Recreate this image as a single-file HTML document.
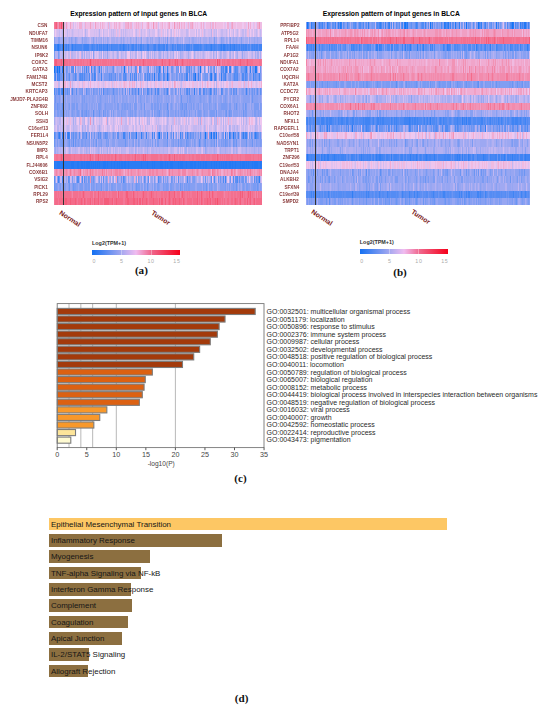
<!DOCTYPE html><html><head><meta charset="utf-8"><style>
*{margin:0;padding:0;box-sizing:border-box}
html,body{width:550px;height:713px;background:#fff;overflow:hidden;position:relative;font-family:"Liberation Sans",sans-serif}
div{position:absolute;white-space:nowrap}
.title{font-weight:bold;font-size:6.72px;color:#000;line-height:8px}
.gl{font-size:5.4px;font-weight:bold;line-height:7px;color:#8a3a3a;text-align:right;transform:scaleX(0.86);transform-origin:100% 50%}
.rot{font-size:6.9px;font-weight:bold;color:#7a2020;transform-origin:0 0;transform:rotate(33deg);line-height:7px}
.lgt{font-size:5.4px;font-weight:bold;color:#333;line-height:6px}
.cbar{width:88px;height:5px;background:linear-gradient(90deg,#1470f2 0%,#a4a8f0 33.3%,#f0bcf0 50%,#f06a90 66.7%,#f5001a 100%)}
.tk{font-size:5.3px;color:#aaa;width:20px;text-align:center;line-height:6px;letter-spacing:0.6px;text-indent:0.6px}
.plab{font-family:"Liberation Serif",serif;font-weight:bold;font-size:11.1px;color:#111;line-height:11px}
.cbox{border:1px solid #555}
.grid{width:1px;background:#b8b8b8}
.gbar{height:7.2px;border:1px solid #777}
.gol{font-size:7.0px;line-height:8px;color:#2a2a2a}
.tick{width:1px;height:2.5px;background:#555}
.xl{font-size:7.2px;line-height:8px;color:#444;width:20px;text-align:center}
.hbar{height:12.7px}
.hl{font-size:7.95px;line-height:11px;color:#161616}
</style></head><body><div class="title" id="ta" style="left:70.2px;top:9.6px">Expression pattern of input genes in BLCA</div><div class="title" id="tb" style="left:322.8px;top:9.6px">Expression pattern of input genes in BLCA</div><svg style="position:absolute;left:54px;top:21.6px;filter:blur(0.3px)" width="208.4" height="183.3" viewBox="0 0 208.4 183.3" shape-rendering="crispEdges"><rect x="0" y="0.00" width="208.40" height="7.38" fill="#efbde4"/><path fill="#f37898" d="M0 0.0h1v7.38h-1zM6 0.0h1v7.38h-1zM8 0.0h1v7.38h-1z"/><path fill="#f46b89" d="M1 0.0h1v7.38h-1zM5 0.0h1v7.38h-1z"/><path fill="#f45d7b" d="M2 0.0h1v7.38h-1z"/><path fill="#f285a7" d="M3 0.0h1v7.38h-1z"/><path fill="#f193b5" d="M4 0.0h1v7.38h-1zM99.2 0.0h1v7.38h-1zM120.2 0.0h1v7.38h-1zM205.4 0.0h1v7.38h-1z"/><path fill="#f5506c" d="M7 0.0h1v7.38h-1z"/><path fill="#f0add3" d="M10 0.0h1v7.38h-1zM25 0.0h3v7.38h-3zM31.1 0.0h1v7.38h-1zM46.1 0.0h1v7.38h-1zM48.1 0.0h1v7.38h-1zM54.1 0.0h1v7.38h-1zM60.1 0.0h1v7.38h-1zM62.1 0.0h1v7.38h-1zM65.1 0.0h1v7.38h-1zM71.1 0.0h3v7.38h-3zM76.1 0.0h2v7.38h-2zM82.2 0.0h1v7.38h-1zM84.2 0.0h1v7.38h-1zM88.2 0.0h1v7.38h-1zM93.2 0.0h1v7.38h-1zM102.2 0.0h1v7.38h-1zM108.2 0.0h1v7.38h-1zM114.2 0.0h1v7.38h-1zM123.2 0.0h1v7.38h-1zM127.2 0.0h1v7.38h-1zM130.2 0.0h1v7.38h-1zM134.3 0.0h1v7.38h-1zM136.3 0.0h2v7.38h-2zM147.3 0.0h1v7.38h-1zM149.3 0.0h1v7.38h-1zM156.3 0.0h1v7.38h-1zM158.3 0.0h2v7.38h-2zM161.3 0.0h1v7.38h-1zM173.3 0.0h2v7.38h-2zM177.3 0.0h1v7.38h-1zM196.4 0.0h1v7.38h-1zM203.4 0.0h2v7.38h-2z"/><path fill="#dfc2f0" d="M11 0.0h1v7.38h-1zM21 0.0h1v7.38h-1zM28.1 0.0h1v7.38h-1zM30.1 0.0h1v7.38h-1zM39.1 0.0h1v7.38h-1zM53.1 0.0h1v7.38h-1zM69.1 0.0h2v7.38h-2zM78.2 0.0h1v7.38h-1zM87.2 0.0h1v7.38h-1zM132.3 0.0h1v7.38h-1zM135.3 0.0h1v7.38h-1zM150.3 0.0h1v7.38h-1zM157.3 0.0h1v7.38h-1zM171.3 0.0h1v7.38h-1zM175.3 0.0h2v7.38h-2zM192.4 0.0h1v7.38h-1zM199.4 0.0h1v7.38h-1zM202.4 0.0h1v7.38h-1z"/><path fill="#f0a0c4" d="M12 0.0h1v7.38h-1zM16 0.0h1v7.38h-1zM36.1 0.0h1v7.38h-1zM41.1 0.0h1v7.38h-1zM74.1 0.0h1v7.38h-1zM94.2 0.0h1v7.38h-1zM115.2 0.0h1v7.38h-1zM125.2 0.0h1v7.38h-1zM138.3 0.0h1v7.38h-1zM178.3 0.0h1v7.38h-1zM194.4 0.0h1v7.38h-1z"/><path fill="#eec8f0" d="M14 0.0h2v7.38h-2zM20 0.0h1v7.38h-1zM22 0.0h1v7.38h-1zM24 0.0h1v7.38h-1zM29.1 0.0h1v7.38h-1zM40.1 0.0h1v7.38h-1zM45.1 0.0h1v7.38h-1zM47.1 0.0h1v7.38h-1zM51.1 0.0h2v7.38h-2zM58.1 0.0h2v7.38h-2zM63.1 0.0h1v7.38h-1zM67.1 0.0h2v7.38h-2zM79.2 0.0h1v7.38h-1zM89.2 0.0h3v7.38h-3zM96.2 0.0h1v7.38h-1zM98.2 0.0h1v7.38h-1zM105.2 0.0h1v7.38h-1zM109.2 0.0h1v7.38h-1zM112.2 0.0h1v7.38h-1zM116.2 0.0h2v7.38h-2zM119.2 0.0h1v7.38h-1zM126.2 0.0h1v7.38h-1zM131.3 0.0h1v7.38h-1zM140.3 0.0h1v7.38h-1zM142.3 0.0h1v7.38h-1zM144.3 0.0h2v7.38h-2zM148.3 0.0h1v7.38h-1zM151.3 0.0h1v7.38h-1zM160.3 0.0h1v7.38h-1zM169.3 0.0h1v7.38h-1zM172.3 0.0h1v7.38h-1zM182.3 0.0h1v7.38h-1zM188.4 0.0h2v7.38h-2zM193.4 0.0h1v7.38h-1zM195.4 0.0h1v7.38h-1zM197.4 0.0h2v7.38h-2zM201.4 0.0h1v7.38h-1z"/><path fill="#d1bdf1" d="M19 0.0h1v7.38h-1zM55.1 0.0h1v7.38h-1zM104.2 0.0h1v7.38h-1z"/><rect x="0" y="7.33" width="208.40" height="7.38" fill="#dac0f0"/><path fill="#d1bdf1" d="M0 7.3h1v7.38h-1zM3 7.3h2v7.38h-2zM7 7.3h1v7.38h-1zM15 7.3h1v7.38h-1zM17 7.3h1v7.38h-1zM19 7.3h1v7.38h-1zM24 7.3h1v7.38h-1zM28.1 7.3h1v7.38h-1zM32.1 7.3h2v7.38h-2zM40.1 7.3h1v7.38h-1zM42.1 7.3h1v7.38h-1zM44.1 7.3h1v7.38h-1zM53.1 7.3h1v7.38h-1zM55.1 7.3h1v7.38h-1zM58.1 7.3h1v7.38h-1zM60.1 7.3h2v7.38h-2zM63.1 7.3h1v7.38h-1zM72.1 7.3h2v7.38h-2zM75.1 7.3h1v7.38h-1zM78.2 7.3h1v7.38h-1zM81.2 7.3h1v7.38h-1zM90.2 7.3h1v7.38h-1zM93.2 7.3h2v7.38h-2zM98.2 7.3h3v7.38h-3zM105.2 7.3h1v7.38h-1zM109.2 7.3h1v7.38h-1zM116.2 7.3h1v7.38h-1zM124.2 7.3h1v7.38h-1zM127.2 7.3h2v7.38h-2zM134.3 7.3h1v7.38h-1zM144.3 7.3h2v7.38h-2zM151.3 7.3h1v7.38h-1zM154.3 7.3h3v7.38h-3zM159.3 7.3h1v7.38h-1zM161.3 7.3h1v7.38h-1zM166.3 7.3h1v7.38h-1zM169.3 7.3h3v7.38h-3zM182.3 7.3h1v7.38h-1zM187.4 7.3h1v7.38h-1zM192.4 7.3h1v7.38h-1zM195.4 7.3h1v7.38h-1zM198.4 7.3h1v7.38h-1zM200.4 7.3h2v7.38h-2zM203.4 7.3h1v7.38h-1z"/><path fill="#eec8f0" d="M1 7.3h1v7.38h-1zM10 7.3h1v7.38h-1zM29.1 7.3h1v7.38h-1zM34.1 7.3h2v7.38h-2zM48.1 7.3h1v7.38h-1zM54.1 7.3h1v7.38h-1zM79.2 7.3h2v7.38h-2zM92.2 7.3h1v7.38h-1zM101.2 7.3h2v7.38h-2zM110.2 7.3h1v7.38h-1zM112.2 7.3h1v7.38h-1zM115.2 7.3h1v7.38h-1zM118.2 7.3h1v7.38h-1zM121.2 7.3h1v7.38h-1zM123.2 7.3h1v7.38h-1zM125.2 7.3h1v7.38h-1zM135.3 7.3h1v7.38h-1zM141.3 7.3h1v7.38h-1zM143.3 7.3h1v7.38h-1zM146.3 7.3h1v7.38h-1zM163.3 7.3h1v7.38h-1zM174.3 7.3h1v7.38h-1zM176.3 7.3h1v7.38h-1zM180.3 7.3h1v7.38h-1zM185.4 7.3h1v7.38h-1zM196.4 7.3h1v7.38h-1zM199.4 7.3h1v7.38h-1zM204.4 7.3h1v7.38h-1z"/><path fill="#c2b7f1" d="M5 7.3h1v7.38h-1zM13 7.3h1v7.38h-1zM18 7.3h1v7.38h-1zM49.1 7.3h1v7.38h-1zM57.1 7.3h1v7.38h-1zM59.1 7.3h1v7.38h-1zM67.1 7.3h1v7.38h-1zM69.1 7.3h1v7.38h-1zM71.1 7.3h1v7.38h-1zM82.2 7.3h1v7.38h-1zM87.2 7.3h1v7.38h-1zM95.2 7.3h1v7.38h-1zM104.2 7.3h1v7.38h-1zM113.2 7.3h1v7.38h-1zM117.2 7.3h1v7.38h-1zM132.3 7.3h2v7.38h-2zM142.3 7.3h1v7.38h-1zM150.3 7.3h1v7.38h-1zM160.3 7.3h1v7.38h-1zM162.3 7.3h1v7.38h-1zM167.3 7.3h2v7.38h-2zM172.3 7.3h1v7.38h-1zM175.3 7.3h1v7.38h-1zM179.3 7.3h1v7.38h-1zM183.4 7.3h1v7.38h-1zM188.4 7.3h2v7.38h-2zM191.4 7.3h1v7.38h-1zM202.4 7.3h1v7.38h-1zM206.4 7.3h1v7.38h-1z"/><path fill="#b4b1f1" d="M8 7.3h1v7.38h-1zM31.1 7.3h1v7.38h-1zM45.1 7.3h1v7.38h-1zM157.3 7.3h1v7.38h-1z"/><path fill="#efbbe1" d="M62.1 7.3h1v7.38h-1zM65.1 7.3h1v7.38h-1zM85.2 7.3h1v7.38h-1zM107.2 7.3h1v7.38h-1zM120.2 7.3h1v7.38h-1zM148.3 7.3h1v7.38h-1zM158.3 7.3h1v7.38h-1zM193.4 7.3h2v7.38h-2z"/><rect x="0" y="14.66" width="208.40" height="7.38" fill="#a5acf2"/><path fill="#88a0f2" d="M0 14.7h1v7.38h-1zM4 14.7h2v7.38h-2zM9 14.7h1v7.38h-1zM17 14.7h1v7.38h-1zM21 14.7h1v7.38h-1zM28.1 14.7h1v7.38h-1zM39.1 14.7h1v7.38h-1zM82.2 14.7h1v7.38h-1zM87.2 14.7h1v7.38h-1zM105.2 14.7h1v7.38h-1zM167.3 14.7h1v7.38h-1zM176.3 14.7h1v7.38h-1zM187.4 14.7h1v7.38h-1z"/><path fill="#97a6f2" d="M8 14.7h1v7.38h-1zM15 14.7h1v7.38h-1zM18 14.7h1v7.38h-1zM22 14.7h1v7.38h-1zM30.1 14.7h3v7.38h-3zM42.1 14.7h1v7.38h-1zM47.1 14.7h1v7.38h-1zM49.1 14.7h1v7.38h-1zM53.1 14.7h1v7.38h-1zM67.1 14.7h1v7.38h-1zM69.1 14.7h1v7.38h-1zM76.1 14.7h1v7.38h-1zM93.2 14.7h1v7.38h-1zM96.2 14.7h1v7.38h-1zM98.2 14.7h1v7.38h-1zM104.2 14.7h1v7.38h-1zM109.2 14.7h1v7.38h-1zM111.2 14.7h1v7.38h-1zM116.2 14.7h2v7.38h-2zM119.2 14.7h1v7.38h-1zM123.2 14.7h1v7.38h-1zM135.3 14.7h1v7.38h-1zM138.3 14.7h2v7.38h-2zM146.3 14.7h1v7.38h-1zM155.3 14.7h1v7.38h-1zM162.3 14.7h1v7.38h-1zM168.3 14.7h2v7.38h-2zM172.3 14.7h1v7.38h-1zM175.3 14.7h1v7.38h-1zM179.3 14.7h1v7.38h-1zM182.3 14.7h1v7.38h-1zM195.4 14.7h1v7.38h-1zM200.4 14.7h1v7.38h-1zM203.4 14.7h1v7.38h-1z"/><path fill="#b4b1f1" d="M13 14.7h1v7.38h-1zM24 14.7h3v7.38h-3zM35.1 14.7h1v7.38h-1zM41.1 14.7h1v7.38h-1zM43.1 14.7h1v7.38h-1zM50.1 14.7h1v7.38h-1zM52.1 14.7h1v7.38h-1zM55.1 14.7h1v7.38h-1zM61.1 14.7h1v7.38h-1zM64.1 14.7h2v7.38h-2zM68.1 14.7h1v7.38h-1zM71.1 14.7h2v7.38h-2zM74.1 14.7h2v7.38h-2zM78.2 14.7h1v7.38h-1zM80.2 14.7h1v7.38h-1zM83.2 14.7h1v7.38h-1zM85.2 14.7h1v7.38h-1zM89.2 14.7h3v7.38h-3zM95.2 14.7h1v7.38h-1zM99.2 14.7h2v7.38h-2zM106.2 14.7h1v7.38h-1zM108.2 14.7h1v7.38h-1zM110.2 14.7h1v7.38h-1zM112.2 14.7h1v7.38h-1zM114.2 14.7h2v7.38h-2zM120.2 14.7h2v7.38h-2zM125.2 14.7h1v7.38h-1zM127.2 14.7h1v7.38h-1zM130.2 14.7h1v7.38h-1zM136.3 14.7h1v7.38h-1zM143.3 14.7h1v7.38h-1zM145.3 14.7h1v7.38h-1zM147.3 14.7h2v7.38h-2zM153.3 14.7h2v7.38h-2zM158.3 14.7h1v7.38h-1zM165.3 14.7h1v7.38h-1zM171.3 14.7h1v7.38h-1zM177.3 14.7h1v7.38h-1zM184.4 14.7h1v7.38h-1zM190.4 14.7h1v7.38h-1zM196.4 14.7h1v7.38h-1z"/><path fill="#c2b7f1" d="M36.1 14.7h1v7.38h-1zM48.1 14.7h1v7.38h-1zM56.1 14.7h1v7.38h-1zM88.2 14.7h1v7.38h-1zM163.3 14.7h2v7.38h-2zM174.3 14.7h1v7.38h-1zM194.4 14.7h1v7.38h-1z"/><path fill="#7a9bf3" d="M113.2 14.7h1v7.38h-1zM160.3 14.7h1v7.38h-1z"/><path fill="#d1bdf1" d="M129.2 14.7h1v7.38h-1z"/><rect x="0" y="22.00" width="208.40" height="7.38" fill="#4b89f4"/><path fill="#4084f4" d="M0 22.0h2v7.38h-2zM5 22.0h1v7.38h-1zM12 22.0h1v7.38h-1zM14 22.0h1v7.38h-1zM21 22.0h1v7.38h-1zM30.1 22.0h5v7.38h-5zM38.1 22.0h1v7.38h-1zM43.1 22.0h1v7.38h-1zM45.1 22.0h1v7.38h-1zM47.1 22.0h1v7.38h-1zM49.1 22.0h1v7.38h-1zM57.1 22.0h1v7.38h-1zM66.1 22.0h1v7.38h-1zM70.1 22.0h1v7.38h-1zM74.1 22.0h1v7.38h-1zM78.2 22.0h2v7.38h-2zM82.2 22.0h1v7.38h-1zM86.2 22.0h2v7.38h-2zM93.2 22.0h2v7.38h-2zM100.2 22.0h2v7.38h-2zM104.2 22.0h2v7.38h-2zM109.2 22.0h2v7.38h-2zM112.2 22.0h2v7.38h-2zM118.2 22.0h1v7.38h-1zM123.2 22.0h1v7.38h-1zM132.3 22.0h4v7.38h-4zM140.3 22.0h5v7.38h-5zM146.3 22.0h1v7.38h-1zM152.3 22.0h1v7.38h-1zM156.3 22.0h1v7.38h-1zM160.3 22.0h1v7.38h-1zM166.3 22.0h1v7.38h-1zM171.3 22.0h1v7.38h-1zM173.3 22.0h1v7.38h-1zM178.3 22.0h2v7.38h-2zM182.3 22.0h1v7.38h-1zM185.4 22.0h1v7.38h-1zM187.4 22.0h1v7.38h-1zM189.4 22.0h1v7.38h-1zM191.4 22.0h2v7.38h-2zM198.4 22.0h1v7.38h-1zM200.4 22.0h1v7.38h-1zM202.4 22.0h2v7.38h-2zM205.4 22.0h3v7.38h-3z"/><path fill="#317ef4" d="M3 22.0h1v7.38h-1zM8 22.0h1v7.38h-1zM18 22.0h1v7.38h-1zM53.1 22.0h1v7.38h-1zM69.1 22.0h1v7.38h-1zM157.3 22.0h1v7.38h-1zM167.3 22.0h1v7.38h-1zM169.3 22.0h2v7.38h-2zM176.3 22.0h1v7.38h-1zM180.3 22.0h1v7.38h-1z"/><path fill="#2379f5" d="M4 22.0h1v7.38h-1z"/><path fill="#5d8ff3" d="M7 22.0h1v7.38h-1zM10 22.0h1v7.38h-1zM13 22.0h1v7.38h-1zM15 22.0h1v7.38h-1zM28.1 22.0h1v7.38h-1zM35.1 22.0h2v7.38h-2zM41.1 22.0h1v7.38h-1zM44.1 22.0h1v7.38h-1zM48.1 22.0h1v7.38h-1zM54.1 22.0h1v7.38h-1zM56.1 22.0h1v7.38h-1zM64.1 22.0h1v7.38h-1zM73.1 22.0h1v7.38h-1zM75.1 22.0h2v7.38h-2zM80.2 22.0h1v7.38h-1zM85.2 22.0h1v7.38h-1zM88.2 22.0h1v7.38h-1zM90.2 22.0h3v7.38h-3zM95.2 22.0h4v7.38h-4zM102.2 22.0h2v7.38h-2zM116.2 22.0h2v7.38h-2zM120.2 22.0h1v7.38h-1zM127.2 22.0h1v7.38h-1zM131.3 22.0h1v7.38h-1zM136.3 22.0h1v7.38h-1zM148.3 22.0h2v7.38h-2zM163.3 22.0h1v7.38h-1zM186.4 22.0h1v7.38h-1zM193.4 22.0h1v7.38h-1zM204.4 22.0h1v7.38h-1z"/><path fill="#6b95f3" d="M16 22.0h1v7.38h-1zM83.2 22.0h1v7.38h-1zM111.2 22.0h1v7.38h-1zM114.2 22.0h2v7.38h-2zM122.2 22.0h1v7.38h-1zM129.2 22.0h1v7.38h-1zM138.3 22.0h1v7.38h-1zM196.4 22.0h1v7.38h-1z"/><rect x="0" y="29.33" width="208.40" height="7.38" fill="#c2b7f1"/><path fill="#7a9bf3" d="M0 29.3h1v7.38h-1zM4 29.3h1v7.38h-1z"/><path fill="#b4b1f1" d="M1 29.3h3v7.38h-3zM17 29.3h2v7.38h-2zM27.1 29.3h1v7.38h-1zM32.1 29.3h1v7.38h-1zM35.1 29.3h1v7.38h-1zM45.1 29.3h1v7.38h-1zM51.1 29.3h1v7.38h-1zM59.1 29.3h1v7.38h-1zM64.1 29.3h1v7.38h-1zM67.1 29.3h1v7.38h-1zM71.1 29.3h1v7.38h-1zM76.1 29.3h1v7.38h-1zM81.2 29.3h2v7.38h-2zM93.2 29.3h1v7.38h-1zM96.2 29.3h1v7.38h-1zM98.2 29.3h1v7.38h-1zM104.2 29.3h1v7.38h-1zM116.2 29.3h1v7.38h-1zM127.2 29.3h2v7.38h-2zM149.3 29.3h1v7.38h-1zM167.3 29.3h1v7.38h-1zM169.3 29.3h3v7.38h-3zM175.3 29.3h1v7.38h-1zM179.3 29.3h1v7.38h-1zM182.3 29.3h1v7.38h-1zM190.4 29.3h1v7.38h-1zM198.4 29.3h1v7.38h-1z"/><path fill="#97a6f2" d="M5 29.3h1v7.38h-1zM53.1 29.3h1v7.38h-1zM188.4 29.3h1v7.38h-1z"/><path fill="#a5acf2" d="M8 29.3h1v7.38h-1zM28.1 29.3h1v7.38h-1zM30.1 29.3h1v7.38h-1zM47.1 29.3h1v7.38h-1zM49.1 29.3h1v7.38h-1zM63.1 29.3h1v7.38h-1zM87.2 29.3h1v7.38h-1zM94.2 29.3h1v7.38h-1zM100.2 29.3h1v7.38h-1zM105.2 29.3h2v7.38h-2zM109.2 29.3h1v7.38h-1zM113.2 29.3h1v7.38h-1zM119.2 29.3h1v7.38h-1zM126.2 29.3h1v7.38h-1zM134.3 29.3h1v7.38h-1zM140.3 29.3h1v7.38h-1zM159.3 29.3h1v7.38h-1zM162.3 29.3h1v7.38h-1zM166.3 29.3h1v7.38h-1zM176.3 29.3h1v7.38h-1zM183.4 29.3h1v7.38h-1zM201.4 29.3h1v7.38h-1zM203.4 29.3h2v7.38h-2zM206.4 29.3h1v7.38h-1z"/><path fill="#d1bdf1" d="M10 29.3h1v7.38h-1zM12 29.3h1v7.38h-1zM29.1 29.3h1v7.38h-1zM42.1 29.3h1v7.38h-1zM44.1 29.3h1v7.38h-1zM56.1 29.3h2v7.38h-2zM60.1 29.3h2v7.38h-2zM66.1 29.3h1v7.38h-1zM70.1 29.3h1v7.38h-1zM77.1 29.3h1v7.38h-1zM79.2 29.3h2v7.38h-2zM84.2 29.3h3v7.38h-3zM90.2 29.3h1v7.38h-1zM95.2 29.3h1v7.38h-1zM99.2 29.3h1v7.38h-1zM103.2 29.3h1v7.38h-1zM108.2 29.3h1v7.38h-1zM110.2 29.3h1v7.38h-1zM115.2 29.3h1v7.38h-1zM125.2 29.3h1v7.38h-1zM130.2 29.3h2v7.38h-2zM139.3 29.3h1v7.38h-1zM142.3 29.3h1v7.38h-1zM145.3 29.3h1v7.38h-1zM147.3 29.3h1v7.38h-1zM151.3 29.3h1v7.38h-1zM153.3 29.3h1v7.38h-1zM155.3 29.3h1v7.38h-1zM161.3 29.3h1v7.38h-1zM164.3 29.3h1v7.38h-1zM168.3 29.3h1v7.38h-1zM173.3 29.3h1v7.38h-1zM177.3 29.3h1v7.38h-1zM184.4 29.3h3v7.38h-3zM195.4 29.3h2v7.38h-2zM199.4 29.3h2v7.38h-2zM205.4 29.3h1v7.38h-1z"/><path fill="#dfc2f0" d="M13 29.3h1v7.38h-1zM22 29.3h1v7.38h-1zM25 29.3h1v7.38h-1zM31.1 29.3h1v7.38h-1zM36.1 29.3h1v7.38h-1zM41.1 29.3h1v7.38h-1zM43.1 29.3h1v7.38h-1zM65.1 29.3h1v7.38h-1zM88.2 29.3h1v7.38h-1zM97.2 29.3h1v7.38h-1zM120.2 29.3h2v7.38h-2zM137.3 29.3h1v7.38h-1zM152.3 29.3h1v7.38h-1zM154.3 29.3h1v7.38h-1zM158.3 29.3h1v7.38h-1zM174.3 29.3h1v7.38h-1zM194.4 29.3h1v7.38h-1zM207.4 29.3h1v7.38h-1z"/><path fill="#efbbe1" d="M16 29.3h1v7.38h-1zM26.1 29.3h1v7.38h-1z"/><path fill="#eec8f0" d="M38.1 29.3h1v7.38h-1zM48.1 29.3h1v7.38h-1zM73.1 29.3h3v7.38h-3zM83.2 29.3h1v7.38h-1zM89.2 29.3h1v7.38h-1zM91.2 29.3h1v7.38h-1zM123.2 29.3h1v7.38h-1zM138.3 29.3h1v7.38h-1zM163.3 29.3h1v7.38h-1zM180.3 29.3h1v7.38h-1z"/><path fill="#88a0f2" d="M39.1 29.3h1v7.38h-1z"/><rect x="0" y="36.66" width="208.40" height="7.38" fill="#f3708f"/><path fill="#f45d7b" d="M1 36.7h2v7.38h-2zM7 36.7h1v7.38h-1zM10 36.7h1v7.38h-1zM77.1 36.7h1v7.38h-1zM89.2 36.7h1v7.38h-1zM108.2 36.7h1v7.38h-1zM115.2 36.7h1v7.38h-1zM121.2 36.7h1v7.38h-1zM123.2 36.7h1v7.38h-1zM128.2 36.7h1v7.38h-1zM165.3 36.7h1v7.38h-1zM186.4 36.7h1v7.38h-1zM193.4 36.7h1v7.38h-1z"/><path fill="#f37898" d="M8 36.7h1v7.38h-1zM14 36.7h1v7.38h-1zM17 36.7h3v7.38h-3zM22 36.7h1v7.38h-1zM25 36.7h1v7.38h-1zM28.1 36.7h1v7.38h-1zM30.1 36.7h3v7.38h-3zM34.1 36.7h1v7.38h-1zM38.1 36.7h1v7.38h-1zM40.1 36.7h1v7.38h-1zM42.1 36.7h1v7.38h-1zM45.1 36.7h1v7.38h-1zM47.1 36.7h1v7.38h-1zM53.1 36.7h1v7.38h-1zM55.1 36.7h1v7.38h-1zM58.1 36.7h1v7.38h-1zM60.1 36.7h1v7.38h-1zM63.1 36.7h1v7.38h-1zM71.1 36.7h1v7.38h-1zM74.1 36.7h2v7.38h-2zM78.2 36.7h2v7.38h-2zM81.2 36.7h2v7.38h-2zM84.2 36.7h1v7.38h-1zM87.2 36.7h1v7.38h-1zM92.2 36.7h1v7.38h-1zM98.2 36.7h1v7.38h-1zM103.2 36.7h4v7.38h-4zM109.2 36.7h1v7.38h-1zM112.2 36.7h2v7.38h-2zM117.2 36.7h1v7.38h-1zM119.2 36.7h1v7.38h-1zM124.2 36.7h3v7.38h-3zM130.2 36.7h3v7.38h-3zM134.3 36.7h1v7.38h-1zM137.3 36.7h1v7.38h-1zM145.3 36.7h2v7.38h-2zM149.3 36.7h1v7.38h-1zM151.3 36.7h2v7.38h-2zM156.3 36.7h5v7.38h-5zM166.3 36.7h1v7.38h-1zM169.3 36.7h1v7.38h-1zM171.3 36.7h2v7.38h-2zM176.3 36.7h2v7.38h-2zM180.3 36.7h1v7.38h-1zM182.3 36.7h2v7.38h-2zM191.4 36.7h1v7.38h-1zM199.4 36.7h6v7.38h-6zM207.4 36.7h1v7.38h-1z"/><path fill="#f5506c" d="M36.1 36.7h1v7.38h-1zM163.3 36.7h1v7.38h-1z"/><path fill="#f285a7" d="M70.1 36.7h1v7.38h-1zM162.3 36.7h1v7.38h-1zM167.3 36.7h1v7.38h-1z"/><rect x="0" y="43.99" width="208.40" height="7.38" fill="#8ea3f2"/><path fill="#1473f5" d="M0 44.0h1v7.38h-1zM3 44.0h1v7.38h-1zM5 44.0h1v7.38h-1z"/><path fill="#4e8af4" d="M1 44.0h1v7.38h-1zM4 44.0h1v7.38h-1zM9 44.0h1v7.38h-1zM19 44.0h1v7.38h-1zM40.1 44.0h1v7.38h-1zM85.2 44.0h1v7.38h-1zM135.3 44.0h1v7.38h-1zM167.3 44.0h1v7.38h-1zM169.3 44.0h1v7.38h-1zM181.3 44.0h1v7.38h-1zM191.4 44.0h1v7.38h-1z"/><path fill="#5d8ff3" d="M2 44.0h1v7.38h-1zM17 44.0h2v7.38h-2zM21 44.0h1v7.38h-1zM30.1 44.0h1v7.38h-1zM34.1 44.0h1v7.38h-1zM47.1 44.0h1v7.38h-1zM59.1 44.0h1v7.38h-1zM81.2 44.0h1v7.38h-1zM86.2 44.0h1v7.38h-1zM94.2 44.0h1v7.38h-1zM106.2 44.0h1v7.38h-1zM132.3 44.0h2v7.38h-2zM160.3 44.0h1v7.38h-1zM182.3 44.0h2v7.38h-2z"/><path fill="#7a9bf3" d="M6 44.0h1v7.38h-1zM13 44.0h1v7.38h-1zM44.1 44.0h1v7.38h-1zM53.1 44.0h1v7.38h-1zM58.1 44.0h1v7.38h-1zM67.1 44.0h1v7.38h-1zM74.1 44.0h1v7.38h-1zM77.1 44.0h1v7.38h-1zM93.2 44.0h1v7.38h-1zM100.2 44.0h1v7.38h-1zM103.2 44.0h1v7.38h-1zM123.2 44.0h1v7.38h-1zM134.3 44.0h1v7.38h-1zM156.3 44.0h2v7.38h-2zM159.3 44.0h1v7.38h-1zM173.3 44.0h1v7.38h-1zM188.4 44.0h2v7.38h-2zM198.4 44.0h1v7.38h-1zM200.4 44.0h1v7.38h-1z"/><path fill="#2379f5" d="M8 44.0h1v7.38h-1zM202.4 44.0h1v7.38h-1z"/><path fill="#a5acf2" d="M10 44.0h2v7.38h-2zM14 44.0h1v7.38h-1zM23 44.0h1v7.38h-1zM25 44.0h1v7.38h-1zM29.1 44.0h1v7.38h-1zM35.1 44.0h1v7.38h-1zM46.1 44.0h1v7.38h-1zM54.1 44.0h1v7.38h-1zM60.1 44.0h1v7.38h-1zM62.1 44.0h1v7.38h-1zM64.1 44.0h2v7.38h-2zM68.1 44.0h1v7.38h-1zM80.2 44.0h1v7.38h-1zM89.2 44.0h3v7.38h-3zM98.2 44.0h1v7.38h-1zM101.2 44.0h1v7.38h-1zM110.2 44.0h1v7.38h-1zM129.2 44.0h1v7.38h-1zM131.3 44.0h1v7.38h-1zM143.3 44.0h1v7.38h-1zM147.3 44.0h1v7.38h-1zM151.3 44.0h1v7.38h-1zM166.3 44.0h1v7.38h-1zM177.3 44.0h1v7.38h-1zM179.3 44.0h1v7.38h-1z"/><path fill="#6b95f3" d="M12 44.0h1v7.38h-1zM28.1 44.0h1v7.38h-1zM41.1 44.0h1v7.38h-1zM82.2 44.0h1v7.38h-1zM102.2 44.0h1v7.38h-1zM104.2 44.0h1v7.38h-1zM117.2 44.0h2v7.38h-2zM122.2 44.0h1v7.38h-1zM124.2 44.0h1v7.38h-1zM126.2 44.0h1v7.38h-1zM137.3 44.0h1v7.38h-1zM140.3 44.0h1v7.38h-1zM144.3 44.0h1v7.38h-1zM150.3 44.0h1v7.38h-1zM154.3 44.0h1v7.38h-1zM168.3 44.0h1v7.38h-1zM180.3 44.0h1v7.38h-1zM187.4 44.0h1v7.38h-1zM190.4 44.0h1v7.38h-1zM199.4 44.0h1v7.38h-1zM206.4 44.0h1v7.38h-1z"/><path fill="#c2b7f1" d="M16 44.0h1v7.38h-1zM22 44.0h1v7.38h-1zM48.1 44.0h1v7.38h-1zM50.1 44.0h1v7.38h-1zM61.1 44.0h1v7.38h-1zM78.2 44.0h1v7.38h-1zM107.2 44.0h1v7.38h-1zM128.2 44.0h1v7.38h-1zM130.2 44.0h1v7.38h-1zM142.3 44.0h1v7.38h-1zM155.3 44.0h1v7.38h-1zM164.3 44.0h2v7.38h-2zM194.4 44.0h1v7.38h-1z"/><path fill="#efbbe1" d="M20 44.0h1v7.38h-1zM36.1 44.0h1v7.38h-1zM73.1 44.0h1v7.38h-1z"/><path fill="#97a6f2" d="M24 44.0h1v7.38h-1zM26.1 44.0h1v7.38h-1zM31.1 44.0h1v7.38h-1zM38.1 44.0h2v7.38h-2zM43.1 44.0h1v7.38h-1zM49.1 44.0h1v7.38h-1zM52.1 44.0h1v7.38h-1zM55.1 44.0h3v7.38h-3zM63.1 44.0h1v7.38h-1zM71.1 44.0h1v7.38h-1zM92.2 44.0h1v7.38h-1zM96.2 44.0h1v7.38h-1zM111.2 44.0h1v7.38h-1zM114.2 44.0h1v7.38h-1zM127.2 44.0h1v7.38h-1zM136.3 44.0h1v7.38h-1zM139.3 44.0h1v7.38h-1zM145.3 44.0h1v7.38h-1zM184.4 44.0h1v7.38h-1zM186.4 44.0h1v7.38h-1zM195.4 44.0h1v7.38h-1zM203.4 44.0h1v7.38h-1z"/><path fill="#d1bdf1" d="M27.1 44.0h1v7.38h-1zM88.2 44.0h1v7.38h-1zM95.2 44.0h1v7.38h-1zM97.2 44.0h1v7.38h-1zM108.2 44.0h1v7.38h-1zM148.3 44.0h2v7.38h-2zM161.3 44.0h1v7.38h-1z"/><path fill="#4084f4" d="M32.1 44.0h1v7.38h-1zM37.1 44.0h1v7.38h-1zM45.1 44.0h1v7.38h-1zM113.2 44.0h1v7.38h-1zM171.3 44.0h1v7.38h-1zM175.3 44.0h1v7.38h-1z"/><path fill="#b4b1f1" d="M42.1 44.0h1v7.38h-1zM66.1 44.0h1v7.38h-1zM72.1 44.0h1v7.38h-1zM75.1 44.0h2v7.38h-2zM79.2 44.0h1v7.38h-1zM99.2 44.0h1v7.38h-1zM112.2 44.0h1v7.38h-1zM115.2 44.0h2v7.38h-2zM120.2 44.0h2v7.38h-2zM138.3 44.0h1v7.38h-1zM141.3 44.0h1v7.38h-1zM158.3 44.0h1v7.38h-1zM185.4 44.0h1v7.38h-1zM197.4 44.0h1v7.38h-1zM207.4 44.0h1v7.38h-1z"/><path fill="#1473f5" d="M70.1 44.0h1v7.38h-1z"/><path fill="#f0a0c4" d="M83.2 44.0h1v7.38h-1z"/><path fill="#eec8f0" d="M84.2 44.0h1v7.38h-1zM125.2 44.0h1v7.38h-1zM152.3 44.0h1v7.38h-1zM205.4 44.0h1v7.38h-1z"/><path fill="#317ef4" d="M105.2 44.0h1v7.38h-1zM109.2 44.0h1v7.38h-1zM172.3 44.0h1v7.38h-1zM176.3 44.0h1v7.38h-1zM192.4 44.0h1v7.38h-1zM196.4 44.0h1v7.38h-1z"/><path fill="#1473f5" d="M146.3 44.0h1v7.38h-1z"/><path fill="#dfc2f0" d="M153.3 44.0h1v7.38h-1zM163.3 44.0h1v7.38h-1zM174.3 44.0h1v7.38h-1zM178.3 44.0h1v7.38h-1zM204.4 44.0h1v7.38h-1z"/><path fill="#1473f5" d="M201.4 44.0h1v7.38h-1z"/><rect x="0" y="51.32" width="208.40" height="7.38" fill="#7197f3"/><path fill="#5d8ff3" d="M0 51.3h1v7.38h-1zM15 51.3h1v7.38h-1zM25 51.3h1v7.38h-1zM27.1 51.3h1v7.38h-1zM38.1 51.3h1v7.38h-1zM55.1 51.3h1v7.38h-1zM57.1 51.3h1v7.38h-1zM61.1 51.3h1v7.38h-1zM69.1 51.3h2v7.38h-2zM78.2 51.3h1v7.38h-1zM91.2 51.3h1v7.38h-1zM98.2 51.3h1v7.38h-1zM110.2 51.3h1v7.38h-1zM114.2 51.3h1v7.38h-1zM135.3 51.3h1v7.38h-1zM169.3 51.3h2v7.38h-2zM181.3 51.3h2v7.38h-2zM192.4 51.3h1v7.38h-1zM201.4 51.3h1v7.38h-1z"/><path fill="#4084f4" d="M1 51.3h1v7.38h-1zM3 51.3h1v7.38h-1zM5 51.3h1v7.38h-1zM40.1 51.3h1v7.38h-1zM47.1 51.3h1v7.38h-1zM104.2 51.3h1v7.38h-1zM132.3 51.3h2v7.38h-2zM144.3 51.3h1v7.38h-1zM156.3 51.3h1v7.38h-1zM161.3 51.3h1v7.38h-1zM171.3 51.3h1v7.38h-1zM199.4 51.3h1v7.38h-1zM205.4 51.3h1v7.38h-1z"/><path fill="#a5acf2" d="M2 51.3h1v7.38h-1zM23 51.3h1v7.38h-1zM48.1 51.3h1v7.38h-1zM64.1 51.3h1v7.38h-1zM68.1 51.3h1v7.38h-1zM73.1 51.3h1v7.38h-1zM75.1 51.3h1v7.38h-1zM85.2 51.3h1v7.38h-1zM108.2 51.3h1v7.38h-1zM124.2 51.3h1v7.38h-1zM159.3 51.3h1v7.38h-1zM166.3 51.3h1v7.38h-1zM173.3 51.3h1v7.38h-1zM186.4 51.3h1v7.38h-1zM207.4 51.3h1v7.38h-1z"/><path fill="#4e8af4" d="M4 51.3h1v7.38h-1zM21 51.3h1v7.38h-1zM26.1 51.3h1v7.38h-1zM28.1 51.3h1v7.38h-1zM30.1 51.3h1v7.38h-1zM35.1 51.3h1v7.38h-1zM41.1 51.3h1v7.38h-1zM71.1 51.3h1v7.38h-1zM76.1 51.3h1v7.38h-1zM80.2 51.3h1v7.38h-1zM82.2 51.3h1v7.38h-1zM93.2 51.3h1v7.38h-1zM95.2 51.3h1v7.38h-1zM105.2 51.3h1v7.38h-1zM109.2 51.3h1v7.38h-1zM139.3 51.3h2v7.38h-2zM160.3 51.3h1v7.38h-1zM180.3 51.3h1v7.38h-1zM183.4 51.3h1v7.38h-1zM188.4 51.3h2v7.38h-2zM191.4 51.3h1v7.38h-1z"/><path fill="#317ef4" d="M9 51.3h1v7.38h-1zM167.3 51.3h1v7.38h-1z"/><path fill="#7a9bf3" d="M10 51.3h1v7.38h-1zM14 51.3h1v7.38h-1zM20 51.3h1v7.38h-1zM31.1 51.3h1v7.38h-1zM33.1 51.3h1v7.38h-1zM37.1 51.3h1v7.38h-1zM39.1 51.3h1v7.38h-1zM44.1 51.3h1v7.38h-1zM50.1 51.3h5v7.38h-5zM58.1 51.3h1v7.38h-1zM60.1 51.3h1v7.38h-1zM63.1 51.3h1v7.38h-1zM84.2 51.3h1v7.38h-1zM86.2 51.3h1v7.38h-1zM96.2 51.3h1v7.38h-1zM102.2 51.3h1v7.38h-1zM118.2 51.3h1v7.38h-1zM123.2 51.3h1v7.38h-1zM131.3 51.3h1v7.38h-1zM150.3 51.3h1v7.38h-1zM152.3 51.3h1v7.38h-1zM175.3 51.3h1v7.38h-1zM190.4 51.3h1v7.38h-1zM195.4 51.3h1v7.38h-1zM203.4 51.3h1v7.38h-1zM206.4 51.3h1v7.38h-1z"/><path fill="#b4b1f1" d="M11 51.3h1v7.38h-1zM116.2 51.3h1v7.38h-1zM134.3 51.3h1v7.38h-1zM154.3 51.3h1v7.38h-1zM194.4 51.3h1v7.38h-1z"/><path fill="#88a0f2" d="M13 51.3h1v7.38h-1zM18 51.3h1v7.38h-1zM34.1 51.3h1v7.38h-1zM45.1 51.3h1v7.38h-1zM67.1 51.3h1v7.38h-1zM92.2 51.3h1v7.38h-1zM97.2 51.3h1v7.38h-1zM107.2 51.3h1v7.38h-1zM111.2 51.3h2v7.38h-2zM115.2 51.3h1v7.38h-1zM117.2 51.3h1v7.38h-1zM119.2 51.3h2v7.38h-2zM126.2 51.3h1v7.38h-1zM143.3 51.3h1v7.38h-1zM145.3 51.3h1v7.38h-1zM149.3 51.3h1v7.38h-1zM158.3 51.3h1v7.38h-1zM165.3 51.3h1v7.38h-1zM168.3 51.3h1v7.38h-1zM172.3 51.3h1v7.38h-1zM174.3 51.3h1v7.38h-1zM178.3 51.3h1v7.38h-1zM184.4 51.3h2v7.38h-2zM187.4 51.3h1v7.38h-1zM197.4 51.3h1v7.38h-1z"/><path fill="#97a6f2" d="M16 51.3h2v7.38h-2zM24 51.3h1v7.38h-1zM43.1 51.3h1v7.38h-1zM46.1 51.3h1v7.38h-1zM49.1 51.3h1v7.38h-1zM62.1 51.3h1v7.38h-1zM74.1 51.3h1v7.38h-1zM77.1 51.3h1v7.38h-1zM79.2 51.3h1v7.38h-1zM87.2 51.3h2v7.38h-2zM99.2 51.3h1v7.38h-1zM101.2 51.3h1v7.38h-1zM103.2 51.3h1v7.38h-1zM121.2 51.3h1v7.38h-1zM129.2 51.3h1v7.38h-1zM136.3 51.3h1v7.38h-1zM138.3 51.3h1v7.38h-1zM142.3 51.3h1v7.38h-1zM148.3 51.3h1v7.38h-1zM155.3 51.3h1v7.38h-1zM177.3 51.3h1v7.38h-1zM198.4 51.3h1v7.38h-1z"/><path fill="#c2b7f1" d="M36.1 51.3h1v7.38h-1zM42.1 51.3h1v7.38h-1zM83.2 51.3h1v7.38h-1zM164.3 51.3h1v7.38h-1z"/><path fill="#d1bdf1" d="M89.2 51.3h1v7.38h-1zM163.3 51.3h1v7.38h-1z"/><path fill="#2379f5" d="M100.2 51.3h1v7.38h-1zM157.3 51.3h1v7.38h-1z"/><path fill="#1473f5" d="M113.2 51.3h1v7.38h-1zM141.3 51.3h1v7.38h-1z"/><path fill="#dfc2f0" d="M147.3 51.3h1v7.38h-1z"/><rect x="0" y="58.66" width="208.40" height="7.38" fill="#ebc7f0"/><path fill="#dfc2f0" d="M0 58.7h3v7.38h-3zM8 58.7h2v7.38h-2zM14 58.7h1v7.38h-1zM17 58.7h1v7.38h-1zM19 58.7h2v7.38h-2zM23 58.7h2v7.38h-2zM40.1 58.7h1v7.38h-1zM43.1 58.7h1v7.38h-1zM45.1 58.7h1v7.38h-1zM47.1 58.7h2v7.38h-2zM50.1 58.7h1v7.38h-1zM54.1 58.7h2v7.38h-2zM59.1 58.7h1v7.38h-1zM65.1 58.7h1v7.38h-1zM67.1 58.7h1v7.38h-1zM77.1 58.7h1v7.38h-1zM91.2 58.7h2v7.38h-2zM97.2 58.7h1v7.38h-1zM104.2 58.7h2v7.38h-2zM112.2 58.7h1v7.38h-1zM124.2 58.7h1v7.38h-1zM128.2 58.7h1v7.38h-1zM130.2 58.7h1v7.38h-1zM140.3 58.7h3v7.38h-3zM145.3 58.7h1v7.38h-1zM150.3 58.7h1v7.38h-1zM157.3 58.7h1v7.38h-1zM166.3 58.7h1v7.38h-1zM179.3 58.7h5v7.38h-5zM187.4 58.7h1v7.38h-1zM193.4 58.7h1v7.38h-1zM198.4 58.7h2v7.38h-2zM201.4 58.7h1v7.38h-1zM203.4 58.7h1v7.38h-1z"/><path fill="#efbbe1" d="M3 58.7h1v7.38h-1zM13 58.7h1v7.38h-1zM25 58.7h1v7.38h-1zM29.1 58.7h2v7.38h-2zM44.1 58.7h1v7.38h-1zM51.1 58.7h1v7.38h-1zM57.1 58.7h1v7.38h-1zM60.1 58.7h1v7.38h-1zM62.1 58.7h1v7.38h-1zM66.1 58.7h1v7.38h-1zM69.1 58.7h1v7.38h-1zM71.1 58.7h2v7.38h-2zM76.1 58.7h1v7.38h-1zM79.2 58.7h1v7.38h-1zM88.2 58.7h2v7.38h-2zM96.2 58.7h1v7.38h-1zM101.2 58.7h2v7.38h-2zM106.2 58.7h2v7.38h-2zM111.2 58.7h1v7.38h-1zM115.2 58.7h2v7.38h-2zM123.2 58.7h1v7.38h-1zM125.2 58.7h1v7.38h-1zM129.2 58.7h1v7.38h-1zM131.3 58.7h1v7.38h-1zM135.3 58.7h1v7.38h-1zM138.3 58.7h2v7.38h-2zM143.3 58.7h1v7.38h-1zM154.3 58.7h1v7.38h-1zM156.3 58.7h1v7.38h-1zM159.3 58.7h1v7.38h-1zM163.3 58.7h2v7.38h-2zM172.3 58.7h2v7.38h-2zM177.3 58.7h1v7.38h-1zM184.4 58.7h3v7.38h-3zM205.4 58.7h1v7.38h-1z"/><path fill="#c2b7f1" d="M4 58.7h2v7.38h-2zM18 58.7h1v7.38h-1zM82.2 58.7h1v7.38h-1zM93.2 58.7h1v7.38h-1zM127.2 58.7h1v7.38h-1zM160.3 58.7h1v7.38h-1z"/><path fill="#f0add3" d="M10 58.7h2v7.38h-2zM36.1 58.7h1v7.38h-1zM70.1 58.7h1v7.38h-1zM75.1 58.7h1v7.38h-1zM78.2 58.7h1v7.38h-1zM80.2 58.7h1v7.38h-1zM86.2 58.7h1v7.38h-1zM121.2 58.7h1v7.38h-1zM148.3 58.7h1v7.38h-1zM153.3 58.7h1v7.38h-1zM178.3 58.7h1v7.38h-1zM190.4 58.7h1v7.38h-1zM194.4 58.7h1v7.38h-1zM197.4 58.7h1v7.38h-1zM207.4 58.7h1v7.38h-1z"/><path fill="#d1bdf1" d="M15 58.7h1v7.38h-1zM28.1 58.7h1v7.38h-1zM34.1 58.7h1v7.38h-1zM49.1 58.7h1v7.38h-1zM58.1 58.7h1v7.38h-1zM87.2 58.7h1v7.38h-1zM100.2 58.7h1v7.38h-1zM109.2 58.7h1v7.38h-1zM114.2 58.7h1v7.38h-1zM118.2 58.7h1v7.38h-1zM126.2 58.7h1v7.38h-1zM146.3 58.7h1v7.38h-1zM151.3 58.7h1v7.38h-1zM167.3 58.7h1v7.38h-1zM169.3 58.7h1v7.38h-1zM175.3 58.7h2v7.38h-2zM189.4 58.7h1v7.38h-1zM191.4 58.7h2v7.38h-2zM202.4 58.7h1v7.38h-1z"/><path fill="#f0a0c4" d="M16 58.7h1v7.38h-1zM120.2 58.7h1v7.38h-1z"/><path fill="#b4b1f1" d="M162.3 58.7h1v7.38h-1z"/><rect x="0" y="65.99" width="208.40" height="7.38" fill="#7d9cf3"/><path fill="#4e8af4" d="M0 66.0h1v7.38h-1zM4 66.0h2v7.38h-2zM7 66.0h1v7.38h-1zM9 66.0h1v7.38h-1zM18 66.0h1v7.38h-1zM49.1 66.0h1v7.38h-1zM93.2 66.0h1v7.38h-1zM101.2 66.0h1v7.38h-1zM104.2 66.0h1v7.38h-1zM133.3 66.0h1v7.38h-1zM135.3 66.0h1v7.38h-1zM145.3 66.0h1v7.38h-1zM149.3 66.0h1v7.38h-1zM167.3 66.0h1v7.38h-1z"/><path fill="#6b95f3" d="M2 66.0h1v7.38h-1zM11 66.0h1v7.38h-1zM15 66.0h1v7.38h-1zM28.1 66.0h1v7.38h-1zM39.1 66.0h1v7.38h-1zM45.1 66.0h1v7.38h-1zM47.1 66.0h1v7.38h-1zM53.1 66.0h1v7.38h-1zM68.1 66.0h1v7.38h-1zM87.2 66.0h1v7.38h-1zM89.2 66.0h1v7.38h-1zM110.2 66.0h1v7.38h-1zM112.2 66.0h1v7.38h-1zM121.2 66.0h1v7.38h-1zM126.2 66.0h1v7.38h-1zM152.3 66.0h1v7.38h-1zM155.3 66.0h1v7.38h-1zM162.3 66.0h1v7.38h-1zM177.3 66.0h1v7.38h-1zM180.3 66.0h1v7.38h-1zM195.4 66.0h1v7.38h-1zM198.4 66.0h1v7.38h-1zM200.4 66.0h1v7.38h-1z"/><path fill="#88a0f2" d="M6 66.0h1v7.38h-1zM10 66.0h1v7.38h-1zM17 66.0h1v7.38h-1zM19 66.0h2v7.38h-2zM41.1 66.0h1v7.38h-1zM56.1 66.0h2v7.38h-2zM61.1 66.0h1v7.38h-1zM73.1 66.0h1v7.38h-1zM77.1 66.0h1v7.38h-1zM85.2 66.0h1v7.38h-1zM90.2 66.0h2v7.38h-2zM98.2 66.0h1v7.38h-1zM100.2 66.0h1v7.38h-1zM105.2 66.0h1v7.38h-1zM107.2 66.0h1v7.38h-1zM109.2 66.0h1v7.38h-1zM111.2 66.0h1v7.38h-1zM114.2 66.0h1v7.38h-1zM122.2 66.0h1v7.38h-1zM137.3 66.0h2v7.38h-2zM151.3 66.0h1v7.38h-1zM153.3 66.0h1v7.38h-1zM159.3 66.0h1v7.38h-1zM161.3 66.0h1v7.38h-1zM173.3 66.0h1v7.38h-1zM175.3 66.0h1v7.38h-1zM185.4 66.0h1v7.38h-1zM187.4 66.0h1v7.38h-1zM199.4 66.0h1v7.38h-1zM204.4 66.0h1v7.38h-1zM207.4 66.0h1v7.38h-1z"/><path fill="#317ef4" d="M8 66.0h1v7.38h-1zM140.3 66.0h1v7.38h-1z"/><path fill="#5d8ff3" d="M13 66.0h1v7.38h-1zM22 66.0h1v7.38h-1zM32.1 66.0h1v7.38h-1zM59.1 66.0h1v7.38h-1zM71.1 66.0h1v7.38h-1zM75.1 66.0h1v7.38h-1zM78.2 66.0h1v7.38h-1zM81.2 66.0h1v7.38h-1zM94.2 66.0h1v7.38h-1zM97.2 66.0h1v7.38h-1zM103.2 66.0h1v7.38h-1zM132.3 66.0h1v7.38h-1zM146.3 66.0h1v7.38h-1zM150.3 66.0h1v7.38h-1zM157.3 66.0h1v7.38h-1zM160.3 66.0h1v7.38h-1zM168.3 66.0h1v7.38h-1zM179.3 66.0h1v7.38h-1zM182.3 66.0h1v7.38h-1zM203.4 66.0h1v7.38h-1zM206.4 66.0h1v7.38h-1z"/><path fill="#dfc2f0" d="M16 66.0h1v7.38h-1z"/><path fill="#97a6f2" d="M21 66.0h1v7.38h-1zM23 66.0h2v7.38h-2zM30.1 66.0h1v7.38h-1zM66.1 66.0h2v7.38h-2zM69.1 66.0h1v7.38h-1zM83.2 66.0h1v7.38h-1zM86.2 66.0h1v7.38h-1zM92.2 66.0h1v7.38h-1zM96.2 66.0h1v7.38h-1zM99.2 66.0h1v7.38h-1zM102.2 66.0h1v7.38h-1zM108.2 66.0h1v7.38h-1zM116.2 66.0h1v7.38h-1zM119.2 66.0h1v7.38h-1zM128.2 66.0h1v7.38h-1zM131.3 66.0h1v7.38h-1zM139.3 66.0h1v7.38h-1zM143.3 66.0h1v7.38h-1zM164.3 66.0h1v7.38h-1zM169.3 66.0h1v7.38h-1zM186.4 66.0h1v7.38h-1zM190.4 66.0h1v7.38h-1zM194.4 66.0h1v7.38h-1zM196.4 66.0h1v7.38h-1zM201.4 66.0h1v7.38h-1zM205.4 66.0h1v7.38h-1z"/><path fill="#c2b7f1" d="M29.1 66.0h1v7.38h-1zM72.1 66.0h1v7.38h-1zM123.2 66.0h1v7.38h-1z"/><path fill="#a5acf2" d="M31.1 66.0h1v7.38h-1zM36.1 66.0h1v7.38h-1zM38.1 66.0h1v7.38h-1zM44.1 66.0h1v7.38h-1zM46.1 66.0h1v7.38h-1zM64.1 66.0h1v7.38h-1zM70.1 66.0h1v7.38h-1zM76.1 66.0h1v7.38h-1zM106.2 66.0h1v7.38h-1zM120.2 66.0h1v7.38h-1zM127.2 66.0h1v7.38h-1zM129.2 66.0h1v7.38h-1zM136.3 66.0h1v7.38h-1zM141.3 66.0h1v7.38h-1zM147.3 66.0h2v7.38h-2zM170.3 66.0h1v7.38h-1zM178.3 66.0h1v7.38h-1zM183.4 66.0h2v7.38h-2z"/><path fill="#b4b1f1" d="M48.1 66.0h1v7.38h-1zM74.1 66.0h1v7.38h-1zM125.2 66.0h1v7.38h-1zM144.3 66.0h1v7.38h-1zM158.3 66.0h1v7.38h-1zM163.3 66.0h1v7.38h-1zM165.3 66.0h2v7.38h-2zM174.3 66.0h1v7.38h-1z"/><path fill="#4084f4" d="M84.2 66.0h1v7.38h-1zM113.2 66.0h1v7.38h-1zM156.3 66.0h1v7.38h-1zM192.4 66.0h1v7.38h-1z"/><path fill="#d1bdf1" d="M88.2 66.0h1v7.38h-1zM115.2 66.0h1v7.38h-1z"/><rect x="0" y="73.32" width="208.40" height="7.38" fill="#91a4f2"/><path fill="#88a0f2" d="M0 73.3h1v7.38h-1zM2 73.3h3v7.38h-3zM8 73.3h2v7.38h-2zM11 73.3h1v7.38h-1zM18 73.3h1v7.38h-1zM20 73.3h1v7.38h-1zM22 73.3h1v7.38h-1zM29.1 73.3h1v7.38h-1zM32.1 73.3h1v7.38h-1zM35.1 73.3h1v7.38h-1zM38.1 73.3h2v7.38h-2zM43.1 73.3h1v7.38h-1zM45.1 73.3h1v7.38h-1zM47.1 73.3h1v7.38h-1zM51.1 73.3h1v7.38h-1zM53.1 73.3h1v7.38h-1zM55.1 73.3h1v7.38h-1zM58.1 73.3h1v7.38h-1zM63.1 73.3h1v7.38h-1zM68.1 73.3h2v7.38h-2zM72.1 73.3h1v7.38h-1zM79.2 73.3h1v7.38h-1zM82.2 73.3h1v7.38h-1zM84.2 73.3h1v7.38h-1zM87.2 73.3h1v7.38h-1zM90.2 73.3h1v7.38h-1zM92.2 73.3h2v7.38h-2zM97.2 73.3h1v7.38h-1zM100.2 73.3h2v7.38h-2zM104.2 73.3h2v7.38h-2zM107.2 73.3h1v7.38h-1zM112.2 73.3h1v7.38h-1zM114.2 73.3h1v7.38h-1zM117.2 73.3h1v7.38h-1zM126.2 73.3h1v7.38h-1zM137.3 73.3h4v7.38h-4zM145.3 73.3h1v7.38h-1zM147.3 73.3h1v7.38h-1zM149.3 73.3h2v7.38h-2zM159.3 73.3h1v7.38h-1zM161.3 73.3h1v7.38h-1zM166.3 73.3h2v7.38h-2zM169.3 73.3h2v7.38h-2zM172.3 73.3h1v7.38h-1zM176.3 73.3h1v7.38h-1zM179.3 73.3h2v7.38h-2zM183.4 73.3h1v7.38h-1zM189.4 73.3h7v7.38h-7zM197.4 73.3h1v7.38h-1zM199.4 73.3h5v7.38h-5zM206.4 73.3h1v7.38h-1z"/><path fill="#6b95f3" d="M1 73.3h1v7.38h-1zM127.2 73.3h1v7.38h-1zM198.4 73.3h1v7.38h-1z"/><path fill="#7a9bf3" d="M5 73.3h1v7.38h-1zM28.1 73.3h1v7.38h-1zM30.1 73.3h1v7.38h-1zM46.1 73.3h1v7.38h-1zM60.1 73.3h1v7.38h-1zM81.2 73.3h1v7.38h-1zM86.2 73.3h1v7.38h-1zM103.2 73.3h1v7.38h-1zM133.3 73.3h1v7.38h-1zM135.3 73.3h2v7.38h-2zM146.3 73.3h1v7.38h-1zM155.3 73.3h2v7.38h-2zM171.3 73.3h1v7.38h-1z"/><path fill="#a5acf2" d="M7 73.3h1v7.38h-1zM12 73.3h1v7.38h-1zM16 73.3h1v7.38h-1zM26.1 73.3h1v7.38h-1zM42.1 73.3h1v7.38h-1zM54.1 73.3h1v7.38h-1zM56.1 73.3h1v7.38h-1zM64.1 73.3h1v7.38h-1zM67.1 73.3h1v7.38h-1zM74.1 73.3h1v7.38h-1zM80.2 73.3h1v7.38h-1zM91.2 73.3h1v7.38h-1zM96.2 73.3h1v7.38h-1zM98.2 73.3h1v7.38h-1zM109.2 73.3h1v7.38h-1zM116.2 73.3h1v7.38h-1zM121.2 73.3h1v7.38h-1zM125.2 73.3h1v7.38h-1zM153.3 73.3h1v7.38h-1zM158.3 73.3h1v7.38h-1zM163.3 73.3h1v7.38h-1zM168.3 73.3h1v7.38h-1zM174.3 73.3h1v7.38h-1zM177.3 73.3h1v7.38h-1zM186.4 73.3h1v7.38h-1zM196.4 73.3h1v7.38h-1zM207.4 73.3h1v7.38h-1z"/><path fill="#b4b1f1" d="M83.2 73.3h1v7.38h-1zM120.2 73.3h1v7.38h-1z"/><rect x="0" y="80.65" width="208.40" height="7.38" fill="#88a0f2"/><path fill="#7a9bf3" d="M0 80.7h2v7.38h-2zM4 80.7h2v7.38h-2zM15 80.7h1v7.38h-1zM18 80.7h3v7.38h-3zM22 80.7h2v7.38h-2zM28.1 80.7h1v7.38h-1zM32.1 80.7h1v7.38h-1zM44.1 80.7h3v7.38h-3zM51.1 80.7h1v7.38h-1zM63.1 80.7h2v7.38h-2zM68.1 80.7h1v7.38h-1zM70.1 80.7h2v7.38h-2zM73.1 80.7h1v7.38h-1zM76.1 80.7h1v7.38h-1zM80.2 80.7h3v7.38h-3zM87.2 80.7h1v7.38h-1zM97.2 80.7h2v7.38h-2zM100.2 80.7h2v7.38h-2zM103.2 80.7h2v7.38h-2zM106.2 80.7h1v7.38h-1zM117.2 80.7h1v7.38h-1zM126.2 80.7h2v7.38h-2zM130.2 80.7h2v7.38h-2zM137.3 80.7h1v7.38h-1zM139.3 80.7h1v7.38h-1zM144.3 80.7h1v7.38h-1zM149.3 80.7h1v7.38h-1zM155.3 80.7h1v7.38h-1zM161.3 80.7h1v7.38h-1zM167.3 80.7h6v7.38h-6zM175.3 80.7h2v7.38h-2zM180.3 80.7h1v7.38h-1zM189.4 80.7h1v7.38h-1zM192.4 80.7h1v7.38h-1zM200.4 80.7h5v7.38h-5zM206.4 80.7h1v7.38h-1z"/><path fill="#6b95f3" d="M3 80.7h1v7.38h-1zM90.2 80.7h1v7.38h-1zM128.2 80.7h1v7.38h-1zM132.3 80.7h1v7.38h-1zM182.3 80.7h1v7.38h-1zM191.4 80.7h1v7.38h-1z"/><path fill="#5d8ff3" d="M8 80.7h1v7.38h-1zM113.2 80.7h1v7.38h-1z"/><path fill="#97a6f2" d="M10 80.7h1v7.38h-1zM12 80.7h2v7.38h-2zM21 80.7h1v7.38h-1zM24 80.7h3v7.38h-3zM34.1 80.7h1v7.38h-1zM36.1 80.7h1v7.38h-1zM39.1 80.7h1v7.38h-1zM41.1 80.7h1v7.38h-1zM48.1 80.7h2v7.38h-2zM59.1 80.7h1v7.38h-1zM62.1 80.7h1v7.38h-1zM65.1 80.7h2v7.38h-2zM77.1 80.7h1v7.38h-1zM84.2 80.7h2v7.38h-2zM88.2 80.7h2v7.38h-2zM92.2 80.7h5v7.38h-5zM99.2 80.7h1v7.38h-1zM105.2 80.7h1v7.38h-1zM108.2 80.7h1v7.38h-1zM119.2 80.7h1v7.38h-1zM125.2 80.7h1v7.38h-1zM133.3 80.7h1v7.38h-1zM138.3 80.7h1v7.38h-1zM141.3 80.7h1v7.38h-1zM145.3 80.7h1v7.38h-1zM147.3 80.7h1v7.38h-1zM154.3 80.7h1v7.38h-1zM158.3 80.7h1v7.38h-1zM174.3 80.7h1v7.38h-1zM177.3 80.7h3v7.38h-3zM184.4 80.7h1v7.38h-1zM186.4 80.7h2v7.38h-2zM190.4 80.7h1v7.38h-1zM193.4 80.7h3v7.38h-3zM198.4 80.7h2v7.38h-2z"/><path fill="#a5acf2" d="M16 80.7h1v7.38h-1zM43.1 80.7h1v7.38h-1zM79.2 80.7h1v7.38h-1zM83.2 80.7h1v7.38h-1zM91.2 80.7h1v7.38h-1zM115.2 80.7h1v7.38h-1zM120.2 80.7h1v7.38h-1zM123.2 80.7h1v7.38h-1zM148.3 80.7h1v7.38h-1zM196.4 80.7h1v7.38h-1zM205.4 80.7h1v7.38h-1z"/><path fill="#b4b1f1" d="M163.3 80.7h1v7.38h-1z"/><rect x="0" y="87.98" width="208.40" height="7.38" fill="#88a0f2"/><path fill="#7a9bf3" d="M0 88.0h1v7.38h-1zM3 88.0h2v7.38h-2zM6 88.0h2v7.38h-2zM18 88.0h1v7.38h-1zM23 88.0h2v7.38h-2zM27.1 88.0h1v7.38h-1zM30.1 88.0h2v7.38h-2zM34.1 88.0h1v7.38h-1zM51.1 88.0h1v7.38h-1zM53.1 88.0h1v7.38h-1zM57.1 88.0h1v7.38h-1zM59.1 88.0h1v7.38h-1zM67.1 88.0h1v7.38h-1zM76.1 88.0h1v7.38h-1zM78.2 88.0h1v7.38h-1zM81.2 88.0h1v7.38h-1zM90.2 88.0h1v7.38h-1zM98.2 88.0h1v7.38h-1zM100.2 88.0h1v7.38h-1zM103.2 88.0h2v7.38h-2zM113.2 88.0h1v7.38h-1zM121.2 88.0h1v7.38h-1zM124.2 88.0h1v7.38h-1zM127.2 88.0h1v7.38h-1zM132.3 88.0h1v7.38h-1zM135.3 88.0h1v7.38h-1zM141.3 88.0h1v7.38h-1zM144.3 88.0h3v7.38h-3zM150.3 88.0h1v7.38h-1zM156.3 88.0h5v7.38h-5zM171.3 88.0h1v7.38h-1zM176.3 88.0h2v7.38h-2zM191.4 88.0h2v7.38h-2zM200.4 88.0h2v7.38h-2zM204.4 88.0h1v7.38h-1zM206.4 88.0h1v7.38h-1z"/><path fill="#97a6f2" d="M2 88.0h1v7.38h-1zM11 88.0h1v7.38h-1zM13 88.0h1v7.38h-1zM15 88.0h1v7.38h-1zM21 88.0h1v7.38h-1zM36.1 88.0h1v7.38h-1zM38.1 88.0h1v7.38h-1zM41.1 88.0h1v7.38h-1zM52.1 88.0h1v7.38h-1zM55.1 88.0h1v7.38h-1zM60.1 88.0h2v7.38h-2zM66.1 88.0h1v7.38h-1zM72.1 88.0h1v7.38h-1zM79.2 88.0h1v7.38h-1zM84.2 88.0h1v7.38h-1zM86.2 88.0h1v7.38h-1zM88.2 88.0h2v7.38h-2zM92.2 88.0h1v7.38h-1zM97.2 88.0h1v7.38h-1zM111.2 88.0h1v7.38h-1zM120.2 88.0h1v7.38h-1zM123.2 88.0h1v7.38h-1zM125.2 88.0h1v7.38h-1zM134.3 88.0h1v7.38h-1zM136.3 88.0h1v7.38h-1zM138.3 88.0h3v7.38h-3zM161.3 88.0h1v7.38h-1zM168.3 88.0h1v7.38h-1zM170.3 88.0h1v7.38h-1zM173.3 88.0h1v7.38h-1zM184.4 88.0h1v7.38h-1zM186.4 88.0h1v7.38h-1zM188.4 88.0h1v7.38h-1zM193.4 88.0h5v7.38h-5zM199.4 88.0h1v7.38h-1zM207.4 88.0h1v7.38h-1z"/><path fill="#6b95f3" d="M8 88.0h1v7.38h-1zM28.1 88.0h1v7.38h-1zM32.1 88.0h1v7.38h-1zM45.1 88.0h1v7.38h-1zM49.1 88.0h1v7.38h-1zM105.2 88.0h1v7.38h-1zM114.2 88.0h1v7.38h-1zM130.2 88.0h1v7.38h-1zM162.3 88.0h1v7.38h-1zM172.3 88.0h1v7.38h-1zM175.3 88.0h1v7.38h-1zM189.4 88.0h1v7.38h-1z"/><path fill="#a5acf2" d="M16 88.0h1v7.38h-1zM26.1 88.0h1v7.38h-1zM48.1 88.0h1v7.38h-1zM58.1 88.0h1v7.38h-1zM62.1 88.0h1v7.38h-1zM73.1 88.0h1v7.38h-1zM83.2 88.0h1v7.38h-1zM96.2 88.0h1v7.38h-1zM108.2 88.0h1v7.38h-1zM115.2 88.0h1v7.38h-1zM142.3 88.0h1v7.38h-1zM148.3 88.0h1v7.38h-1zM154.3 88.0h1v7.38h-1zM163.3 88.0h1v7.38h-1zM178.3 88.0h1v7.38h-1z"/><path fill="#5d8ff3" d="M39.1 88.0h1v7.38h-1z"/><path fill="#b4b1f1" d="M56.1 88.0h1v7.38h-1zM99.2 88.0h1v7.38h-1z"/><rect x="0" y="95.32" width="208.40" height="7.38" fill="#dac0f0"/><path fill="#a5acf2" d="M0 95.3h1v7.38h-1zM19 95.3h1v7.38h-1zM39.1 95.3h1v7.38h-1zM53.1 95.3h1v7.38h-1zM146.3 95.3h1v7.38h-1z"/><path fill="#c2b7f1" d="M1 95.3h1v7.38h-1zM3 95.3h2v7.38h-2zM8 95.3h2v7.38h-2zM25 95.3h1v7.38h-1zM28.1 95.3h2v7.38h-2zM45.1 95.3h1v7.38h-1zM47.1 95.3h1v7.38h-1zM59.1 95.3h1v7.38h-1zM71.1 95.3h2v7.38h-2zM75.1 95.3h1v7.38h-1zM81.2 95.3h1v7.38h-1zM94.2 95.3h1v7.38h-1zM102.2 95.3h1v7.38h-1zM104.2 95.3h1v7.38h-1zM114.2 95.3h1v7.38h-1zM118.2 95.3h2v7.38h-2zM122.2 95.3h1v7.38h-1zM124.2 95.3h2v7.38h-2zM132.3 95.3h1v7.38h-1zM134.3 95.3h1v7.38h-1zM150.3 95.3h1v7.38h-1zM161.3 95.3h1v7.38h-1zM167.3 95.3h1v7.38h-1zM171.3 95.3h1v7.38h-1zM187.4 95.3h1v7.38h-1zM201.4 95.3h1v7.38h-1zM205.4 95.3h1v7.38h-1z"/><path fill="#d1bdf1" d="M2 95.3h1v7.38h-1zM10 95.3h1v7.38h-1zM15 95.3h1v7.38h-1zM18 95.3h1v7.38h-1zM20 95.3h1v7.38h-1zM33.1 95.3h1v7.38h-1zM35.1 95.3h1v7.38h-1zM38.1 95.3h1v7.38h-1zM42.1 95.3h1v7.38h-1zM46.1 95.3h1v7.38h-1zM57.1 95.3h1v7.38h-1zM60.1 95.3h1v7.38h-1zM63.1 95.3h1v7.38h-1zM66.1 95.3h1v7.38h-1zM68.1 95.3h3v7.38h-3zM76.1 95.3h1v7.38h-1zM78.2 95.3h1v7.38h-1zM82.2 95.3h1v7.38h-1zM90.2 95.3h1v7.38h-1zM101.2 95.3h1v7.38h-1zM103.2 95.3h1v7.38h-1zM105.2 95.3h1v7.38h-1zM109.2 95.3h1v7.38h-1zM112.2 95.3h1v7.38h-1zM117.2 95.3h1v7.38h-1zM121.2 95.3h1v7.38h-1zM126.2 95.3h1v7.38h-1zM128.2 95.3h1v7.38h-1zM135.3 95.3h1v7.38h-1zM138.3 95.3h2v7.38h-2zM145.3 95.3h1v7.38h-1zM151.3 95.3h1v7.38h-1zM156.3 95.3h1v7.38h-1zM164.3 95.3h1v7.38h-1zM166.3 95.3h1v7.38h-1zM173.3 95.3h1v7.38h-1zM175.3 95.3h2v7.38h-2zM179.3 95.3h1v7.38h-1zM181.3 95.3h1v7.38h-1zM191.4 95.3h1v7.38h-1zM193.4 95.3h1v7.38h-1z"/><path fill="#b4b1f1" d="M5 95.3h2v7.38h-2zM21 95.3h1v7.38h-1zM30.1 95.3h1v7.38h-1zM34.1 95.3h1v7.38h-1zM85.2 95.3h1v7.38h-1zM93.2 95.3h1v7.38h-1zM95.2 95.3h1v7.38h-1zM113.2 95.3h1v7.38h-1zM144.3 95.3h1v7.38h-1zM157.3 95.3h1v7.38h-1zM160.3 95.3h1v7.38h-1zM162.3 95.3h1v7.38h-1zM169.3 95.3h1v7.38h-1zM189.4 95.3h1v7.38h-1zM192.4 95.3h1v7.38h-1zM202.4 95.3h1v7.38h-1z"/><path fill="#eec8f0" d="M11 95.3h1v7.38h-1zM23 95.3h2v7.38h-2zM31.1 95.3h2v7.38h-2zM41.1 95.3h1v7.38h-1zM49.1 95.3h3v7.38h-3zM55.1 95.3h1v7.38h-1zM62.1 95.3h1v7.38h-1zM64.1 95.3h1v7.38h-1zM73.1 95.3h1v7.38h-1zM77.1 95.3h1v7.38h-1zM79.2 95.3h2v7.38h-2zM83.2 95.3h1v7.38h-1zM86.2 95.3h1v7.38h-1zM89.2 95.3h1v7.38h-1zM91.2 95.3h1v7.38h-1zM96.2 95.3h1v7.38h-1zM98.2 95.3h2v7.38h-2zM108.2 95.3h1v7.38h-1zM111.2 95.3h1v7.38h-1zM127.2 95.3h1v7.38h-1zM133.3 95.3h1v7.38h-1zM136.3 95.3h1v7.38h-1zM154.3 95.3h1v7.38h-1zM159.3 95.3h1v7.38h-1zM168.3 95.3h1v7.38h-1zM170.3 95.3h1v7.38h-1zM183.4 95.3h2v7.38h-2zM186.4 95.3h1v7.38h-1zM188.4 95.3h1v7.38h-1zM196.4 95.3h1v7.38h-1zM199.4 95.3h2v7.38h-2zM204.4 95.3h1v7.38h-1zM206.4 95.3h2v7.38h-2z"/><path fill="#efbbe1" d="M13 95.3h1v7.38h-1zM16 95.3h1v7.38h-1zM27.1 95.3h1v7.38h-1zM74.1 95.3h1v7.38h-1zM88.2 95.3h1v7.38h-1zM130.2 95.3h1v7.38h-1zM140.3 95.3h1v7.38h-1zM143.3 95.3h1v7.38h-1zM158.3 95.3h1v7.38h-1zM165.3 95.3h1v7.38h-1zM177.3 95.3h1v7.38h-1zM197.4 95.3h2v7.38h-2z"/><path fill="#f0add3" d="M26.1 95.3h1v7.38h-1zM52.1 95.3h1v7.38h-1zM120.2 95.3h1v7.38h-1zM147.3 95.3h1v7.38h-1zM163.3 95.3h1v7.38h-1zM174.3 95.3h1v7.38h-1zM195.4 95.3h1v7.38h-1z"/><path fill="#f193b5" d="M36.1 95.3h1v7.38h-1z"/><path fill="#f0a0c4" d="M67.1 95.3h1v7.38h-1z"/><rect x="0" y="102.65" width="208.40" height="7.38" fill="#cebcf1"/><path fill="#c2b7f1" d="M0 102.6h1v7.38h-1zM6 102.6h1v7.38h-1zM13 102.6h2v7.38h-2zM20 102.6h3v7.38h-3zM29.1 102.6h2v7.38h-2zM38.1 102.6h1v7.38h-1zM40.1 102.6h1v7.38h-1zM43.1 102.6h2v7.38h-2zM46.1 102.6h1v7.38h-1zM53.1 102.6h1v7.38h-1zM59.1 102.6h1v7.38h-1zM64.1 102.6h1v7.38h-1zM68.1 102.6h1v7.38h-1zM70.1 102.6h4v7.38h-4zM79.2 102.6h1v7.38h-1zM82.2 102.6h1v7.38h-1zM86.2 102.6h1v7.38h-1zM91.2 102.6h1v7.38h-1zM98.2 102.6h1v7.38h-1zM104.2 102.6h1v7.38h-1zM109.2 102.6h2v7.38h-2zM124.2 102.6h1v7.38h-1zM126.2 102.6h2v7.38h-2zM131.3 102.6h1v7.38h-1zM133.3 102.6h1v7.38h-1zM139.3 102.6h4v7.38h-4zM144.3 102.6h1v7.38h-1zM146.3 102.6h1v7.38h-1zM151.3 102.6h1v7.38h-1zM155.3 102.6h1v7.38h-1zM160.3 102.6h1v7.38h-1zM162.3 102.6h1v7.38h-1zM171.3 102.6h2v7.38h-2zM178.3 102.6h2v7.38h-2zM182.3 102.6h1v7.38h-1zM189.4 102.6h1v7.38h-1zM191.4 102.6h1v7.38h-1zM202.4 102.6h2v7.38h-2z"/><path fill="#dfc2f0" d="M2 102.6h1v7.38h-1zM11 102.6h1v7.38h-1zM24 102.6h1v7.38h-1zM27.1 102.6h1v7.38h-1zM32.1 102.6h1v7.38h-1zM35.1 102.6h2v7.38h-2zM41.1 102.6h2v7.38h-2zM48.1 102.6h1v7.38h-1zM51.1 102.6h2v7.38h-2zM57.1 102.6h1v7.38h-1zM62.1 102.6h1v7.38h-1zM65.1 102.6h1v7.38h-1zM67.1 102.6h1v7.38h-1zM75.1 102.6h3v7.38h-3zM83.2 102.6h3v7.38h-3zM87.2 102.6h1v7.38h-1zM90.2 102.6h1v7.38h-1zM92.2 102.6h1v7.38h-1zM94.2 102.6h4v7.38h-4zM99.2 102.6h2v7.38h-2zM108.2 102.6h1v7.38h-1zM116.2 102.6h1v7.38h-1zM122.2 102.6h2v7.38h-2zM125.2 102.6h1v7.38h-1zM130.2 102.6h1v7.38h-1zM134.3 102.6h3v7.38h-3zM148.3 102.6h1v7.38h-1zM158.3 102.6h1v7.38h-1zM164.3 102.6h2v7.38h-2zM168.3 102.6h1v7.38h-1zM170.3 102.6h1v7.38h-1zM174.3 102.6h1v7.38h-1zM177.3 102.6h1v7.38h-1zM190.4 102.6h1v7.38h-1zM195.4 102.6h1v7.38h-1zM197.4 102.6h1v7.38h-1zM199.4 102.6h1v7.38h-1zM204.4 102.6h1v7.38h-1z"/><path fill="#b4b1f1" d="M3 102.6h2v7.38h-2zM8 102.6h1v7.38h-1zM19 102.6h1v7.38h-1zM31.1 102.6h1v7.38h-1zM33.1 102.6h2v7.38h-2zM103.2 102.6h1v7.38h-1zM105.2 102.6h2v7.38h-2zM112.2 102.6h2v7.38h-2zM150.3 102.6h1v7.38h-1zM161.3 102.6h1v7.38h-1zM169.3 102.6h1v7.38h-1zM176.3 102.6h1v7.38h-1zM180.3 102.6h1v7.38h-1zM183.4 102.6h1v7.38h-1zM201.4 102.6h1v7.38h-1z"/><path fill="#a5acf2" d="M9 102.6h1v7.38h-1zM28.1 102.6h1v7.38h-1zM45.1 102.6h1v7.38h-1zM117.2 102.6h1v7.38h-1zM175.3 102.6h1v7.38h-1z"/><path fill="#eec8f0" d="M16 102.6h1v7.38h-1zM26.1 102.6h1v7.38h-1zM50.1 102.6h1v7.38h-1zM56.1 102.6h1v7.38h-1zM61.1 102.6h1v7.38h-1zM63.1 102.6h1v7.38h-1zM80.2 102.6h1v7.38h-1zM120.2 102.6h1v7.38h-1zM154.3 102.6h1v7.38h-1zM163.3 102.6h1v7.38h-1zM173.3 102.6h1v7.38h-1zM186.4 102.6h1v7.38h-1zM194.4 102.6h1v7.38h-1zM207.4 102.6h1v7.38h-1z"/><path fill="#efbbe1" d="M89.2 102.6h1v7.38h-1zM102.2 102.6h1v7.38h-1zM152.3 102.6h1v7.38h-1z"/><rect x="0" y="109.98" width="208.40" height="7.38" fill="#7a9bf3"/><path fill="#4e8af4" d="M0 110.0h1v7.38h-1zM4 110.0h1v7.38h-1zM32.1 110.0h1v7.38h-1zM75.1 110.0h1v7.38h-1zM100.2 110.0h1v7.38h-1zM119.2 110.0h1v7.38h-1zM176.3 110.0h1v7.38h-1zM184.4 110.0h1v7.38h-1zM202.4 110.0h1v7.38h-1z"/><path fill="#6b95f3" d="M1 110.0h1v7.38h-1zM6 110.0h1v7.38h-1zM11 110.0h1v7.38h-1zM17 110.0h1v7.38h-1zM21 110.0h2v7.38h-2zM28.1 110.0h2v7.38h-2zM35.1 110.0h1v7.38h-1zM37.1 110.0h1v7.38h-1zM40.1 110.0h1v7.38h-1zM52.1 110.0h2v7.38h-2zM59.1 110.0h1v7.38h-1zM71.1 110.0h1v7.38h-1zM77.1 110.0h3v7.38h-3zM81.2 110.0h1v7.38h-1zM107.2 110.0h1v7.38h-1zM117.2 110.0h1v7.38h-1zM134.3 110.0h1v7.38h-1zM139.3 110.0h1v7.38h-1zM155.3 110.0h1v7.38h-1zM169.3 110.0h1v7.38h-1zM180.3 110.0h1v7.38h-1zM190.4 110.0h1v7.38h-1zM195.4 110.0h1v7.38h-1zM204.4 110.0h1v7.38h-1zM206.4 110.0h1v7.38h-1z"/><path fill="#88a0f2" d="M2 110.0h1v7.38h-1zM20 110.0h1v7.38h-1zM42.1 110.0h2v7.38h-2zM47.1 110.0h1v7.38h-1zM55.1 110.0h1v7.38h-1zM58.1 110.0h1v7.38h-1zM60.1 110.0h2v7.38h-2zM67.1 110.0h2v7.38h-2zM72.1 110.0h1v7.38h-1zM84.2 110.0h2v7.38h-2zM94.2 110.0h1v7.38h-1zM106.2 110.0h1v7.38h-1zM116.2 110.0h1v7.38h-1zM127.2 110.0h1v7.38h-1zM132.3 110.0h1v7.38h-1zM135.3 110.0h1v7.38h-1zM153.3 110.0h1v7.38h-1zM177.3 110.0h2v7.38h-2zM205.4 110.0h1v7.38h-1z"/><path fill="#317ef4" d="M5 110.0h1v7.38h-1zM8 110.0h1v7.38h-1zM14 110.0h1v7.38h-1zM87.2 110.0h1v7.38h-1zM113.2 110.0h1v7.38h-1zM160.3 110.0h1v7.38h-1zM171.3 110.0h1v7.38h-1zM189.4 110.0h1v7.38h-1zM201.4 110.0h1v7.38h-1z"/><path fill="#a5acf2" d="M7 110.0h1v7.38h-1zM26.1 110.0h1v7.38h-1zM41.1 110.0h1v7.38h-1zM48.1 110.0h1v7.38h-1zM57.1 110.0h1v7.38h-1zM74.1 110.0h1v7.38h-1zM83.2 110.0h1v7.38h-1zM90.2 110.0h1v7.38h-1zM93.2 110.0h1v7.38h-1zM95.2 110.0h1v7.38h-1zM99.2 110.0h1v7.38h-1zM112.2 110.0h1v7.38h-1zM121.2 110.0h1v7.38h-1zM145.3 110.0h1v7.38h-1zM148.3 110.0h1v7.38h-1zM172.3 110.0h1v7.38h-1zM196.4 110.0h1v7.38h-1zM199.4 110.0h1v7.38h-1z"/><path fill="#97a6f2" d="M10 110.0h1v7.38h-1zM23 110.0h2v7.38h-2zM33.1 110.0h2v7.38h-2zM38.1 110.0h2v7.38h-2zM54.1 110.0h1v7.38h-1zM56.1 110.0h1v7.38h-1zM65.1 110.0h2v7.38h-2zM86.2 110.0h1v7.38h-1zM91.2 110.0h1v7.38h-1zM124.2 110.0h1v7.38h-1zM140.3 110.0h1v7.38h-1zM142.3 110.0h2v7.38h-2zM147.3 110.0h1v7.38h-1zM149.3 110.0h1v7.38h-1zM158.3 110.0h1v7.38h-1zM167.3 110.0h1v7.38h-1zM182.3 110.0h1v7.38h-1zM185.4 110.0h1v7.38h-1z"/><path fill="#c2b7f1" d="M12 110.0h1v7.38h-1zM27.1 110.0h1v7.38h-1zM125.2 110.0h1v7.38h-1zM163.3 110.0h1v7.38h-1zM174.3 110.0h1v7.38h-1z"/><path fill="#4084f4" d="M13 110.0h1v7.38h-1zM15 110.0h1v7.38h-1zM69.1 110.0h2v7.38h-2zM92.2 110.0h1v7.38h-1zM98.2 110.0h1v7.38h-1zM104.2 110.0h1v7.38h-1zM126.2 110.0h1v7.38h-1zM133.3 110.0h1v7.38h-1zM159.3 110.0h1v7.38h-1zM191.4 110.0h2v7.38h-2z"/><path fill="#d1bdf1" d="M16 110.0h1v7.38h-1zM36.1 110.0h1v7.38h-1zM101.2 110.0h1v7.38h-1zM108.2 110.0h1v7.38h-1zM120.2 110.0h1v7.38h-1zM123.2 110.0h1v7.38h-1zM130.2 110.0h1v7.38h-1zM186.4 110.0h1v7.38h-1zM194.4 110.0h1v7.38h-1z"/><path fill="#5d8ff3" d="M19 110.0h1v7.38h-1zM25 110.0h1v7.38h-1zM44.1 110.0h1v7.38h-1zM46.1 110.0h1v7.38h-1zM51.1 110.0h1v7.38h-1zM63.1 110.0h2v7.38h-2zM128.2 110.0h1v7.38h-1zM131.3 110.0h1v7.38h-1zM136.3 110.0h1v7.38h-1zM146.3 110.0h1v7.38h-1zM156.3 110.0h1v7.38h-1zM181.3 110.0h1v7.38h-1zM188.4 110.0h1v7.38h-1zM197.4 110.0h1v7.38h-1zM200.4 110.0h1v7.38h-1zM203.4 110.0h1v7.38h-1z"/><path fill="#b4b1f1" d="M62.1 110.0h1v7.38h-1zM76.1 110.0h1v7.38h-1zM96.2 110.0h2v7.38h-2zM102.2 110.0h1v7.38h-1zM114.2 110.0h2v7.38h-2zM118.2 110.0h1v7.38h-1zM129.2 110.0h1v7.38h-1zM165.3 110.0h2v7.38h-2zM207.4 110.0h1v7.38h-1z"/><path fill="#2379f5" d="M82.2 110.0h1v7.38h-1zM162.3 110.0h1v7.38h-1zM175.3 110.0h1v7.38h-1zM179.3 110.0h1v7.38h-1z"/><path fill="#1473f5" d="M105.2 110.0h1v7.38h-1zM151.3 110.0h1v7.38h-1zM157.3 110.0h1v7.38h-1z"/><path fill="#f0add3" d="M154.3 110.0h1v7.38h-1z"/><path fill="#dfc2f0" d="M170.3 110.0h1v7.38h-1z"/><rect x="0" y="117.31" width="208.40" height="7.38" fill="#88a0f2"/><path fill="#6b95f3" d="M0 117.3h1v7.38h-1zM8 117.3h1v7.38h-1zM15 117.3h1v7.38h-1zM21 117.3h1v7.38h-1zM42.1 117.3h1v7.38h-1zM71.1 117.3h1v7.38h-1zM113.2 117.3h1v7.38h-1zM124.2 117.3h1v7.38h-1zM132.3 117.3h1v7.38h-1zM151.3 117.3h1v7.38h-1zM160.3 117.3h1v7.38h-1zM162.3 117.3h1v7.38h-1zM171.3 117.3h1v7.38h-1zM179.3 117.3h1v7.38h-1zM182.3 117.3h1v7.38h-1zM192.4 117.3h1v7.38h-1zM198.4 117.3h1v7.38h-1z"/><path fill="#97a6f2" d="M2 117.3h1v7.38h-1zM4 117.3h1v7.38h-1zM11 117.3h2v7.38h-2zM16 117.3h1v7.38h-1zM20 117.3h1v7.38h-1zM26.1 117.3h1v7.38h-1zM38.1 117.3h1v7.38h-1zM40.1 117.3h1v7.38h-1zM48.1 117.3h4v7.38h-4zM56.1 117.3h2v7.38h-2zM62.1 117.3h2v7.38h-2zM76.1 117.3h2v7.38h-2zM87.2 117.3h4v7.38h-4zM92.2 117.3h1v7.38h-1zM95.2 117.3h1v7.38h-1zM105.2 117.3h4v7.38h-4zM115.2 117.3h1v7.38h-1zM120.2 117.3h1v7.38h-1zM123.2 117.3h1v7.38h-1zM125.2 117.3h1v7.38h-1zM131.3 117.3h1v7.38h-1zM139.3 117.3h1v7.38h-1zM143.3 117.3h1v7.38h-1zM147.3 117.3h2v7.38h-2zM152.3 117.3h1v7.38h-1zM154.3 117.3h2v7.38h-2zM166.3 117.3h1v7.38h-1zM174.3 117.3h1v7.38h-1zM183.4 117.3h3v7.38h-3zM193.4 117.3h2v7.38h-2zM199.4 117.3h1v7.38h-1zM201.4 117.3h1v7.38h-1z"/><path fill="#7a9bf3" d="M3 117.3h1v7.38h-1zM6 117.3h2v7.38h-2zM9 117.3h1v7.38h-1zM14 117.3h1v7.38h-1zM17 117.3h1v7.38h-1zM24 117.3h1v7.38h-1zM27.1 117.3h2v7.38h-2zM31.1 117.3h1v7.38h-1zM35.1 117.3h1v7.38h-1zM39.1 117.3h1v7.38h-1zM47.1 117.3h1v7.38h-1zM52.1 117.3h1v7.38h-1zM54.1 117.3h1v7.38h-1zM79.2 117.3h1v7.38h-1zM84.2 117.3h1v7.38h-1zM98.2 117.3h1v7.38h-1zM101.2 117.3h1v7.38h-1zM103.2 117.3h2v7.38h-2zM119.2 117.3h1v7.38h-1zM126.2 117.3h2v7.38h-2zM133.3 117.3h2v7.38h-2zM140.3 117.3h1v7.38h-1zM146.3 117.3h1v7.38h-1zM150.3 117.3h1v7.38h-1zM157.3 117.3h1v7.38h-1zM167.3 117.3h1v7.38h-1zM169.3 117.3h1v7.38h-1zM172.3 117.3h2v7.38h-2zM175.3 117.3h1v7.38h-1zM180.3 117.3h1v7.38h-1zM202.4 117.3h1v7.38h-1zM206.4 117.3h1v7.38h-1z"/><path fill="#5d8ff3" d="M19 117.3h1v7.38h-1zM145.3 117.3h1v7.38h-1z"/><path fill="#b4b1f1" d="M36.1 117.3h1v7.38h-1zM80.2 117.3h1v7.38h-1zM186.4 117.3h1v7.38h-1z"/><path fill="#a5acf2" d="M43.1 117.3h1v7.38h-1zM55.1 117.3h1v7.38h-1zM61.1 117.3h1v7.38h-1zM74.1 117.3h1v7.38h-1zM83.2 117.3h1v7.38h-1zM86.2 117.3h1v7.38h-1zM97.2 117.3h1v7.38h-1zM99.2 117.3h2v7.38h-2zM102.2 117.3h1v7.38h-1zM114.2 117.3h1v7.38h-1zM116.2 117.3h1v7.38h-1zM137.3 117.3h1v7.38h-1zM142.3 117.3h1v7.38h-1zM161.3 117.3h1v7.38h-1zM177.3 117.3h2v7.38h-2z"/><path fill="#c2b7f1" d="M163.3 117.3h1v7.38h-1z"/><rect x="0" y="124.64" width="208.40" height="7.38" fill="#bdb5f1"/><path fill="#a5acf2" d="M0 124.6h1v7.38h-1zM3 124.6h1v7.38h-1zM15 124.6h1v7.38h-1zM32.1 124.6h1v7.38h-1zM35.1 124.6h1v7.38h-1zM44.1 124.6h1v7.38h-1zM47.1 124.6h1v7.38h-1zM53.1 124.6h1v7.38h-1zM81.2 124.6h1v7.38h-1zM93.2 124.6h1v7.38h-1zM131.3 124.6h2v7.38h-2zM152.3 124.6h1v7.38h-1zM160.3 124.6h1v7.38h-1zM166.3 124.6h1v7.38h-1zM171.3 124.6h1v7.38h-1zM179.3 124.6h1v7.38h-1zM182.3 124.6h1v7.38h-1zM192.4 124.6h1v7.38h-1zM200.4 124.6h1v7.38h-1zM204.4 124.6h1v7.38h-1z"/><path fill="#97a6f2" d="M1 124.6h1v7.38h-1zM151.3 124.6h1v7.38h-1z"/><path fill="#b4b1f1" d="M2 124.6h1v7.38h-1zM4 124.6h1v7.38h-1zM6 124.6h1v7.38h-1zM8 124.6h1v7.38h-1zM16 124.6h1v7.38h-1zM21 124.6h1v7.38h-1zM26.1 124.6h2v7.38h-2zM30.1 124.6h1v7.38h-1zM33.1 124.6h1v7.38h-1zM42.1 124.6h2v7.38h-2zM45.1 124.6h1v7.38h-1zM49.1 124.6h1v7.38h-1zM55.1 124.6h2v7.38h-2zM59.1 124.6h1v7.38h-1zM61.1 124.6h1v7.38h-1zM67.1 124.6h1v7.38h-1zM75.1 124.6h1v7.38h-1zM77.1 124.6h2v7.38h-2zM82.2 124.6h1v7.38h-1zM84.2 124.6h1v7.38h-1zM87.2 124.6h1v7.38h-1zM91.2 124.6h1v7.38h-1zM97.2 124.6h3v7.38h-3zM102.2 124.6h1v7.38h-1zM105.2 124.6h1v7.38h-1zM109.2 124.6h1v7.38h-1zM113.2 124.6h1v7.38h-1zM117.2 124.6h1v7.38h-1zM124.2 124.6h1v7.38h-1zM126.2 124.6h1v7.38h-1zM130.2 124.6h1v7.38h-1zM134.3 124.6h2v7.38h-2zM137.3 124.6h1v7.38h-1zM140.3 124.6h2v7.38h-2zM146.3 124.6h1v7.38h-1zM149.3 124.6h1v7.38h-1zM153.3 124.6h1v7.38h-1zM155.3 124.6h3v7.38h-3zM159.3 124.6h1v7.38h-1zM161.3 124.6h2v7.38h-2zM167.3 124.6h4v7.38h-4zM172.3 124.6h2v7.38h-2zM175.3 124.6h2v7.38h-2zM180.3 124.6h1v7.38h-1zM183.4 124.6h1v7.38h-1zM188.4 124.6h1v7.38h-1zM191.4 124.6h1v7.38h-1zM195.4 124.6h1v7.38h-1zM197.4 124.6h3v7.38h-3zM201.4 124.6h2v7.38h-2zM205.4 124.6h2v7.38h-2z"/><path fill="#dfc2f0" d="M12 124.6h1v7.38h-1zM36.1 124.6h1v7.38h-1zM125.2 124.6h1v7.38h-1zM129.2 124.6h1v7.38h-1zM148.3 124.6h1v7.38h-1z"/><path fill="#d1bdf1" d="M13 124.6h1v7.38h-1zM17 124.6h1v7.38h-1zM24 124.6h2v7.38h-2zM29.1 124.6h1v7.38h-1zM38.1 124.6h1v7.38h-1zM40.1 124.6h1v7.38h-1zM46.1 124.6h1v7.38h-1zM48.1 124.6h1v7.38h-1zM54.1 124.6h1v7.38h-1zM57.1 124.6h2v7.38h-2zM60.1 124.6h1v7.38h-1zM64.1 124.6h1v7.38h-1zM66.1 124.6h1v7.38h-1zM72.1 124.6h3v7.38h-3zM80.2 124.6h1v7.38h-1zM83.2 124.6h1v7.38h-1zM89.2 124.6h1v7.38h-1zM96.2 124.6h1v7.38h-1zM114.2 124.6h2v7.38h-2zM120.2 124.6h3v7.38h-3zM127.2 124.6h1v7.38h-1zM133.3 124.6h1v7.38h-1zM142.3 124.6h2v7.38h-2zM147.3 124.6h1v7.38h-1zM163.3 124.6h2v7.38h-2zM177.3 124.6h2v7.38h-2zM184.4 124.6h3v7.38h-3z"/><rect x="0" y="131.98" width="208.40" height="7.38" fill="#f3708f"/><path fill="#f37898" d="M0 132.0h2v7.38h-2zM4 132.0h2v7.38h-2zM9 132.0h1v7.38h-1zM17 132.0h3v7.38h-3zM21 132.0h5v7.38h-5zM28.1 132.0h2v7.38h-2zM31.1 132.0h2v7.38h-2zM34.1 132.0h1v7.38h-1zM37.1 132.0h1v7.38h-1zM39.1 132.0h1v7.38h-1zM45.1 132.0h1v7.38h-1zM47.1 132.0h1v7.38h-1zM49.1 132.0h1v7.38h-1zM52.1 132.0h1v7.38h-1zM56.1 132.0h1v7.38h-1zM59.1 132.0h2v7.38h-2zM63.1 132.0h2v7.38h-2zM68.1 132.0h3v7.38h-3zM72.1 132.0h1v7.38h-1zM76.1 132.0h2v7.38h-2zM79.2 132.0h1v7.38h-1zM82.2 132.0h1v7.38h-1zM86.2 132.0h1v7.38h-1zM92.2 132.0h1v7.38h-1zM94.2 132.0h3v7.38h-3zM104.2 132.0h2v7.38h-2zM108.2 132.0h2v7.38h-2zM113.2 132.0h1v7.38h-1zM117.2 132.0h1v7.38h-1zM119.2 132.0h1v7.38h-1zM121.2 132.0h1v7.38h-1zM124.2 132.0h1v7.38h-1zM127.2 132.0h1v7.38h-1zM131.3 132.0h4v7.38h-4zM136.3 132.0h2v7.38h-2zM140.3 132.0h2v7.38h-2zM146.3 132.0h1v7.38h-1zM151.3 132.0h1v7.38h-1zM156.3 132.0h2v7.38h-2zM162.3 132.0h1v7.38h-1zM165.3 132.0h1v7.38h-1zM167.3 132.0h1v7.38h-1zM169.3 132.0h1v7.38h-1zM171.3 132.0h1v7.38h-1zM176.3 132.0h1v7.38h-1zM179.3 132.0h4v7.38h-4zM184.4 132.0h2v7.38h-2zM187.4 132.0h4v7.38h-4zM197.4 132.0h2v7.38h-2zM200.4 132.0h4v7.38h-4zM205.4 132.0h1v7.38h-1z"/><path fill="#f45d7b" d="M7 132.0h1v7.38h-1zM36.1 132.0h1v7.38h-1zM44.1 132.0h1v7.38h-1zM61.1 132.0h1v7.38h-1zM81.2 132.0h1v7.38h-1zM89.2 132.0h1v7.38h-1zM91.2 132.0h1v7.38h-1zM115.2 132.0h1v7.38h-1zM120.2 132.0h1v7.38h-1zM163.3 132.0h1v7.38h-1z"/><path fill="#f285a7" d="M40.1 132.0h1v7.38h-1z"/><rect x="0" y="139.31" width="208.40" height="7.38" fill="#2b7cf4"/><path fill="#2379f5" d="M0 139.3h1v7.38h-1zM3 139.3h3v7.38h-3zM8 139.3h1v7.38h-1zM17 139.3h3v7.38h-3zM23 139.3h2v7.38h-2zM27.1 139.3h2v7.38h-2zM30.1 139.3h1v7.38h-1zM32.1 139.3h4v7.38h-4zM37.1 139.3h1v7.38h-1zM39.1 139.3h1v7.38h-1zM41.1 139.3h1v7.38h-1zM43.1 139.3h1v7.38h-1zM45.1 139.3h1v7.38h-1zM49.1 139.3h3v7.38h-3zM53.1 139.3h1v7.38h-1zM57.1 139.3h1v7.38h-1zM60.1 139.3h1v7.38h-1zM63.1 139.3h1v7.38h-1zM65.1 139.3h1v7.38h-1zM67.1 139.3h2v7.38h-2zM70.1 139.3h2v7.38h-2zM74.1 139.3h1v7.38h-1zM87.2 139.3h1v7.38h-1zM93.2 139.3h1v7.38h-1zM98.2 139.3h1v7.38h-1zM100.2 139.3h1v7.38h-1zM106.2 139.3h3v7.38h-3zM111.2 139.3h1v7.38h-1zM113.2 139.3h1v7.38h-1zM116.2 139.3h3v7.38h-3zM124.2 139.3h1v7.38h-1zM126.2 139.3h3v7.38h-3zM132.3 139.3h1v7.38h-1zM136.3 139.3h3v7.38h-3zM140.3 139.3h2v7.38h-2zM144.3 139.3h1v7.38h-1zM146.3 139.3h1v7.38h-1zM149.3 139.3h1v7.38h-1zM151.3 139.3h2v7.38h-2zM157.3 139.3h1v7.38h-1zM160.3 139.3h1v7.38h-1zM162.3 139.3h1v7.38h-1zM165.3 139.3h1v7.38h-1zM167.3 139.3h1v7.38h-1zM169.3 139.3h1v7.38h-1zM171.3 139.3h2v7.38h-2zM175.3 139.3h2v7.38h-2zM178.3 139.3h1v7.38h-1zM181.3 139.3h1v7.38h-1zM186.4 139.3h1v7.38h-1zM188.4 139.3h3v7.38h-3zM192.4 139.3h1v7.38h-1zM194.4 139.3h1v7.38h-1zM198.4 139.3h1v7.38h-1zM200.4 139.3h4v7.38h-4zM206.4 139.3h1v7.38h-1z"/><rect x="0" y="146.64" width="208.40" height="7.38" fill="#f193b5"/><path fill="#f0a0c4" d="M0 146.6h1v7.38h-1zM4 146.6h1v7.38h-1zM14 146.6h1v7.38h-1zM18 146.6h1v7.38h-1zM27.1 146.6h1v7.38h-1zM30.1 146.6h1v7.38h-1zM34.1 146.6h1v7.38h-1zM40.1 146.6h1v7.38h-1zM43.1 146.6h1v7.38h-1zM51.1 146.6h1v7.38h-1zM53.1 146.6h1v7.38h-1zM58.1 146.6h1v7.38h-1zM69.1 146.6h1v7.38h-1zM72.1 146.6h1v7.38h-1zM75.1 146.6h1v7.38h-1zM82.2 146.6h1v7.38h-1zM87.2 146.6h1v7.38h-1zM92.2 146.6h1v7.38h-1zM112.2 146.6h1v7.38h-1zM127.2 146.6h1v7.38h-1zM132.3 146.6h2v7.38h-2zM141.3 146.6h1v7.38h-1zM145.3 146.6h2v7.38h-2zM162.3 146.6h1v7.38h-1zM165.3 146.6h1v7.38h-1zM169.3 146.6h1v7.38h-1zM171.3 146.6h2v7.38h-2zM174.3 146.6h3v7.38h-3zM179.3 146.6h1v7.38h-1zM183.4 146.6h1v7.38h-1zM189.4 146.6h1v7.38h-1zM192.4 146.6h1v7.38h-1zM199.4 146.6h1v7.38h-1zM201.4 146.6h2v7.38h-2z"/><path fill="#f285a7" d="M2 146.6h1v7.38h-1zM6 146.6h2v7.38h-2zM12 146.6h1v7.38h-1zM20 146.6h1v7.38h-1zM24 146.6h2v7.38h-2zM33.1 146.6h1v7.38h-1zM38.1 146.6h1v7.38h-1zM50.1 146.6h1v7.38h-1zM52.1 146.6h1v7.38h-1zM57.1 146.6h1v7.38h-1zM61.1 146.6h3v7.38h-3zM65.1 146.6h2v7.38h-2zM74.1 146.6h1v7.38h-1zM77.1 146.6h1v7.38h-1zM84.2 146.6h1v7.38h-1zM95.2 146.6h2v7.38h-2zM98.2 146.6h2v7.38h-2zM102.2 146.6h2v7.38h-2zM108.2 146.6h1v7.38h-1zM118.2 146.6h1v7.38h-1zM124.2 146.6h2v7.38h-2zM128.2 146.6h4v7.38h-4zM138.3 146.6h1v7.38h-1zM143.3 146.6h1v7.38h-1zM148.3 146.6h1v7.38h-1zM154.3 146.6h2v7.38h-2zM159.3 146.6h2v7.38h-2zM163.3 146.6h1v7.38h-1zM178.3 146.6h1v7.38h-1zM180.3 146.6h1v7.38h-1zM186.4 146.6h1v7.38h-1zM193.4 146.6h1v7.38h-1zM205.4 146.6h1v7.38h-1zM207.4 146.6h1v7.38h-1z"/><path fill="#f37898" d="M16 146.6h1v7.38h-1zM36.1 146.6h1v7.38h-1zM48.1 146.6h1v7.38h-1zM115.2 146.6h1v7.38h-1zM158.3 146.6h1v7.38h-1zM177.3 146.6h1v7.38h-1zM196.4 146.6h1v7.38h-1z"/><path fill="#f46b89" d="M26.1 146.6h1v7.38h-1z"/><path fill="#f0add3" d="M28.1 146.6h1v7.38h-1zM70.1 146.6h1v7.38h-1zM113.2 146.6h1v7.38h-1zM157.3 146.6h1v7.38h-1zM167.3 146.6h2v7.38h-2zM182.3 146.6h1v7.38h-1z"/><rect x="0" y="153.97" width="208.40" height="7.38" fill="#97a6f2"/><path fill="#5d8ff3" d="M0 154.0h1v7.38h-1zM14 154.0h1v7.38h-1zM30.1 154.0h1v7.38h-1zM49.1 154.0h1v7.38h-1zM90.2 154.0h1v7.38h-1zM94.2 154.0h1v7.38h-1zM124.2 154.0h1v7.38h-1zM157.3 154.0h1v7.38h-1zM181.3 154.0h2v7.38h-2zM185.4 154.0h1v7.38h-1zM200.4 154.0h1v7.38h-1zM202.4 154.0h1v7.38h-1z"/><path fill="#dfc2f0" d="M2 154.0h1v7.38h-1zM57.1 154.0h1v7.38h-1zM130.2 154.0h1v7.38h-1zM173.3 154.0h1v7.38h-1zM177.3 154.0h1v7.38h-1zM207.4 154.0h1v7.38h-1z"/><path fill="#88a0f2" d="M3 154.0h1v7.38h-1zM22 154.0h1v7.38h-1zM31.1 154.0h1v7.38h-1zM38.1 154.0h1v7.38h-1zM40.1 154.0h1v7.38h-1zM59.1 154.0h1v7.38h-1zM71.1 154.0h1v7.38h-1zM82.2 154.0h1v7.38h-1zM87.2 154.0h1v7.38h-1zM111.2 154.0h1v7.38h-1zM138.3 154.0h1v7.38h-1zM149.3 154.0h1v7.38h-1z"/><path fill="#4084f4" d="M4 154.0h1v7.38h-1zM8 154.0h1v7.38h-1zM171.3 154.0h1v7.38h-1z"/><path fill="#6b95f3" d="M5 154.0h1v7.38h-1zM9 154.0h1v7.38h-1zM15 154.0h1v7.38h-1zM34.1 154.0h1v7.38h-1zM39.1 154.0h1v7.38h-1zM63.1 154.0h1v7.38h-1zM67.1 154.0h1v7.38h-1zM70.1 154.0h1v7.38h-1zM109.2 154.0h1v7.38h-1zM117.2 154.0h1v7.38h-1zM151.3 154.0h1v7.38h-1zM164.3 154.0h1v7.38h-1zM166.3 154.0h1v7.38h-1zM176.3 154.0h1v7.38h-1zM188.4 154.0h2v7.38h-2zM191.4 154.0h1v7.38h-1zM204.4 154.0h1v7.38h-1z"/><path fill="#c2b7f1" d="M6 154.0h2v7.38h-2zM17 154.0h1v7.38h-1zM29.1 154.0h1v7.38h-1zM61.1 154.0h1v7.38h-1zM75.1 154.0h1v7.38h-1zM81.2 154.0h1v7.38h-1zM92.2 154.0h1v7.38h-1zM99.2 154.0h1v7.38h-1zM108.2 154.0h1v7.38h-1zM115.2 154.0h2v7.38h-2zM121.2 154.0h1v7.38h-1zM137.3 154.0h1v7.38h-1zM143.3 154.0h1v7.38h-1zM150.3 154.0h1v7.38h-1zM152.3 154.0h1v7.38h-1zM154.3 154.0h1v7.38h-1zM178.3 154.0h1v7.38h-1z"/><path fill="#b4b1f1" d="M10 154.0h2v7.38h-2zM13 154.0h1v7.38h-1zM19 154.0h1v7.38h-1zM41.1 154.0h1v7.38h-1zM50.1 154.0h1v7.38h-1zM72.1 154.0h1v7.38h-1zM76.1 154.0h1v7.38h-1zM103.2 154.0h1v7.38h-1zM110.2 154.0h1v7.38h-1zM125.2 154.0h1v7.38h-1zM144.3 154.0h1v7.38h-1zM146.3 154.0h1v7.38h-1zM155.3 154.0h1v7.38h-1zM162.3 154.0h1v7.38h-1zM180.3 154.0h1v7.38h-1zM190.4 154.0h1v7.38h-1zM196.4 154.0h1v7.38h-1zM206.4 154.0h1v7.38h-1z"/><path fill="#d1bdf1" d="M16 154.0h1v7.38h-1zM21 154.0h1v7.38h-1zM42.1 154.0h2v7.38h-2zM46.1 154.0h1v7.38h-1zM48.1 154.0h1v7.38h-1zM73.1 154.0h1v7.38h-1zM88.2 154.0h1v7.38h-1zM102.2 154.0h1v7.38h-1zM123.2 154.0h1v7.38h-1zM148.3 154.0h1v7.38h-1zM163.3 154.0h1v7.38h-1zM193.4 154.0h1v7.38h-1zM199.4 154.0h1v7.38h-1z"/><path fill="#7a9bf3" d="M18 154.0h1v7.38h-1zM32.1 154.0h1v7.38h-1zM35.1 154.0h1v7.38h-1zM37.1 154.0h1v7.38h-1zM45.1 154.0h1v7.38h-1zM47.1 154.0h1v7.38h-1zM52.1 154.0h1v7.38h-1zM84.2 154.0h1v7.38h-1zM91.2 154.0h1v7.38h-1zM100.2 154.0h1v7.38h-1zM105.2 154.0h2v7.38h-2zM113.2 154.0h1v7.38h-1zM118.2 154.0h1v7.38h-1zM120.2 154.0h1v7.38h-1zM135.3 154.0h1v7.38h-1zM139.3 154.0h2v7.38h-2zM187.4 154.0h1v7.38h-1zM192.4 154.0h1v7.38h-1zM203.4 154.0h1v7.38h-1z"/><path fill="#a5acf2" d="M20 154.0h1v7.38h-1zM33.1 154.0h1v7.38h-1zM55.1 154.0h1v7.38h-1zM58.1 154.0h1v7.38h-1zM65.1 154.0h2v7.38h-2zM68.1 154.0h1v7.38h-1zM77.1 154.0h1v7.38h-1zM86.2 154.0h1v7.38h-1zM89.2 154.0h1v7.38h-1zM96.2 154.0h1v7.38h-1zM101.2 154.0h1v7.38h-1zM112.2 154.0h1v7.38h-1zM114.2 154.0h1v7.38h-1zM119.2 154.0h1v7.38h-1zM122.2 154.0h1v7.38h-1zM127.2 154.0h1v7.38h-1zM129.2 154.0h1v7.38h-1zM131.3 154.0h1v7.38h-1zM142.3 154.0h1v7.38h-1zM145.3 154.0h1v7.38h-1zM159.3 154.0h1v7.38h-1zM161.3 154.0h1v7.38h-1zM165.3 154.0h1v7.38h-1zM170.3 154.0h1v7.38h-1zM175.3 154.0h1v7.38h-1zM194.4 154.0h1v7.38h-1z"/><path fill="#4e8af4" d="M23 154.0h2v7.38h-2zM28.1 154.0h1v7.38h-1zM69.1 154.0h1v7.38h-1zM104.2 154.0h1v7.38h-1zM133.3 154.0h1v7.38h-1zM160.3 154.0h1v7.38h-1zM169.3 154.0h1v7.38h-1zM179.3 154.0h1v7.38h-1zM183.4 154.0h1v7.38h-1z"/><path fill="#efbbe1" d="M26.1 154.0h1v7.38h-1zM83.2 154.0h1v7.38h-1z"/><path fill="#f193b5" d="M36.1 154.0h1v7.38h-1z"/><path fill="#f0add3" d="M54.1 154.0h1v7.38h-1zM80.2 154.0h1v7.38h-1z"/><path fill="#eec8f0" d="M60.1 154.0h1v7.38h-1zM95.2 154.0h1v7.38h-1zM147.3 154.0h1v7.38h-1zM158.3 154.0h1v7.38h-1zM174.3 154.0h1v7.38h-1zM195.4 154.0h1v7.38h-1z"/><path fill="#f0a0c4" d="M62.1 154.0h1v7.38h-1z"/><path fill="#317ef4" d="M205.4 154.0h1v7.38h-1z"/><rect x="0" y="161.30" width="208.40" height="7.38" fill="#859ff2"/><path fill="#6b95f3" d="M0 161.3h1v7.38h-1zM9 161.3h1v7.38h-1zM15 161.3h1v7.38h-1zM19 161.3h1v7.38h-1zM47.1 161.3h1v7.38h-1zM82.2 161.3h1v7.38h-1zM93.2 161.3h1v7.38h-1zM126.2 161.3h1v7.38h-1zM152.3 161.3h1v7.38h-1zM182.3 161.3h1v7.38h-1zM203.4 161.3h1v7.38h-1z"/><path fill="#7a9bf3" d="M1 161.3h2v7.38h-2zM6 161.3h1v7.38h-1zM8 161.3h1v7.38h-1zM20 161.3h2v7.38h-2zM26.1 161.3h3v7.38h-3zM31.1 161.3h2v7.38h-2zM34.1 161.3h2v7.38h-2zM37.1 161.3h1v7.38h-1zM39.1 161.3h1v7.38h-1zM42.1 161.3h1v7.38h-1zM52.1 161.3h2v7.38h-2zM57.1 161.3h2v7.38h-2zM69.1 161.3h3v7.38h-3zM78.2 161.3h1v7.38h-1zM83.2 161.3h3v7.38h-3zM90.2 161.3h1v7.38h-1zM100.2 161.3h1v7.38h-1zM103.2 161.3h2v7.38h-2zM109.2 161.3h1v7.38h-1zM112.2 161.3h2v7.38h-2zM116.2 161.3h2v7.38h-2zM128.2 161.3h1v7.38h-1zM130.2 161.3h1v7.38h-1zM132.3 161.3h1v7.38h-1zM134.3 161.3h2v7.38h-2zM149.3 161.3h1v7.38h-1zM155.3 161.3h1v7.38h-1zM157.3 161.3h1v7.38h-1zM171.3 161.3h1v7.38h-1zM175.3 161.3h1v7.38h-1zM179.3 161.3h1v7.38h-1zM189.4 161.3h1v7.38h-1zM192.4 161.3h2v7.38h-2zM199.4 161.3h3v7.38h-3zM204.4 161.3h1v7.38h-1z"/><path fill="#97a6f2" d="M4 161.3h1v7.38h-1zM7 161.3h1v7.38h-1zM12 161.3h2v7.38h-2zM16 161.3h2v7.38h-2zM24 161.3h1v7.38h-1zM29.1 161.3h1v7.38h-1zM41.1 161.3h1v7.38h-1zM48.1 161.3h1v7.38h-1zM50.1 161.3h1v7.38h-1zM56.1 161.3h1v7.38h-1zM67.1 161.3h1v7.38h-1zM73.1 161.3h1v7.38h-1zM76.1 161.3h2v7.38h-2zM79.2 161.3h2v7.38h-2zM86.2 161.3h1v7.38h-1zM92.2 161.3h1v7.38h-1zM95.2 161.3h3v7.38h-3zM102.2 161.3h1v7.38h-1zM106.2 161.3h3v7.38h-3zM120.2 161.3h2v7.38h-2zM125.2 161.3h1v7.38h-1zM129.2 161.3h1v7.38h-1zM141.3 161.3h2v7.38h-2zM148.3 161.3h1v7.38h-1zM159.3 161.3h1v7.38h-1zM164.3 161.3h2v7.38h-2zM172.3 161.3h1v7.38h-1zM174.3 161.3h1v7.38h-1zM176.3 161.3h1v7.38h-1zM186.4 161.3h1v7.38h-1zM191.4 161.3h1v7.38h-1zM196.4 161.3h1v7.38h-1zM205.4 161.3h1v7.38h-1zM207.4 161.3h1v7.38h-1z"/><path fill="#b4b1f1" d="M36.1 161.3h1v7.38h-1zM163.3 161.3h1v7.38h-1z"/><path fill="#a5acf2" d="M54.1 161.3h1v7.38h-1zM62.1 161.3h1v7.38h-1zM89.2 161.3h1v7.38h-1zM99.2 161.3h1v7.38h-1zM115.2 161.3h1v7.38h-1zM154.3 161.3h1v7.38h-1zM184.4 161.3h1v7.38h-1zM187.4 161.3h1v7.38h-1z"/><rect x="0" y="168.64" width="208.40" height="7.38" fill="#f3708f"/><path fill="#f37898" d="M0 168.6h1v7.38h-1zM3 168.6h1v7.38h-1zM5 168.6h1v7.38h-1zM8 168.6h1v7.38h-1zM17 168.6h1v7.38h-1zM24 168.6h1v7.38h-1zM27.1 168.6h1v7.38h-1zM31.1 168.6h5v7.38h-5zM42.1 168.6h2v7.38h-2zM45.1 168.6h1v7.38h-1zM47.1 168.6h1v7.38h-1zM51.1 168.6h1v7.38h-1zM53.1 168.6h2v7.38h-2zM56.1 168.6h2v7.38h-2zM65.1 168.6h1v7.38h-1zM69.1 168.6h2v7.38h-2zM78.2 168.6h1v7.38h-1zM81.2 168.6h2v7.38h-2zM84.2 168.6h4v7.38h-4zM93.2 168.6h2v7.38h-2zM100.2 168.6h2v7.38h-2zM103.2 168.6h4v7.38h-4zM109.2 168.6h1v7.38h-1zM113.2 168.6h1v7.38h-1zM121.2 168.6h2v7.38h-2zM131.3 168.6h2v7.38h-2zM134.3 168.6h1v7.38h-1zM136.3 168.6h2v7.38h-2zM142.3 168.6h1v7.38h-1zM144.3 168.6h1v7.38h-1zM146.3 168.6h1v7.38h-1zM149.3 168.6h3v7.38h-3zM154.3 168.6h1v7.38h-1zM156.3 168.6h2v7.38h-2zM160.3 168.6h3v7.38h-3zM169.3 168.6h1v7.38h-1zM171.3 168.6h3v7.38h-3zM175.3 168.6h2v7.38h-2zM179.3 168.6h1v7.38h-1zM182.3 168.6h1v7.38h-1zM189.4 168.6h1v7.38h-1zM191.4 168.6h2v7.38h-2zM197.4 168.6h1v7.38h-1zM199.4 168.6h2v7.38h-2zM205.4 168.6h2v7.38h-2z"/><path fill="#f285a7" d="M18 168.6h1v7.38h-1zM39.1 168.6h1v7.38h-1zM63.1 168.6h1v7.38h-1zM126.2 168.6h1v7.38h-1zM170.3 168.6h1v7.38h-1zM201.4 168.6h1v7.38h-1zM203.4 168.6h1v7.38h-1z"/><path fill="#f45d7b" d="M29.1 168.6h1v7.38h-1zM44.1 168.6h1v7.38h-1zM64.1 168.6h1v7.38h-1zM72.1 168.6h2v7.38h-2zM79.2 168.6h1v7.38h-1zM89.2 168.6h1v7.38h-1zM97.2 168.6h1v7.38h-1zM115.2 168.6h1v7.38h-1zM120.2 168.6h1v7.38h-1zM128.2 168.6h1v7.38h-1zM143.3 168.6h1v7.38h-1zM147.3 168.6h1v7.38h-1zM155.3 168.6h1v7.38h-1zM158.3 168.6h1v7.38h-1zM186.4 168.6h1v7.38h-1zM188.4 168.6h1v7.38h-1zM194.4 168.6h1v7.38h-1zM196.4 168.6h1v7.38h-1z"/><rect x="0" y="175.97" width="208.40" height="7.38" fill="#f46b89"/><path fill="#f37898" d="M0 176.0h1v7.38h-1zM4 176.0h1v7.38h-1zM9 176.0h1v7.38h-1zM23 176.0h1v7.38h-1zM29.1 176.0h1v7.38h-1zM32.1 176.0h1v7.38h-1zM37.1 176.0h1v7.38h-1zM39.1 176.0h1v7.38h-1zM45.1 176.0h1v7.38h-1zM49.1 176.0h1v7.38h-1zM59.1 176.0h1v7.38h-1zM69.1 176.0h2v7.38h-2zM84.2 176.0h1v7.38h-1zM87.2 176.0h1v7.38h-1zM94.2 176.0h1v7.38h-1zM104.2 176.0h1v7.38h-1zM106.2 176.0h1v7.38h-1zM109.2 176.0h2v7.38h-2zM112.2 176.0h2v7.38h-2zM117.2 176.0h1v7.38h-1zM128.2 176.0h1v7.38h-1zM131.3 176.0h2v7.38h-2zM138.3 176.0h1v7.38h-1zM144.3 176.0h1v7.38h-1zM146.3 176.0h1v7.38h-1zM149.3 176.0h1v7.38h-1zM157.3 176.0h1v7.38h-1zM167.3 176.0h1v7.38h-1zM169.3 176.0h1v7.38h-1zM171.3 176.0h2v7.38h-2zM175.3 176.0h2v7.38h-2zM179.3 176.0h1v7.38h-1zM184.4 176.0h1v7.38h-1zM187.4 176.0h3v7.38h-3zM192.4 176.0h1v7.38h-1zM194.4 176.0h1v7.38h-1zM197.4 176.0h2v7.38h-2zM201.4 176.0h1v7.38h-1z"/><path fill="#f45d7b" d="M11 176.0h2v7.38h-2zM16 176.0h1v7.38h-1zM21 176.0h1v7.38h-1zM27.1 176.0h1v7.38h-1zM30.1 176.0h1v7.38h-1zM36.1 176.0h1v7.38h-1zM40.1 176.0h1v7.38h-1zM44.1 176.0h1v7.38h-1zM50.1 176.0h5v7.38h-5zM58.1 176.0h1v7.38h-1zM62.1 176.0h1v7.38h-1zM73.1 176.0h2v7.38h-2zM79.2 176.0h2v7.38h-2zM83.2 176.0h1v7.38h-1zM85.2 176.0h2v7.38h-2zM88.2 176.0h1v7.38h-1zM92.2 176.0h1v7.38h-1zM99.2 176.0h1v7.38h-1zM105.2 176.0h1v7.38h-1zM107.2 176.0h2v7.38h-2zM111.2 176.0h1v7.38h-1zM115.2 176.0h1v7.38h-1zM119.2 176.0h1v7.38h-1zM121.2 176.0h1v7.38h-1zM125.2 176.0h1v7.38h-1zM129.2 176.0h1v7.38h-1zM143.3 176.0h1v7.38h-1zM147.3 176.0h1v7.38h-1zM153.3 176.0h1v7.38h-1zM156.3 176.0h1v7.38h-1zM161.3 176.0h1v7.38h-1zM181.3 176.0h1v7.38h-1zM186.4 176.0h1v7.38h-1zM193.4 176.0h1v7.38h-1zM196.4 176.0h1v7.38h-1zM200.4 176.0h1v7.38h-1z"/><path fill="#f5506c" d="M163.3 176.0h1v7.38h-1z"/><rect x="9" y="0" width="1" height="183.3" fill="#333"/></svg><svg style="position:absolute;left:306px;top:21.6px;filter:blur(0.3px)" width="223.6" height="183.3" viewBox="0 0 223.6 183.3" shape-rendering="crispEdges"><rect x="0" y="0.00" width="223.60" height="7.38" fill="#7197f3"/><path fill="#7a9bf3" d="M0 0.0h1v7.38h-1zM17 0.0h1v7.38h-1zM42.9 0.0h1v7.38h-1zM44.9 0.0h1v7.38h-1zM62.9 0.0h1v7.38h-1zM64.9 0.0h1v7.38h-1zM66.9 0.0h1v7.38h-1zM75.9 0.0h1v7.38h-1zM91.8 0.0h1v7.38h-1zM101.8 0.0h2v7.38h-2zM105.8 0.0h3v7.38h-3zM113.8 0.0h1v7.38h-1zM119.8 0.0h1v7.38h-1zM129.8 0.0h1v7.38h-1zM132.8 0.0h1v7.38h-1zM135.8 0.0h1v7.38h-1zM150.7 0.0h2v7.38h-2zM155.7 0.0h1v7.38h-1zM170.7 0.0h1v7.38h-1zM186.7 0.0h1v7.38h-1zM202.6 0.0h1v7.38h-1zM220.6 0.0h1v7.38h-1zM222.6 0.0h1v7.38h-1z"/><path fill="#1473f5" d="M1 0.0h1v7.38h-1z"/><path fill="#4084f4" d="M2 0.0h1v7.38h-1zM13 0.0h1v7.38h-1zM16 0.0h1v7.38h-1zM28.9 0.0h1v7.38h-1zM72.9 0.0h1v7.38h-1zM78.9 0.0h1v7.38h-1zM81.9 0.0h1v7.38h-1zM95.8 0.0h1v7.38h-1zM99.8 0.0h1v7.38h-1zM109.8 0.0h1v7.38h-1zM118.8 0.0h1v7.38h-1zM125.8 0.0h1v7.38h-1zM140.7 0.0h1v7.38h-1zM143.7 0.0h1v7.38h-1zM172.7 0.0h1v7.38h-1zM178.7 0.0h1v7.38h-1zM204.6 0.0h1v7.38h-1zM215.6 0.0h1v7.38h-1zM221.6 0.0h1v7.38h-1z"/><path fill="#88a0f2" d="M3 0.0h1v7.38h-1zM20 0.0h1v7.38h-1zM38.9 0.0h2v7.38h-2zM45.9 0.0h1v7.38h-1zM60.9 0.0h1v7.38h-1zM63.9 0.0h1v7.38h-1zM79.9 0.0h1v7.38h-1zM111.8 0.0h2v7.38h-2zM117.8 0.0h1v7.38h-1zM131.8 0.0h1v7.38h-1zM133.8 0.0h1v7.38h-1zM136.8 0.0h1v7.38h-1zM160.7 0.0h1v7.38h-1zM167.7 0.0h1v7.38h-1zM176.7 0.0h1v7.38h-1zM179.7 0.0h1v7.38h-1zM190.7 0.0h1v7.38h-1zM194.7 0.0h1v7.38h-1zM197.6 0.0h1v7.38h-1zM201.6 0.0h1v7.38h-1z"/><path fill="#97a6f2" d="M4 0.0h1v7.38h-1zM10 0.0h2v7.38h-2zM19 0.0h1v7.38h-1zM25 0.0h1v7.38h-1zM29.9 0.0h1v7.38h-1zM35.9 0.0h1v7.38h-1zM50.9 0.0h1v7.38h-1zM57.9 0.0h1v7.38h-1zM77.9 0.0h1v7.38h-1zM83.8 0.0h1v7.38h-1zM87.8 0.0h2v7.38h-2zM96.8 0.0h1v7.38h-1zM120.8 0.0h1v7.38h-1zM126.8 0.0h1v7.38h-1zM128.8 0.0h1v7.38h-1zM144.7 0.0h1v7.38h-1zM147.7 0.0h1v7.38h-1zM158.7 0.0h1v7.38h-1zM165.7 0.0h1v7.38h-1zM175.7 0.0h1v7.38h-1zM185.7 0.0h1v7.38h-1zM188.7 0.0h1v7.38h-1zM192.7 0.0h1v7.38h-1z"/><path fill="#317ef4" d="M5 0.0h1v7.38h-1zM21 0.0h1v7.38h-1zM31.9 0.0h1v7.38h-1zM34.9 0.0h1v7.38h-1zM61.9 0.0h1v7.38h-1zM73.9 0.0h1v7.38h-1zM82.9 0.0h1v7.38h-1zM138.8 0.0h1v7.38h-1zM152.7 0.0h1v7.38h-1zM174.7 0.0h1v7.38h-1zM213.6 0.0h1v7.38h-1z"/><path fill="#5d8ff3" d="M6 0.0h3v7.38h-3zM14 0.0h2v7.38h-2zM18 0.0h1v7.38h-1zM23 0.0h1v7.38h-1zM26 0.0h2v7.38h-2zM32.9 0.0h1v7.38h-1zM36.9 0.0h1v7.38h-1zM46.9 0.0h2v7.38h-2zM59.9 0.0h1v7.38h-1zM69.9 0.0h1v7.38h-1zM71.9 0.0h1v7.38h-1zM76.9 0.0h1v7.38h-1zM89.8 0.0h1v7.38h-1zM92.8 0.0h1v7.38h-1zM94.8 0.0h1v7.38h-1zM104.8 0.0h1v7.38h-1zM108.8 0.0h1v7.38h-1zM114.8 0.0h1v7.38h-1zM121.8 0.0h1v7.38h-1zM145.7 0.0h2v7.38h-2zM157.7 0.0h1v7.38h-1zM161.7 0.0h1v7.38h-1zM166.7 0.0h1v7.38h-1zM173.7 0.0h1v7.38h-1zM177.7 0.0h1v7.38h-1zM184.7 0.0h1v7.38h-1zM210.6 0.0h1v7.38h-1zM214.6 0.0h1v7.38h-1zM216.6 0.0h1v7.38h-1z"/><path fill="#2379f5" d="M9 0.0h1v7.38h-1zM33.9 0.0h1v7.38h-1zM97.8 0.0h1v7.38h-1zM100.8 0.0h1v7.38h-1zM137.8 0.0h1v7.38h-1zM141.7 0.0h1v7.38h-1zM148.7 0.0h1v7.38h-1zM189.7 0.0h1v7.38h-1zM206.6 0.0h1v7.38h-1zM217.6 0.0h2v7.38h-2z"/><path fill="#4e8af4" d="M22 0.0h1v7.38h-1zM40.9 0.0h1v7.38h-1zM48.9 0.0h1v7.38h-1zM52.9 0.0h2v7.38h-2zM56.9 0.0h1v7.38h-1zM70.9 0.0h1v7.38h-1zM74.9 0.0h1v7.38h-1zM84.8 0.0h1v7.38h-1zM86.8 0.0h1v7.38h-1zM110.8 0.0h1v7.38h-1zM115.8 0.0h2v7.38h-2zM134.8 0.0h1v7.38h-1zM139.8 0.0h1v7.38h-1zM191.7 0.0h1v7.38h-1zM200.6 0.0h1v7.38h-1zM203.6 0.0h1v7.38h-1zM208.6 0.0h1v7.38h-1zM219.6 0.0h1v7.38h-1z"/><path fill="#a5acf2" d="M43.9 0.0h1v7.38h-1zM164.7 0.0h1v7.38h-1zM187.7 0.0h1v7.38h-1zM207.6 0.0h1v7.38h-1zM212.6 0.0h1v7.38h-1z"/><path fill="#c2b7f1" d="M68.9 0.0h1v7.38h-1zM85.8 0.0h1v7.38h-1zM156.7 0.0h1v7.38h-1zM168.7 0.0h1v7.38h-1z"/><path fill="#b4b1f1" d="M93.8 0.0h1v7.38h-1zM122.8 0.0h1v7.38h-1zM153.7 0.0h1v7.38h-1zM181.7 0.0h1v7.38h-1zM195.7 0.0h1v7.38h-1zM199.6 0.0h1v7.38h-1z"/><path fill="#1473f5" d="M98.8 0.0h1v7.38h-1zM123.8 0.0h1v7.38h-1zM171.7 0.0h1v7.38h-1zM205.6 0.0h1v7.38h-1z"/><path fill="#1473f5" d="M159.7 0.0h1v7.38h-1z"/><path fill="#dfc2f0" d="M196.6 0.0h1v7.38h-1z"/><rect x="0" y="7.33" width="223.60" height="7.38" fill="#f0a0c4"/><path fill="#f193b5" d="M0 7.3h1v7.38h-1zM2 7.3h1v7.38h-1zM8 7.3h1v7.38h-1zM20 7.3h1v7.38h-1zM38.9 7.3h1v7.38h-1zM43.9 7.3h2v7.38h-2zM47.9 7.3h2v7.38h-2zM50.9 7.3h1v7.38h-1zM55.9 7.3h1v7.38h-1zM57.9 7.3h1v7.38h-1zM65.9 7.3h1v7.38h-1zM67.9 7.3h1v7.38h-1zM71.9 7.3h1v7.38h-1zM75.9 7.3h1v7.38h-1zM79.9 7.3h1v7.38h-1zM81.9 7.3h2v7.38h-2zM93.8 7.3h1v7.38h-1zM96.8 7.3h1v7.38h-1zM100.8 7.3h1v7.38h-1zM106.8 7.3h1v7.38h-1zM117.8 7.3h1v7.38h-1zM128.8 7.3h3v7.38h-3zM132.8 7.3h2v7.38h-2zM139.8 7.3h1v7.38h-1zM145.7 7.3h1v7.38h-1zM149.7 7.3h1v7.38h-1zM163.7 7.3h1v7.38h-1zM166.7 7.3h1v7.38h-1zM168.7 7.3h1v7.38h-1zM175.7 7.3h1v7.38h-1zM177.7 7.3h1v7.38h-1zM179.7 7.3h3v7.38h-3zM186.7 7.3h1v7.38h-1zM188.7 7.3h1v7.38h-1zM195.7 7.3h1v7.38h-1zM200.6 7.3h2v7.38h-2zM205.6 7.3h1v7.38h-1zM207.6 7.3h1v7.38h-1zM216.6 7.3h1v7.38h-1z"/><path fill="#f0add3" d="M6 7.3h1v7.38h-1zM10 7.3h2v7.38h-2zM15 7.3h1v7.38h-1zM23 7.3h1v7.38h-1zM25 7.3h2v7.38h-2zM30.9 7.3h2v7.38h-2zM33.9 7.3h1v7.38h-1zM40.9 7.3h1v7.38h-1zM46.9 7.3h1v7.38h-1zM52.9 7.3h1v7.38h-1zM54.9 7.3h1v7.38h-1zM56.9 7.3h1v7.38h-1zM58.9 7.3h2v7.38h-2zM61.9 7.3h1v7.38h-1zM66.9 7.3h1v7.38h-1zM69.9 7.3h2v7.38h-2zM76.9 7.3h1v7.38h-1zM84.8 7.3h1v7.38h-1zM87.8 7.3h1v7.38h-1zM89.8 7.3h2v7.38h-2zM98.8 7.3h1v7.38h-1zM103.8 7.3h2v7.38h-2zM109.8 7.3h1v7.38h-1zM115.8 7.3h1v7.38h-1zM119.8 7.3h1v7.38h-1zM135.8 7.3h1v7.38h-1zM138.8 7.3h1v7.38h-1zM143.7 7.3h1v7.38h-1zM153.7 7.3h2v7.38h-2zM160.7 7.3h2v7.38h-2zM173.7 7.3h2v7.38h-2zM176.7 7.3h1v7.38h-1zM194.7 7.3h1v7.38h-1zM206.6 7.3h1v7.38h-1zM217.6 7.3h2v7.38h-2zM220.6 7.3h1v7.38h-1zM222.6 7.3h1v7.38h-1z"/><path fill="#f285a7" d="M24 7.3h1v7.38h-1zM97.8 7.3h1v7.38h-1zM187.7 7.3h1v7.38h-1z"/><path fill="#efbbe1" d="M27 7.3h1v7.38h-1zM62.9 7.3h1v7.38h-1zM72.9 7.3h2v7.38h-2zM215.6 7.3h1v7.38h-1z"/><rect x="0" y="14.66" width="223.60" height="7.38" fill="#f3708f"/><path fill="#f45d7b" d="M0 14.7h1v7.38h-1zM9 14.7h1v7.38h-1zM54.9 14.7h1v7.38h-1zM83.8 14.7h1v7.38h-1zM89.8 14.7h1v7.38h-1zM96.8 14.7h2v7.38h-2zM106.8 14.7h1v7.38h-1zM112.8 14.7h1v7.38h-1zM122.8 14.7h1v7.38h-1zM168.7 14.7h1v7.38h-1zM179.7 14.7h1v7.38h-1zM181.7 14.7h1v7.38h-1zM187.7 14.7h1v7.38h-1zM196.6 14.7h1v7.38h-1zM222.6 14.7h1v7.38h-1z"/><path fill="#f37898" d="M1 14.7h1v7.38h-1zM3 14.7h2v7.38h-2zM7 14.7h2v7.38h-2zM11 14.7h1v7.38h-1zM13 14.7h1v7.38h-1zM15 14.7h3v7.38h-3zM19 14.7h1v7.38h-1zM21 14.7h1v7.38h-1zM23 14.7h1v7.38h-1zM25 14.7h1v7.38h-1zM27.9 14.7h1v7.38h-1zM29.9 14.7h1v7.38h-1zM31.9 14.7h3v7.38h-3zM36.9 14.7h1v7.38h-1zM39.9 14.7h1v7.38h-1zM42.9 14.7h1v7.38h-1zM44.9 14.7h4v7.38h-4zM49.9 14.7h1v7.38h-1zM52.9 14.7h1v7.38h-1zM56.9 14.7h1v7.38h-1zM61.9 14.7h2v7.38h-2zM68.9 14.7h1v7.38h-1zM76.9 14.7h1v7.38h-1zM79.9 14.7h1v7.38h-1zM87.8 14.7h2v7.38h-2zM90.8 14.7h1v7.38h-1zM92.8 14.7h1v7.38h-1zM94.8 14.7h2v7.38h-2zM98.8 14.7h6v7.38h-6zM107.8 14.7h5v7.38h-5zM116.8 14.7h2v7.38h-2zM119.8 14.7h2v7.38h-2zM123.8 14.7h2v7.38h-2zM126.8 14.7h2v7.38h-2zM131.8 14.7h1v7.38h-1zM136.8 14.7h2v7.38h-2zM139.8 14.7h1v7.38h-1zM143.7 14.7h1v7.38h-1zM146.7 14.7h3v7.38h-3zM150.7 14.7h4v7.38h-4zM155.7 14.7h1v7.38h-1zM159.7 14.7h1v7.38h-1zM161.7 14.7h1v7.38h-1zM163.7 14.7h1v7.38h-1zM167.7 14.7h1v7.38h-1zM169.7 14.7h1v7.38h-1zM175.7 14.7h2v7.38h-2zM178.7 14.7h1v7.38h-1zM180.7 14.7h1v7.38h-1zM184.7 14.7h1v7.38h-1zM191.7 14.7h1v7.38h-1zM205.6 14.7h1v7.38h-1zM207.6 14.7h2v7.38h-2zM213.6 14.7h3v7.38h-3zM217.6 14.7h1v7.38h-1zM220.6 14.7h2v7.38h-2z"/><path fill="#f285a7" d="M53.9 14.7h1v7.38h-1zM65.9 14.7h1v7.38h-1zM70.9 14.7h1v7.38h-1zM72.9 14.7h2v7.38h-2zM125.8 14.7h1v7.38h-1zM141.7 14.7h1v7.38h-1zM173.7 14.7h1v7.38h-1zM189.7 14.7h1v7.38h-1z"/><rect x="0" y="22.00" width="223.60" height="7.38" fill="#5d8ff3"/><path fill="#6b95f3" d="M0 22.0h1v7.38h-1zM12 22.0h1v7.38h-1zM14 22.0h1v7.38h-1zM19 22.0h1v7.38h-1zM22 22.0h1v7.38h-1zM24 22.0h1v7.38h-1zM32.9 22.0h1v7.38h-1zM35.9 22.0h1v7.38h-1zM42.9 22.0h1v7.38h-1zM51.9 22.0h1v7.38h-1zM65.9 22.0h2v7.38h-2zM71.9 22.0h1v7.38h-1zM75.9 22.0h1v7.38h-1zM79.9 22.0h1v7.38h-1zM93.8 22.0h2v7.38h-2zM99.8 22.0h1v7.38h-1zM106.8 22.0h4v7.38h-4zM111.8 22.0h2v7.38h-2zM117.8 22.0h1v7.38h-1zM120.8 22.0h2v7.38h-2zM133.8 22.0h3v7.38h-3zM138.8 22.0h1v7.38h-1zM145.7 22.0h1v7.38h-1zM153.7 22.0h1v7.38h-1zM156.7 22.0h1v7.38h-1zM172.7 22.0h1v7.38h-1zM175.7 22.0h2v7.38h-2zM179.7 22.0h1v7.38h-1zM181.7 22.0h1v7.38h-1zM186.7 22.0h2v7.38h-2zM195.7 22.0h1v7.38h-1zM201.6 22.0h1v7.38h-1zM206.6 22.0h1v7.38h-1zM222.6 22.0h1v7.38h-1z"/><path fill="#317ef4" d="M1 22.0h1v7.38h-1zM69.9 22.0h2v7.38h-2zM72.9 22.0h1v7.38h-1zM98.8 22.0h1v7.38h-1zM103.8 22.0h1v7.38h-1zM110.8 22.0h1v7.38h-1zM116.8 22.0h1v7.38h-1zM140.7 22.0h1v7.38h-1zM169.7 22.0h1v7.38h-1zM183.7 22.0h1v7.38h-1zM220.6 22.0h1v7.38h-1z"/><path fill="#4e8af4" d="M3 22.0h2v7.38h-2zM9 22.0h2v7.38h-2zM16 22.0h1v7.38h-1zM25 22.0h2v7.38h-2zM27.9 22.0h1v7.38h-1zM29.9 22.0h1v7.38h-1zM33.9 22.0h1v7.38h-1zM38.9 22.0h1v7.38h-1zM45.9 22.0h1v7.38h-1zM47.9 22.0h1v7.38h-1zM49.9 22.0h1v7.38h-1zM60.9 22.0h2v7.38h-2zM63.9 22.0h1v7.38h-1zM80.9 22.0h3v7.38h-3zM87.8 22.0h1v7.38h-1zM89.8 22.0h2v7.38h-2zM100.8 22.0h1v7.38h-1zM102.8 22.0h1v7.38h-1zM113.8 22.0h1v7.38h-1zM115.8 22.0h1v7.38h-1zM127.8 22.0h1v7.38h-1zM137.8 22.0h1v7.38h-1zM143.7 22.0h1v7.38h-1zM147.7 22.0h2v7.38h-2zM150.7 22.0h1v7.38h-1zM157.7 22.0h1v7.38h-1zM161.7 22.0h3v7.38h-3zM167.7 22.0h1v7.38h-1zM170.7 22.0h1v7.38h-1zM174.7 22.0h1v7.38h-1zM177.7 22.0h1v7.38h-1zM190.7 22.0h1v7.38h-1zM197.6 22.0h1v7.38h-1zM204.6 22.0h2v7.38h-2zM208.6 22.0h1v7.38h-1zM210.6 22.0h1v7.38h-1zM221.6 22.0h1v7.38h-1z"/><path fill="#4084f4" d="M5 22.0h1v7.38h-1zM7 22.0h1v7.38h-1zM13 22.0h1v7.38h-1zM23 22.0h1v7.38h-1zM44.9 22.0h1v7.38h-1zM46.9 22.0h1v7.38h-1zM52.9 22.0h1v7.38h-1zM73.9 22.0h2v7.38h-2zM84.8 22.0h2v7.38h-2zM95.8 22.0h1v7.38h-1zM123.8 22.0h1v7.38h-1zM125.8 22.0h1v7.38h-1zM136.8 22.0h1v7.38h-1zM141.7 22.0h2v7.38h-2zM178.7 22.0h1v7.38h-1zM189.7 22.0h1v7.38h-1zM203.6 22.0h1v7.38h-1zM213.6 22.0h1v7.38h-1z"/><path fill="#7a9bf3" d="M11 22.0h1v7.38h-1zM34.9 22.0h1v7.38h-1zM39.9 22.0h2v7.38h-2zM43.9 22.0h1v7.38h-1zM64.9 22.0h1v7.38h-1zM83.8 22.0h1v7.38h-1zM92.8 22.0h1v7.38h-1zM96.8 22.0h1v7.38h-1zM105.8 22.0h1v7.38h-1zM114.8 22.0h1v7.38h-1zM126.8 22.0h1v7.38h-1zM128.8 22.0h4v7.38h-4zM146.7 22.0h1v7.38h-1zM154.7 22.0h1v7.38h-1zM160.7 22.0h1v7.38h-1zM164.7 22.0h1v7.38h-1zM168.7 22.0h1v7.38h-1zM184.7 22.0h1v7.38h-1zM188.7 22.0h1v7.38h-1zM196.6 22.0h1v7.38h-1zM199.6 22.0h1v7.38h-1zM202.6 22.0h1v7.38h-1zM212.6 22.0h1v7.38h-1zM216.6 22.0h1v7.38h-1z"/><path fill="#88a0f2" d="M30.9 22.0h1v7.38h-1zM41.9 22.0h1v7.38h-1zM55.9 22.0h1v7.38h-1zM67.9 22.0h1v7.38h-1zM77.9 22.0h1v7.38h-1zM86.8 22.0h1v7.38h-1zM122.8 22.0h1v7.38h-1zM132.8 22.0h1v7.38h-1zM144.7 22.0h1v7.38h-1z"/><rect x="0" y="29.33" width="223.60" height="7.38" fill="#97a6f2"/><path fill="#a5acf2" d="M0 29.3h1v7.38h-1zM12 29.3h1v7.38h-1zM18 29.3h1v7.38h-1zM36.9 29.3h1v7.38h-1zM38.9 29.3h2v7.38h-2zM44.9 29.3h1v7.38h-1zM48.9 29.3h1v7.38h-1zM50.9 29.3h1v7.38h-1zM64.9 29.3h1v7.38h-1zM68.9 29.3h2v7.38h-2zM77.9 29.3h4v7.38h-4zM85.8 29.3h2v7.38h-2zM90.8 29.3h2v7.38h-2zM103.8 29.3h1v7.38h-1zM112.8 29.3h1v7.38h-1zM114.8 29.3h1v7.38h-1zM122.8 29.3h2v7.38h-2zM125.8 29.3h2v7.38h-2zM128.8 29.3h1v7.38h-1zM130.8 29.3h1v7.38h-1zM133.8 29.3h1v7.38h-1zM144.7 29.3h1v7.38h-1zM146.7 29.3h1v7.38h-1zM149.7 29.3h1v7.38h-1zM164.7 29.3h1v7.38h-1zM166.7 29.3h1v7.38h-1zM173.7 29.3h3v7.38h-3zM177.7 29.3h1v7.38h-1zM182.7 29.3h1v7.38h-1zM184.7 29.3h2v7.38h-2zM187.7 29.3h2v7.38h-2zM193.7 29.3h3v7.38h-3zM197.6 29.3h1v7.38h-1zM200.6 29.3h1v7.38h-1zM212.6 29.3h2v7.38h-2z"/><path fill="#88a0f2" d="M1 29.3h1v7.38h-1zM3 29.3h1v7.38h-1zM5 29.3h2v7.38h-2zM9 29.3h1v7.38h-1zM11 29.3h1v7.38h-1zM13 29.3h1v7.38h-1zM16 29.3h1v7.38h-1zM20 29.3h4v7.38h-4zM25 29.3h3v7.38h-3zM28.9 29.3h1v7.38h-1zM33.9 29.3h2v7.38h-2zM42.9 29.3h2v7.38h-2zM45.9 29.3h1v7.38h-1zM52.9 29.3h1v7.38h-1zM54.9 29.3h1v7.38h-1zM57.9 29.3h1v7.38h-1zM60.9 29.3h1v7.38h-1zM62.9 29.3h2v7.38h-2zM72.9 29.3h3v7.38h-3zM88.8 29.3h2v7.38h-2zM93.8 29.3h1v7.38h-1zM98.8 29.3h1v7.38h-1zM100.8 29.3h1v7.38h-1zM109.8 29.3h1v7.38h-1zM111.8 29.3h1v7.38h-1zM119.8 29.3h1v7.38h-1zM136.8 29.3h2v7.38h-2zM139.8 29.3h1v7.38h-1zM142.7 29.3h2v7.38h-2zM150.7 29.3h1v7.38h-1zM157.7 29.3h1v7.38h-1zM160.7 29.3h2v7.38h-2zM169.7 29.3h1v7.38h-1zM172.7 29.3h1v7.38h-1zM183.7 29.3h1v7.38h-1zM189.7 29.3h1v7.38h-1zM196.6 29.3h1v7.38h-1zM203.6 29.3h1v7.38h-1zM209.6 29.3h1v7.38h-1zM214.6 29.3h1v7.38h-1zM216.6 29.3h3v7.38h-3zM220.6 29.3h1v7.38h-1z"/><path fill="#b4b1f1" d="M2 29.3h1v7.38h-1zM19 29.3h1v7.38h-1zM24 29.3h1v7.38h-1zM32.9 29.3h1v7.38h-1zM41.9 29.3h1v7.38h-1zM55.9 29.3h1v7.38h-1zM61.9 29.3h1v7.38h-1zM67.9 29.3h1v7.38h-1zM83.8 29.3h1v7.38h-1zM117.8 29.3h1v7.38h-1zM129.8 29.3h1v7.38h-1zM154.7 29.3h1v7.38h-1zM179.7 29.3h1v7.38h-1zM186.7 29.3h1v7.38h-1zM207.6 29.3h1v7.38h-1z"/><path fill="#7a9bf3" d="M7 29.3h1v7.38h-1zM29.9 29.3h1v7.38h-1zM40.9 29.3h1v7.38h-1zM47.9 29.3h1v7.38h-1zM56.9 29.3h1v7.38h-1zM59.9 29.3h1v7.38h-1zM70.9 29.3h1v7.38h-1zM84.8 29.3h1v7.38h-1zM95.8 29.3h1v7.38h-1zM99.8 29.3h1v7.38h-1zM113.8 29.3h1v7.38h-1zM116.8 29.3h1v7.38h-1zM127.8 29.3h1v7.38h-1zM138.8 29.3h1v7.38h-1zM141.7 29.3h1v7.38h-1zM153.7 29.3h1v7.38h-1zM155.7 29.3h1v7.38h-1zM158.7 29.3h1v7.38h-1zM171.7 29.3h1v7.38h-1zM178.7 29.3h1v7.38h-1zM180.7 29.3h1v7.38h-1zM198.6 29.3h1v7.38h-1zM201.6 29.3h1v7.38h-1zM205.6 29.3h2v7.38h-2zM208.6 29.3h1v7.38h-1zM221.6 29.3h1v7.38h-1z"/><path fill="#6b95f3" d="M15 29.3h1v7.38h-1zM102.8 29.3h1v7.38h-1zM159.7 29.3h1v7.38h-1z"/><path fill="#c2b7f1" d="M96.8 29.3h1v7.38h-1zM156.7 29.3h1v7.38h-1zM163.7 29.3h1v7.38h-1zM167.7 29.3h1v7.38h-1z"/><path fill="#d1bdf1" d="M222.6 29.3h1v7.38h-1z"/><rect x="0" y="36.66" width="223.60" height="7.38" fill="#f0a5ca"/><path fill="#f285a7" d="M0 36.7h1v7.38h-1zM132.8 36.7h1v7.38h-1z"/><path fill="#f0add3" d="M1 36.7h2v7.38h-2zM6 36.7h3v7.38h-3zM10 36.7h1v7.38h-1zM15 36.7h2v7.38h-2zM18 36.7h1v7.38h-1zM20 36.7h1v7.38h-1zM22 36.7h1v7.38h-1zM27 36.7h1v7.38h-1zM28.9 36.7h1v7.38h-1zM31.9 36.7h1v7.38h-1zM33.9 36.7h1v7.38h-1zM35.9 36.7h2v7.38h-2zM41.9 36.7h1v7.38h-1zM45.9 36.7h1v7.38h-1zM47.9 36.7h1v7.38h-1zM50.9 36.7h1v7.38h-1zM53.9 36.7h1v7.38h-1zM55.9 36.7h1v7.38h-1zM57.9 36.7h3v7.38h-3zM61.9 36.7h1v7.38h-1zM69.9 36.7h4v7.38h-4zM74.9 36.7h1v7.38h-1zM76.9 36.7h1v7.38h-1zM78.9 36.7h1v7.38h-1zM84.8 36.7h4v7.38h-4zM89.8 36.7h1v7.38h-1zM91.8 36.7h1v7.38h-1zM94.8 36.7h7v7.38h-7zM104.8 36.7h2v7.38h-2zM107.8 36.7h1v7.38h-1zM109.8 36.7h3v7.38h-3zM113.8 36.7h1v7.38h-1zM115.8 36.7h2v7.38h-2zM118.8 36.7h1v7.38h-1zM120.8 36.7h1v7.38h-1zM123.8 36.7h2v7.38h-2zM127.8 36.7h1v7.38h-1zM131.8 36.7h1v7.38h-1zM138.8 36.7h2v7.38h-2zM148.7 36.7h1v7.38h-1zM153.7 36.7h1v7.38h-1zM159.7 36.7h1v7.38h-1zM161.7 36.7h3v7.38h-3zM168.7 36.7h2v7.38h-2zM171.7 36.7h1v7.38h-1zM174.7 36.7h5v7.38h-5zM180.7 36.7h1v7.38h-1zM183.7 36.7h1v7.38h-1zM189.7 36.7h1v7.38h-1zM191.7 36.7h1v7.38h-1zM193.7 36.7h1v7.38h-1zM200.6 36.7h1v7.38h-1zM203.6 36.7h1v7.38h-1zM207.6 36.7h1v7.38h-1zM209.6 36.7h2v7.38h-2zM212.6 36.7h2v7.38h-2zM215.6 36.7h1v7.38h-1zM221.6 36.7h1v7.38h-1z"/><path fill="#efbbe1" d="M3 36.7h2v7.38h-2zM75.9 36.7h1v7.38h-1zM119.8 36.7h1v7.38h-1zM140.7 36.7h1v7.38h-1zM150.7 36.7h1v7.38h-1zM173.7 36.7h1v7.38h-1zM205.6 36.7h2v7.38h-2zM217.6 36.7h1v7.38h-1z"/><path fill="#f193b5" d="M12 36.7h1v7.38h-1zM14 36.7h1v7.38h-1zM17 36.7h1v7.38h-1zM19 36.7h1v7.38h-1zM25 36.7h1v7.38h-1zM42.9 36.7h1v7.38h-1zM48.9 36.7h1v7.38h-1zM63.9 36.7h1v7.38h-1zM67.9 36.7h1v7.38h-1zM82.9 36.7h1v7.38h-1zM90.8 36.7h1v7.38h-1zM145.7 36.7h3v7.38h-3zM156.7 36.7h1v7.38h-1zM158.7 36.7h1v7.38h-1zM172.7 36.7h1v7.38h-1zM181.7 36.7h1v7.38h-1zM186.7 36.7h1v7.38h-1zM188.7 36.7h1v7.38h-1zM195.7 36.7h1v7.38h-1zM199.6 36.7h1v7.38h-1zM201.6 36.7h1v7.38h-1z"/><rect x="0" y="43.99" width="223.60" height="7.38" fill="#f0a0c4"/><path fill="#f0add3" d="M3 44.0h1v7.38h-1zM10 44.0h1v7.38h-1zM15 44.0h2v7.38h-2zM20 44.0h1v7.38h-1zM22 44.0h1v7.38h-1zM26 44.0h1v7.38h-1zM27.9 44.0h1v7.38h-1zM29.9 44.0h2v7.38h-2zM33.9 44.0h1v7.38h-1zM39.9 44.0h1v7.38h-1zM45.9 44.0h1v7.38h-1zM52.9 44.0h1v7.38h-1zM54.9 44.0h1v7.38h-1zM57.9 44.0h4v7.38h-4zM67.9 44.0h1v7.38h-1zM70.9 44.0h1v7.38h-1zM72.9 44.0h2v7.38h-2zM81.9 44.0h1v7.38h-1zM88.8 44.0h1v7.38h-1zM102.8 44.0h1v7.38h-1zM108.8 44.0h2v7.38h-2zM119.8 44.0h1v7.38h-1zM123.8 44.0h1v7.38h-1zM136.8 44.0h1v7.38h-1zM139.8 44.0h1v7.38h-1zM142.7 44.0h2v7.38h-2zM150.7 44.0h1v7.38h-1zM152.7 44.0h1v7.38h-1zM155.7 44.0h1v7.38h-1zM157.7 44.0h1v7.38h-1zM159.7 44.0h1v7.38h-1zM161.7 44.0h1v7.38h-1zM167.7 44.0h1v7.38h-1zM178.7 44.0h1v7.38h-1zM189.7 44.0h1v7.38h-1zM191.7 44.0h1v7.38h-1zM198.6 44.0h1v7.38h-1zM203.6 44.0h1v7.38h-1zM205.6 44.0h2v7.38h-2zM210.6 44.0h1v7.38h-1zM215.6 44.0h1v7.38h-1zM217.6 44.0h2v7.38h-2zM220.6 44.0h1v7.38h-1z"/><path fill="#f193b5" d="M7 44.0h3v7.38h-3zM19 44.0h1v7.38h-1zM36.9 44.0h1v7.38h-1zM38.9 44.0h1v7.38h-1zM40.9 44.0h1v7.38h-1zM44.9 44.0h1v7.38h-1zM48.9 44.0h3v7.38h-3zM55.9 44.0h1v7.38h-1zM65.9 44.0h1v7.38h-1zM74.9 44.0h1v7.38h-1zM83.8 44.0h1v7.38h-1zM85.8 44.0h1v7.38h-1zM92.8 44.0h2v7.38h-2zM95.8 44.0h1v7.38h-1zM99.8 44.0h1v7.38h-1zM105.8 44.0h1v7.38h-1zM117.8 44.0h1v7.38h-1zM129.8 44.0h1v7.38h-1zM134.8 44.0h1v7.38h-1zM141.7 44.0h1v7.38h-1zM145.7 44.0h3v7.38h-3zM158.7 44.0h1v7.38h-1zM164.7 44.0h1v7.38h-1zM172.7 44.0h1v7.38h-1zM175.7 44.0h1v7.38h-1zM180.7 44.0h1v7.38h-1zM193.7 44.0h1v7.38h-1zM195.7 44.0h3v7.38h-3zM201.6 44.0h2v7.38h-2zM204.6 44.0h1v7.38h-1zM212.6 44.0h2v7.38h-2zM222.6 44.0h1v7.38h-1z"/><path fill="#efbbe1" d="M56.9 44.0h1v7.38h-1zM61.9 44.0h1v7.38h-1zM78.9 44.0h1v7.38h-1zM84.8 44.0h1v7.38h-1zM90.8 44.0h1v7.38h-1z"/><path fill="#f285a7" d="M64.9 44.0h1v7.38h-1zM128.8 44.0h1v7.38h-1zM156.7 44.0h1v7.38h-1zM162.7 44.0h1v7.38h-1zM168.7 44.0h1v7.38h-1zM185.7 44.0h1v7.38h-1zM187.7 44.0h1v7.38h-1z"/><rect x="0" y="51.32" width="223.60" height="7.38" fill="#f28bad"/><path fill="#f37898" d="M2 51.3h1v7.38h-1zM12 51.3h1v7.38h-1zM32.9 51.3h1v7.38h-1zM39.9 51.3h1v7.38h-1zM51.9 51.3h1v7.38h-1zM64.9 51.3h1v7.38h-1zM83.8 51.3h1v7.38h-1zM86.8 51.3h1v7.38h-1zM88.8 51.3h1v7.38h-1zM96.8 51.3h1v7.38h-1zM111.8 51.3h1v7.38h-1zM114.8 51.3h1v7.38h-1zM145.7 51.3h2v7.38h-2zM160.7 51.3h1v7.38h-1zM181.7 51.3h1v7.38h-1zM185.7 51.3h1v7.38h-1zM199.6 51.3h2v7.38h-2zM212.6 51.3h1v7.38h-1z"/><path fill="#f193b5" d="M4 51.3h5v7.38h-5zM13 51.3h3v7.38h-3zM20 51.3h2v7.38h-2zM23 51.3h1v7.38h-1zM26 51.3h1v7.38h-1zM28.9 51.3h3v7.38h-3zM33.9 51.3h2v7.38h-2zM36.9 51.3h1v7.38h-1zM38.9 51.3h1v7.38h-1zM40.9 51.3h1v7.38h-1zM43.9 51.3h3v7.38h-3zM47.9 51.3h1v7.38h-1zM53.9 51.3h1v7.38h-1zM55.9 51.3h1v7.38h-1zM57.9 51.3h2v7.38h-2zM61.9 51.3h2v7.38h-2zM68.9 51.3h1v7.38h-1zM71.9 51.3h2v7.38h-2zM80.9 51.3h1v7.38h-1zM85.8 51.3h1v7.38h-1zM87.8 51.3h1v7.38h-1zM91.8 51.3h2v7.38h-2zM95.8 51.3h1v7.38h-1zM98.8 51.3h3v7.38h-3zM104.8 51.3h1v7.38h-1zM107.8 51.3h1v7.38h-1zM112.8 51.3h2v7.38h-2zM116.8 51.3h2v7.38h-2zM119.8 51.3h3v7.38h-3zM123.8 51.3h1v7.38h-1zM125.8 51.3h1v7.38h-1zM127.8 51.3h1v7.38h-1zM129.8 51.3h1v7.38h-1zM132.8 51.3h1v7.38h-1zM135.8 51.3h1v7.38h-1zM138.8 51.3h5v7.38h-5zM148.7 51.3h1v7.38h-1zM150.7 51.3h6v7.38h-6zM158.7 51.3h1v7.38h-1zM169.7 51.3h2v7.38h-2zM176.7 51.3h3v7.38h-3zM180.7 51.3h1v7.38h-1zM182.7 51.3h2v7.38h-2zM187.7 51.3h3v7.38h-3zM192.7 51.3h1v7.38h-1zM198.6 51.3h1v7.38h-1zM203.6 51.3h1v7.38h-1zM205.6 51.3h1v7.38h-1zM208.6 51.3h1v7.38h-1zM214.6 51.3h1v7.38h-1zM218.6 51.3h2v7.38h-2z"/><path fill="#f0a0c4" d="M16 51.3h1v7.38h-1zM31.9 51.3h1v7.38h-1zM42.9 51.3h1v7.38h-1zM46.9 51.3h1v7.38h-1zM54.9 51.3h1v7.38h-1zM56.9 51.3h1v7.38h-1zM84.8 51.3h1v7.38h-1zM89.8 51.3h1v7.38h-1zM102.8 51.3h2v7.38h-2zM108.8 51.3h2v7.38h-2zM159.7 51.3h1v7.38h-1zM171.7 51.3h1v7.38h-1zM217.6 51.3h1v7.38h-1z"/><path fill="#f46b89" d="M164.7 51.3h1v7.38h-1z"/><rect x="0" y="58.66" width="223.60" height="7.38" fill="#829ef2"/><path fill="#97a6f2" d="M0 58.7h1v7.38h-1zM4 58.7h1v7.38h-1zM12 58.7h1v7.38h-1zM32.9 58.7h1v7.38h-1zM37.9 58.7h2v7.38h-2zM44.9 58.7h1v7.38h-1zM48.9 58.7h1v7.38h-1zM51.9 58.7h1v7.38h-1zM65.9 58.7h1v7.38h-1zM67.9 58.7h1v7.38h-1zM74.9 58.7h1v7.38h-1zM83.8 58.7h1v7.38h-1zM91.8 58.7h1v7.38h-1zM96.8 58.7h1v7.38h-1zM111.8 58.7h2v7.38h-2zM114.8 58.7h1v7.38h-1zM122.8 58.7h1v7.38h-1zM129.8 58.7h1v7.38h-1zM139.8 58.7h1v7.38h-1zM144.7 58.7h2v7.38h-2zM147.7 58.7h1v7.38h-1zM165.7 58.7h1v7.38h-1zM172.7 58.7h1v7.38h-1zM176.7 58.7h2v7.38h-2zM184.7 58.7h1v7.38h-1zM187.7 58.7h1v7.38h-1zM207.6 58.7h1v7.38h-1zM216.6 58.7h1v7.38h-1zM222.6 58.7h1v7.38h-1z"/><path fill="#7a9bf3" d="M1 58.7h1v7.38h-1zM3 58.7h1v7.38h-1zM5 58.7h1v7.38h-1zM7 58.7h1v7.38h-1zM13 58.7h1v7.38h-1zM15 58.7h1v7.38h-1zM19 58.7h1v7.38h-1zM23 58.7h1v7.38h-1zM27 58.7h3v7.38h-3zM31.9 58.7h1v7.38h-1zM34.9 58.7h3v7.38h-3zM40.9 58.7h4v7.38h-4zM45.9 58.7h2v7.38h-2zM49.9 58.7h1v7.38h-1zM52.9 58.7h3v7.38h-3zM61.9 58.7h2v7.38h-2zM69.9 58.7h1v7.38h-1zM71.9 58.7h3v7.38h-3zM76.9 58.7h1v7.38h-1zM79.9 58.7h4v7.38h-4zM84.8 58.7h2v7.38h-2zM88.8 58.7h1v7.38h-1zM90.8 58.7h1v7.38h-1zM94.8 58.7h2v7.38h-2zM98.8 58.7h1v7.38h-1zM101.8 58.7h2v7.38h-2zM104.8 58.7h1v7.38h-1zM107.8 58.7h2v7.38h-2zM110.8 58.7h1v7.38h-1zM113.8 58.7h1v7.38h-1zM116.8 58.7h3v7.38h-3zM120.8 58.7h2v7.38h-2zM125.8 58.7h1v7.38h-1zM127.8 58.7h1v7.38h-1zM131.8 58.7h1v7.38h-1zM133.8 58.7h1v7.38h-1zM135.8 58.7h4v7.38h-4zM140.7 58.7h3v7.38h-3zM151.7 58.7h3v7.38h-3zM158.7 58.7h1v7.38h-1zM161.7 58.7h2v7.38h-2zM167.7 58.7h1v7.38h-1zM174.7 58.7h2v7.38h-2zM178.7 58.7h1v7.38h-1zM183.7 58.7h1v7.38h-1zM185.7 58.7h1v7.38h-1zM192.7 58.7h1v7.38h-1zM202.6 58.7h2v7.38h-2zM212.6 58.7h1v7.38h-1zM214.6 58.7h1v7.38h-1zM218.6 58.7h1v7.38h-1zM221.6 58.7h1v7.38h-1z"/><path fill="#6b95f3" d="M16 58.7h1v7.38h-1zM21 58.7h1v7.38h-1zM29.9 58.7h1v7.38h-1zM56.9 58.7h1v7.38h-1zM59.9 58.7h2v7.38h-2zM70.9 58.7h1v7.38h-1zM99.8 58.7h1v7.38h-1zM109.8 58.7h1v7.38h-1zM123.8 58.7h1v7.38h-1zM132.8 58.7h1v7.38h-1zM143.7 58.7h1v7.38h-1zM150.7 58.7h1v7.38h-1zM159.7 58.7h1v7.38h-1zM170.7 58.7h1v7.38h-1zM189.7 58.7h1v7.38h-1zM205.6 58.7h1v7.38h-1zM210.6 58.7h1v7.38h-1zM215.6 58.7h1v7.38h-1z"/><path fill="#5d8ff3" d="M89.8 58.7h1v7.38h-1zM171.7 58.7h1v7.38h-1z"/><path fill="#a5acf2" d="M97.8 58.7h1v7.38h-1zM128.8 58.7h1v7.38h-1zM156.7 58.7h1v7.38h-1z"/><rect x="0" y="65.99" width="223.60" height="7.38" fill="#f0add3"/><path fill="#f193b5" d="M0 66.0h1v7.38h-1zM13 66.0h1v7.38h-1zM75.9 66.0h1v7.38h-1zM79.9 66.0h1v7.38h-1zM111.8 66.0h1v7.38h-1zM129.8 66.0h1v7.38h-1zM136.8 66.0h1v7.38h-1zM144.7 66.0h1v7.38h-1zM154.7 66.0h1v7.38h-1zM175.7 66.0h1v7.38h-1z"/><path fill="#efbbe1" d="M1 66.0h1v7.38h-1zM5 66.0h3v7.38h-3zM16 66.0h1v7.38h-1zM22 66.0h1v7.38h-1zM25 66.0h1v7.38h-1zM31.9 66.0h1v7.38h-1zM33.9 66.0h3v7.38h-3zM42.9 66.0h1v7.38h-1zM47.9 66.0h1v7.38h-1zM50.9 66.0h1v7.38h-1zM55.9 66.0h2v7.38h-2zM59.9 66.0h1v7.38h-1zM62.9 66.0h1v7.38h-1zM73.9 66.0h1v7.38h-1zM82.9 66.0h1v7.38h-1zM89.8 66.0h1v7.38h-1zM91.8 66.0h1v7.38h-1zM95.8 66.0h1v7.38h-1zM99.8 66.0h1v7.38h-1zM102.8 66.0h1v7.38h-1zM104.8 66.0h1v7.38h-1zM109.8 66.0h2v7.38h-2zM116.8 66.0h1v7.38h-1zM118.8 66.0h4v7.38h-4zM123.8 66.0h1v7.38h-1zM125.8 66.0h1v7.38h-1zM127.8 66.0h1v7.38h-1zM137.8 66.0h1v7.38h-1zM148.7 66.0h1v7.38h-1zM159.7 66.0h1v7.38h-1zM173.7 66.0h1v7.38h-1zM182.7 66.0h1v7.38h-1zM192.7 66.0h1v7.38h-1zM197.6 66.0h1v7.38h-1zM199.6 66.0h1v7.38h-1zM201.6 66.0h1v7.38h-1zM203.6 66.0h1v7.38h-1zM206.6 66.0h3v7.38h-3zM210.6 66.0h1v7.38h-1zM215.6 66.0h1v7.38h-1zM217.6 66.0h2v7.38h-2zM220.6 66.0h1v7.38h-1z"/><path fill="#f0a0c4" d="M3 66.0h1v7.38h-1zM8 66.0h1v7.38h-1zM12 66.0h1v7.38h-1zM19 66.0h1v7.38h-1zM21 66.0h1v7.38h-1zM23 66.0h1v7.38h-1zM32.9 66.0h1v7.38h-1zM37.9 66.0h2v7.38h-2zM63.9 66.0h2v7.38h-2zM66.9 66.0h2v7.38h-2zM69.9 66.0h1v7.38h-1zM76.9 66.0h1v7.38h-1zM87.8 66.0h1v7.38h-1zM92.8 66.0h1v7.38h-1zM94.8 66.0h1v7.38h-1zM96.8 66.0h1v7.38h-1zM112.8 66.0h1v7.38h-1zM114.8 66.0h1v7.38h-1zM117.8 66.0h1v7.38h-1zM124.8 66.0h1v7.38h-1zM128.8 66.0h1v7.38h-1zM131.8 66.0h1v7.38h-1zM140.7 66.0h1v7.38h-1zM142.7 66.0h1v7.38h-1zM147.7 66.0h1v7.38h-1zM153.7 66.0h1v7.38h-1zM157.7 66.0h1v7.38h-1zM167.7 66.0h2v7.38h-2zM174.7 66.0h1v7.38h-1zM179.7 66.0h1v7.38h-1zM184.7 66.0h1v7.38h-1zM188.7 66.0h1v7.38h-1zM194.7 66.0h1v7.38h-1zM198.6 66.0h1v7.38h-1zM202.6 66.0h1v7.38h-1zM204.6 66.0h1v7.38h-1zM211.6 66.0h1v7.38h-1zM213.6 66.0h2v7.38h-2zM216.6 66.0h1v7.38h-1zM219.6 66.0h1v7.38h-1zM222.6 66.0h1v7.38h-1z"/><path fill="#f285a7" d="M48.9 66.0h1v7.38h-1z"/><path fill="#dfc2f0" d="M61.9 66.0h1v7.38h-1z"/><path fill="#eec8f0" d="M70.9 66.0h1v7.38h-1zM138.8 66.0h1v7.38h-1zM143.7 66.0h1v7.38h-1zM150.7 66.0h1v7.38h-1zM152.7 66.0h1v7.38h-1zM189.7 66.0h1v7.38h-1zM205.6 66.0h1v7.38h-1zM221.6 66.0h1v7.38h-1z"/><rect x="0" y="73.32" width="223.60" height="7.38" fill="#b4b1f1"/><path fill="#c2b7f1" d="M0 73.3h1v7.38h-1zM9 73.3h1v7.38h-1zM11 73.3h1v7.38h-1zM17 73.3h3v7.38h-3zM24 73.3h2v7.38h-2zM30.9 73.3h1v7.38h-1zM32.9 73.3h1v7.38h-1zM37.9 73.3h1v7.38h-1zM39.9 73.3h1v7.38h-1zM41.9 73.3h2v7.38h-2zM54.9 73.3h1v7.38h-1zM57.9 73.3h1v7.38h-1zM60.9 73.3h1v7.38h-1zM65.9 73.3h2v7.38h-2zM81.9 73.3h2v7.38h-2zM85.8 73.3h1v7.38h-1zM87.8 73.3h1v7.38h-1zM92.8 73.3h1v7.38h-1zM98.8 73.3h1v7.38h-1zM100.8 73.3h1v7.38h-1zM114.8 73.3h2v7.38h-2zM117.8 73.3h1v7.38h-1zM121.8 73.3h1v7.38h-1zM124.8 73.3h2v7.38h-2zM129.8 73.3h2v7.38h-2zM139.8 73.3h1v7.38h-1zM156.7 73.3h1v7.38h-1zM158.7 73.3h2v7.38h-2zM161.7 73.3h2v7.38h-2zM164.7 73.3h1v7.38h-1zM168.7 73.3h1v7.38h-1zM177.7 73.3h1v7.38h-1zM179.7 73.3h1v7.38h-1zM182.7 73.3h1v7.38h-1zM186.7 73.3h1v7.38h-1zM191.7 73.3h1v7.38h-1zM199.6 73.3h1v7.38h-1zM201.6 73.3h2v7.38h-2zM207.6 73.3h1v7.38h-1zM213.6 73.3h3v7.38h-3zM218.6 73.3h2v7.38h-2zM222.6 73.3h1v7.38h-1z"/><path fill="#a5acf2" d="M3 73.3h1v7.38h-1zM5 73.3h1v7.38h-1zM14 73.3h1v7.38h-1zM22 73.3h1v7.38h-1zM27.9 73.3h1v7.38h-1zM29.9 73.3h1v7.38h-1zM35.9 73.3h1v7.38h-1zM38.9 73.3h1v7.38h-1zM46.9 73.3h2v7.38h-2zM51.9 73.3h2v7.38h-2zM55.9 73.3h1v7.38h-1zM58.9 73.3h1v7.38h-1zM61.9 73.3h2v7.38h-2zM72.9 73.3h3v7.38h-3zM78.9 73.3h1v7.38h-1zM84.8 73.3h1v7.38h-1zM86.8 73.3h1v7.38h-1zM88.8 73.3h1v7.38h-1zM101.8 73.3h2v7.38h-2zM107.8 73.3h1v7.38h-1zM110.8 73.3h1v7.38h-1zM116.8 73.3h1v7.38h-1zM120.8 73.3h1v7.38h-1zM135.8 73.3h1v7.38h-1zM138.8 73.3h1v7.38h-1zM140.7 73.3h3v7.38h-3zM146.7 73.3h2v7.38h-2zM151.7 73.3h2v7.38h-2zM157.7 73.3h1v7.38h-1zM166.7 73.3h1v7.38h-1zM180.7 73.3h1v7.38h-1zM183.7 73.3h1v7.38h-1zM198.6 73.3h1v7.38h-1zM204.6 73.3h1v7.38h-1zM206.6 73.3h1v7.38h-1zM208.6 73.3h1v7.38h-1zM211.6 73.3h1v7.38h-1zM217.6 73.3h1v7.38h-1zM221.6 73.3h1v7.38h-1z"/><path fill="#7a9bf3" d="M4 73.3h1v7.38h-1z"/><path fill="#97a6f2" d="M7 73.3h1v7.38h-1zM13 73.3h1v7.38h-1zM16 73.3h1v7.38h-1zM21 73.3h1v7.38h-1zM28.9 73.3h1v7.38h-1zM33.9 73.3h1v7.38h-1zM56.9 73.3h1v7.38h-1zM69.9 73.3h2v7.38h-2zM89.8 73.3h1v7.38h-1zM153.7 73.3h1v7.38h-1zM163.7 73.3h1v7.38h-1zM171.7 73.3h1v7.38h-1zM174.7 73.3h1v7.38h-1zM176.7 73.3h1v7.38h-1zM189.7 73.3h1v7.38h-1zM200.6 73.3h1v7.38h-1zM209.6 73.3h1v7.38h-1z"/><path fill="#d1bdf1" d="M23 73.3h1v7.38h-1zM26 73.3h1v7.38h-1zM48.9 73.3h1v7.38h-1zM63.9 73.3h2v7.38h-2zM79.9 73.3h1v7.38h-1zM96.8 73.3h1v7.38h-1zM112.8 73.3h1v7.38h-1zM123.8 73.3h1v7.38h-1zM126.8 73.3h1v7.38h-1zM132.8 73.3h1v7.38h-1zM145.7 73.3h1v7.38h-1zM160.7 73.3h1v7.38h-1zM165.7 73.3h1v7.38h-1zM167.7 73.3h1v7.38h-1zM187.7 73.3h1v7.38h-1zM194.7 73.3h1v7.38h-1zM196.6 73.3h1v7.38h-1zM212.6 73.3h1v7.38h-1z"/><path fill="#88a0f2" d="M59.9 73.3h1v7.38h-1zM104.8 73.3h1v7.38h-1z"/><path fill="#efbbe1" d="M83.8 73.3h1v7.38h-1z"/><path fill="#eec8f0" d="M155.7 73.3h1v7.38h-1z"/><path fill="#dfc2f0" d="M181.7 73.3h1v7.38h-1zM195.7 73.3h1v7.38h-1z"/><rect x="0" y="80.65" width="223.60" height="7.38" fill="#f28bad"/><path fill="#f193b5" d="M2 80.7h2v7.38h-2zM6 80.7h1v7.38h-1zM12 80.7h1v7.38h-1zM15 80.7h3v7.38h-3zM20 80.7h1v7.38h-1zM23 80.7h1v7.38h-1zM27.9 80.7h2v7.38h-2zM36.9 80.7h1v7.38h-1zM45.9 80.7h1v7.38h-1zM47.9 80.7h1v7.38h-1zM50.9 80.7h1v7.38h-1zM52.9 80.7h1v7.38h-1zM54.9 80.7h1v7.38h-1zM58.9 80.7h2v7.38h-2zM61.9 80.7h2v7.38h-2zM68.9 80.7h3v7.38h-3zM72.9 80.7h1v7.38h-1zM78.9 80.7h1v7.38h-1zM82.9 80.7h1v7.38h-1zM84.8 80.7h1v7.38h-1zM86.8 80.7h1v7.38h-1zM91.8 80.7h1v7.38h-1zM93.8 80.7h1v7.38h-1zM95.8 80.7h1v7.38h-1zM99.8 80.7h1v7.38h-1zM102.8 80.7h3v7.38h-3zM109.8 80.7h2v7.38h-2zM112.8 80.7h2v7.38h-2zM125.8 80.7h1v7.38h-1zM127.8 80.7h1v7.38h-1zM131.8 80.7h1v7.38h-1zM133.8 80.7h1v7.38h-1zM136.8 80.7h3v7.38h-3zM140.7 80.7h4v7.38h-4zM147.7 80.7h2v7.38h-2zM150.7 80.7h2v7.38h-2zM153.7 80.7h1v7.38h-1zM157.7 80.7h1v7.38h-1zM161.7 80.7h1v7.38h-1zM164.7 80.7h1v7.38h-1zM167.7 80.7h1v7.38h-1zM169.7 80.7h3v7.38h-3zM175.7 80.7h4v7.38h-4zM182.7 80.7h1v7.38h-1zM184.7 80.7h1v7.38h-1zM188.7 80.7h2v7.38h-2zM191.7 80.7h1v7.38h-1zM203.6 80.7h2v7.38h-2zM208.6 80.7h4v7.38h-4zM215.6 80.7h2v7.38h-2zM218.6 80.7h1v7.38h-1zM220.6 80.7h2v7.38h-2z"/><path fill="#f37898" d="M8 80.7h1v7.38h-1zM48.9 80.7h1v7.38h-1zM55.9 80.7h1v7.38h-1zM57.9 80.7h1v7.38h-1zM64.9 80.7h1v7.38h-1zM66.9 80.7h2v7.38h-2zM83.8 80.7h1v7.38h-1zM96.8 80.7h1v7.38h-1zM108.8 80.7h1v7.38h-1zM118.8 80.7h1v7.38h-1zM123.8 80.7h1v7.38h-1zM130.8 80.7h1v7.38h-1zM146.7 80.7h1v7.38h-1zM149.7 80.7h1v7.38h-1zM156.7 80.7h1v7.38h-1zM163.7 80.7h1v7.38h-1zM181.7 80.7h1v7.38h-1zM183.7 80.7h1v7.38h-1zM187.7 80.7h1v7.38h-1zM192.7 80.7h1v7.38h-1zM195.7 80.7h2v7.38h-2zM201.6 80.7h1v7.38h-1zM214.6 80.7h1v7.38h-1z"/><path fill="#f0a0c4" d="M18 80.7h1v7.38h-1zM31.9 80.7h1v7.38h-1zM33.9 80.7h1v7.38h-1zM37.9 80.7h1v7.38h-1zM73.9 80.7h1v7.38h-1zM90.8 80.7h1v7.38h-1zM98.8 80.7h1v7.38h-1zM117.8 80.7h1v7.38h-1zM119.8 80.7h1v7.38h-1zM152.7 80.7h1v7.38h-1zM159.7 80.7h1v7.38h-1zM173.7 80.7h1v7.38h-1zM198.6 80.7h1v7.38h-1z"/><path fill="#f46b89" d="M43.9 80.7h1v7.38h-1zM51.9 80.7h1v7.38h-1z"/><rect x="0" y="87.98" width="223.60" height="7.38" fill="#9da8f2"/><path fill="#b4b1f1" d="M0 88.0h1v7.38h-1zM8 88.0h1v7.38h-1zM18 88.0h1v7.38h-1zM38.9 88.0h2v7.38h-2zM43.9 88.0h2v7.38h-2zM48.9 88.0h1v7.38h-1zM57.9 88.0h1v7.38h-1zM64.9 88.0h1v7.38h-1zM67.9 88.0h1v7.38h-1zM71.9 88.0h1v7.38h-1zM107.8 88.0h1v7.38h-1zM144.7 88.0h1v7.38h-1zM146.7 88.0h1v7.38h-1zM156.7 88.0h1v7.38h-1zM166.7 88.0h1v7.38h-1zM168.7 88.0h1v7.38h-1zM177.7 88.0h1v7.38h-1zM179.7 88.0h1v7.38h-1zM181.7 88.0h2v7.38h-2zM184.7 88.0h1v7.38h-1zM193.7 88.0h1v7.38h-1zM195.7 88.0h1v7.38h-1zM199.6 88.0h1v7.38h-1zM202.6 88.0h1v7.38h-1zM211.6 88.0h1v7.38h-1z"/><path fill="#88a0f2" d="M3 88.0h1v7.38h-1zM14 88.0h1v7.38h-1zM17 88.0h1v7.38h-1zM31.9 88.0h2v7.38h-2zM34.9 88.0h1v7.38h-1zM40.9 88.0h1v7.38h-1zM47.9 88.0h1v7.38h-1zM49.9 88.0h1v7.38h-1zM60.9 88.0h1v7.38h-1zM62.9 88.0h2v7.38h-2zM76.9 88.0h1v7.38h-1zM79.9 88.0h1v7.38h-1zM89.8 88.0h1v7.38h-1zM94.8 88.0h1v7.38h-1zM98.8 88.0h1v7.38h-1zM100.8 88.0h1v7.38h-1zM102.8 88.0h1v7.38h-1zM108.8 88.0h1v7.38h-1zM116.8 88.0h1v7.38h-1zM124.8 88.0h1v7.38h-1zM138.8 88.0h1v7.38h-1zM140.7 88.0h2v7.38h-2zM148.7 88.0h1v7.38h-1zM150.7 88.0h1v7.38h-1zM152.7 88.0h1v7.38h-1zM159.7 88.0h1v7.38h-1zM163.7 88.0h3v7.38h-3zM174.7 88.0h1v7.38h-1zM189.7 88.0h1v7.38h-1zM203.6 88.0h2v7.38h-2zM210.6 88.0h1v7.38h-1zM214.6 88.0h1v7.38h-1zM217.6 88.0h1v7.38h-1zM219.6 88.0h1v7.38h-1z"/><path fill="#6b95f3" d="M6 88.0h1v7.38h-1z"/><path fill="#a5acf2" d="M12 88.0h1v7.38h-1zM16 88.0h1v7.38h-1zM20 88.0h1v7.38h-1zM25 88.0h1v7.38h-1zM27 88.0h1v7.38h-1zM37.9 88.0h1v7.38h-1zM42.9 88.0h1v7.38h-1zM45.9 88.0h1v7.38h-1zM50.9 88.0h4v7.38h-4zM56.9 88.0h1v7.38h-1zM65.9 88.0h2v7.38h-2zM69.9 88.0h1v7.38h-1zM77.9 88.0h2v7.38h-2zM80.9 88.0h1v7.38h-1zM82.9 88.0h2v7.38h-2zM85.8 88.0h2v7.38h-2zM88.8 88.0h1v7.38h-1zM91.8 88.0h3v7.38h-3zM96.8 88.0h2v7.38h-2zM103.8 88.0h1v7.38h-1zM106.8 88.0h1v7.38h-1zM109.8 88.0h2v7.38h-2zM114.8 88.0h2v7.38h-2zM117.8 88.0h2v7.38h-2zM120.8 88.0h1v7.38h-1zM122.8 88.0h2v7.38h-2zM126.8 88.0h1v7.38h-1zM129.8 88.0h2v7.38h-2zM132.8 88.0h4v7.38h-4zM137.8 88.0h1v7.38h-1zM142.7 88.0h1v7.38h-1zM147.7 88.0h1v7.38h-1zM154.7 88.0h1v7.38h-1zM160.7 88.0h1v7.38h-1zM162.7 88.0h1v7.38h-1zM169.7 88.0h1v7.38h-1zM175.7 88.0h1v7.38h-1zM183.7 88.0h1v7.38h-1zM188.7 88.0h1v7.38h-1zM191.7 88.0h2v7.38h-2zM197.6 88.0h1v7.38h-1zM200.6 88.0h1v7.38h-1zM208.6 88.0h1v7.38h-1zM212.6 88.0h1v7.38h-1zM216.6 88.0h1v7.38h-1zM218.6 88.0h1v7.38h-1zM220.6 88.0h1v7.38h-1z"/><path fill="#c2b7f1" d="M24 88.0h1v7.38h-1zM36.9 88.0h1v7.38h-1zM54.9 88.0h1v7.38h-1zM145.7 88.0h1v7.38h-1zM207.6 88.0h1v7.38h-1zM222.6 88.0h1v7.38h-1z"/><path fill="#7a9bf3" d="M46.9 88.0h1v7.38h-1zM70.9 88.0h1v7.38h-1zM72.9 88.0h2v7.38h-2zM127.8 88.0h1v7.38h-1zM151.7 88.0h1v7.38h-1z"/><rect x="0" y="95.32" width="223.60" height="7.38" fill="#4e8af4"/><path fill="#4084f4" d="M1 95.3h1v7.38h-1zM15 95.3h3v7.38h-3zM20 95.3h2v7.38h-2zM23 95.3h3v7.38h-3zM31.9 95.3h1v7.38h-1zM34.9 95.3h2v7.38h-2zM39.9 95.3h2v7.38h-2zM45.9 95.3h2v7.38h-2zM56.9 95.3h1v7.38h-1zM58.9 95.3h5v7.38h-5zM66.9 95.3h1v7.38h-1zM70.9 95.3h2v7.38h-2zM73.9 95.3h1v7.38h-1zM75.9 95.3h2v7.38h-2zM84.8 95.3h1v7.38h-1zM87.8 95.3h1v7.38h-1zM89.8 95.3h1v7.38h-1zM97.8 95.3h5v7.38h-5zM103.8 95.3h1v7.38h-1zM105.8 95.3h1v7.38h-1zM107.8 95.3h2v7.38h-2zM110.8 95.3h1v7.38h-1zM117.8 95.3h1v7.38h-1zM120.8 95.3h1v7.38h-1zM133.8 95.3h1v7.38h-1zM136.8 95.3h1v7.38h-1zM150.7 95.3h1v7.38h-1zM157.7 95.3h1v7.38h-1zM161.7 95.3h3v7.38h-3zM174.7 95.3h2v7.38h-2zM183.7 95.3h1v7.38h-1zM191.7 95.3h1v7.38h-1zM194.7 95.3h1v7.38h-1zM205.6 95.3h2v7.38h-2zM208.6 95.3h3v7.38h-3zM213.6 95.3h1v7.38h-1zM218.6 95.3h1v7.38h-1z"/><path fill="#6b95f3" d="M2 95.3h1v7.38h-1zM130.8 95.3h2v7.38h-2zM145.7 95.3h1v7.38h-1zM179.7 95.3h1v7.38h-1zM197.6 95.3h1v7.38h-1zM199.6 95.3h1v7.38h-1z"/><path fill="#5d8ff3" d="M5 95.3h2v7.38h-2zM8 95.3h3v7.38h-3zM14 95.3h1v7.38h-1zM19 95.3h1v7.38h-1zM27.9 95.3h1v7.38h-1zM29.9 95.3h2v7.38h-2zM38.9 95.3h1v7.38h-1zM42.9 95.3h1v7.38h-1zM47.9 95.3h1v7.38h-1zM51.9 95.3h1v7.38h-1zM64.9 95.3h1v7.38h-1zM67.9 95.3h2v7.38h-2zM83.8 95.3h1v7.38h-1zM86.8 95.3h1v7.38h-1zM92.8 95.3h1v7.38h-1zM115.8 95.3h1v7.38h-1zM118.8 95.3h1v7.38h-1zM121.8 95.3h1v7.38h-1zM124.8 95.3h1v7.38h-1zM128.8 95.3h1v7.38h-1zM135.8 95.3h1v7.38h-1zM140.7 95.3h2v7.38h-2zM144.7 95.3h1v7.38h-1zM146.7 95.3h1v7.38h-1zM154.7 95.3h1v7.38h-1zM160.7 95.3h1v7.38h-1zM164.7 95.3h2v7.38h-2zM169.7 95.3h1v7.38h-1zM176.7 95.3h1v7.38h-1zM178.7 95.3h1v7.38h-1zM181.7 95.3h1v7.38h-1zM184.7 95.3h1v7.38h-1zM186.7 95.3h1v7.38h-1zM188.7 95.3h1v7.38h-1zM190.7 95.3h1v7.38h-1zM193.7 95.3h1v7.38h-1zM196.6 95.3h1v7.38h-1zM202.6 95.3h2v7.38h-2zM215.6 95.3h1v7.38h-1zM219.6 95.3h1v7.38h-1zM221.6 95.3h2v7.38h-2z"/><path fill="#317ef4" d="M102.8 95.3h1v7.38h-1zM123.8 95.3h1v7.38h-1zM155.7 95.3h1v7.38h-1zM159.7 95.3h1v7.38h-1z"/><rect x="0" y="102.65" width="223.60" height="7.38" fill="#7a9bf3"/><path fill="#4e8af4" d="M1 102.6h1v7.38h-1zM4 102.6h1v7.38h-1zM14 102.6h1v7.38h-1zM41.9 102.6h1v7.38h-1zM56.9 102.6h1v7.38h-1zM60.9 102.6h2v7.38h-2zM81.9 102.6h1v7.38h-1zM103.8 102.6h1v7.38h-1zM110.8 102.6h1v7.38h-1zM129.8 102.6h1v7.38h-1zM135.8 102.6h1v7.38h-1zM138.8 102.6h3v7.38h-3zM148.7 102.6h1v7.38h-1zM150.7 102.6h1v7.38h-1zM173.7 102.6h1v7.38h-1zM210.6 102.6h1v7.38h-1zM220.6 102.6h1v7.38h-1z"/><path fill="#88a0f2" d="M2 102.6h1v7.38h-1zM5 102.6h1v7.38h-1zM17 102.6h1v7.38h-1zM25 102.6h1v7.38h-1zM36.9 102.6h1v7.38h-1zM38.9 102.6h1v7.38h-1zM40.9 102.6h1v7.38h-1zM43.9 102.6h1v7.38h-1zM46.9 102.6h1v7.38h-1zM52.9 102.6h1v7.38h-1zM86.8 102.6h1v7.38h-1zM93.8 102.6h1v7.38h-1zM98.8 102.6h1v7.38h-1zM117.8 102.6h1v7.38h-1zM122.8 102.6h2v7.38h-2zM131.8 102.6h1v7.38h-1zM133.8 102.6h2v7.38h-2zM136.8 102.6h1v7.38h-1zM147.7 102.6h1v7.38h-1zM155.7 102.6h1v7.38h-1zM161.7 102.6h1v7.38h-1zM163.7 102.6h1v7.38h-1zM177.7 102.6h1v7.38h-1zM181.7 102.6h2v7.38h-2zM187.7 102.6h2v7.38h-2zM191.7 102.6h1v7.38h-1zM194.7 102.6h1v7.38h-1zM202.6 102.6h1v7.38h-1zM204.6 102.6h1v7.38h-1zM207.6 102.6h1v7.38h-1zM209.6 102.6h1v7.38h-1zM216.6 102.6h1v7.38h-1zM221.6 102.6h2v7.38h-2z"/><path fill="#6b95f3" d="M3 102.6h1v7.38h-1zM6 102.6h2v7.38h-2zM16 102.6h1v7.38h-1zM18 102.6h1v7.38h-1zM26 102.6h2v7.38h-2zM29.9 102.6h2v7.38h-2zM34.9 102.6h1v7.38h-1zM44.9 102.6h1v7.38h-1zM47.9 102.6h1v7.38h-1zM49.9 102.6h1v7.38h-1zM53.9 102.6h1v7.38h-1zM63.9 102.6h1v7.38h-1zM73.9 102.6h3v7.38h-3zM79.9 102.6h1v7.38h-1zM90.8 102.6h2v7.38h-2zM105.8 102.6h1v7.38h-1zM107.8 102.6h1v7.38h-1zM109.8 102.6h1v7.38h-1zM113.8 102.6h1v7.38h-1zM118.8 102.6h1v7.38h-1zM124.8 102.6h1v7.38h-1zM127.8 102.6h1v7.38h-1zM141.7 102.6h2v7.38h-2zM153.7 102.6h1v7.38h-1zM162.7 102.6h1v7.38h-1zM164.7 102.6h1v7.38h-1zM166.7 102.6h1v7.38h-1zM170.7 102.6h1v7.38h-1zM174.7 102.6h1v7.38h-1zM186.7 102.6h1v7.38h-1zM190.7 102.6h1v7.38h-1zM195.7 102.6h1v7.38h-1zM197.6 102.6h1v7.38h-1zM203.6 102.6h1v7.38h-1zM215.6 102.6h1v7.38h-1zM217.6 102.6h1v7.38h-1z"/><path fill="#5d8ff3" d="M8 102.6h2v7.38h-2zM20 102.6h1v7.38h-1zM39.9 102.6h1v7.38h-1zM55.9 102.6h1v7.38h-1zM58.9 102.6h1v7.38h-1zM62.9 102.6h1v7.38h-1zM70.9 102.6h1v7.38h-1zM72.9 102.6h1v7.38h-1zM82.9 102.6h1v7.38h-1zM84.8 102.6h1v7.38h-1zM87.8 102.6h1v7.38h-1zM112.8 102.6h1v7.38h-1zM119.8 102.6h1v7.38h-1zM126.8 102.6h1v7.38h-1zM128.8 102.6h1v7.38h-1zM130.8 102.6h1v7.38h-1zM151.7 102.6h1v7.38h-1zM192.7 102.6h1v7.38h-1zM198.6 102.6h1v7.38h-1zM205.6 102.6h2v7.38h-2zM214.6 102.6h1v7.38h-1zM218.6 102.6h1v7.38h-1z"/><path fill="#a5acf2" d="M10 102.6h2v7.38h-2zM24 102.6h1v7.38h-1zM42.9 102.6h1v7.38h-1zM64.9 102.6h1v7.38h-1zM67.9 102.6h1v7.38h-1zM71.9 102.6h1v7.38h-1zM83.8 102.6h1v7.38h-1zM99.8 102.6h2v7.38h-2zM120.8 102.6h1v7.38h-1zM143.7 102.6h1v7.38h-1zM145.7 102.6h2v7.38h-2zM156.7 102.6h1v7.38h-1zM169.7 102.6h1v7.38h-1zM172.7 102.6h1v7.38h-1zM196.6 102.6h1v7.38h-1zM199.6 102.6h1v7.38h-1z"/><path fill="#97a6f2" d="M12 102.6h1v7.38h-1zM19 102.6h1v7.38h-1zM33.9 102.6h1v7.38h-1zM35.9 102.6h1v7.38h-1zM50.9 102.6h1v7.38h-1zM66.9 102.6h1v7.38h-1zM78.9 102.6h1v7.38h-1zM80.9 102.6h1v7.38h-1zM85.8 102.6h1v7.38h-1zM106.8 102.6h1v7.38h-1zM121.8 102.6h1v7.38h-1zM125.8 102.6h1v7.38h-1zM137.8 102.6h1v7.38h-1zM159.7 102.6h1v7.38h-1zM171.7 102.6h1v7.38h-1zM180.7 102.6h1v7.38h-1zM184.7 102.6h2v7.38h-2zM193.7 102.6h1v7.38h-1zM212.6 102.6h1v7.38h-1z"/><path fill="#317ef4" d="M21 102.6h1v7.38h-1zM178.7 102.6h1v7.38h-1z"/><path fill="#4084f4" d="M23 102.6h1v7.38h-1zM59.9 102.6h1v7.38h-1zM69.9 102.6h1v7.38h-1zM89.8 102.6h1v7.38h-1zM102.8 102.6h1v7.38h-1z"/><path fill="#2379f5" d="M45.9 102.6h1v7.38h-1z"/><path fill="#d1bdf1" d="M54.9 102.6h1v7.38h-1zM111.8 102.6h1v7.38h-1zM179.7 102.6h1v7.38h-1z"/><path fill="#b4b1f1" d="M96.8 102.6h2v7.38h-2zM114.8 102.6h1v7.38h-1zM132.8 102.6h1v7.38h-1zM168.7 102.6h1v7.38h-1zM201.6 102.6h1v7.38h-1zM213.6 102.6h1v7.38h-1z"/><path fill="#c2b7f1" d="M144.7 102.6h1v7.38h-1z"/><rect x="0" y="109.98" width="223.60" height="7.38" fill="#eec0e7"/><path fill="#f0a0c4" d="M0 110.0h1v7.38h-1zM18 110.0h1v7.38h-1zM20 110.0h1v7.38h-1zM63.9 110.0h1v7.38h-1zM86.8 110.0h1v7.38h-1zM128.8 110.0h1v7.38h-1zM136.8 110.0h1v7.38h-1zM210.6 110.0h1v7.38h-1z"/><path fill="#d1bdf1" d="M1 110.0h1v7.38h-1zM5 110.0h1v7.38h-1zM47.9 110.0h1v7.38h-1zM108.8 110.0h1v7.38h-1zM157.7 110.0h1v7.38h-1zM161.7 110.0h1v7.38h-1zM208.6 110.0h1v7.38h-1z"/><path fill="#eec8f0" d="M3 110.0h1v7.38h-1zM8 110.0h2v7.38h-2zM13 110.0h1v7.38h-1zM22 110.0h1v7.38h-1zM24 110.0h1v7.38h-1zM31.9 110.0h1v7.38h-1zM36.9 110.0h1v7.38h-1zM40.9 110.0h4v7.38h-4zM45.9 110.0h1v7.38h-1zM50.9 110.0h2v7.38h-2zM59.9 110.0h1v7.38h-1zM65.9 110.0h1v7.38h-1zM69.9 110.0h1v7.38h-1zM73.9 110.0h1v7.38h-1zM77.9 110.0h1v7.38h-1zM79.9 110.0h1v7.38h-1zM87.8 110.0h1v7.38h-1zM95.8 110.0h1v7.38h-1zM99.8 110.0h3v7.38h-3zM104.8 110.0h4v7.38h-4zM110.8 110.0h1v7.38h-1zM116.8 110.0h2v7.38h-2zM120.8 110.0h1v7.38h-1zM124.8 110.0h2v7.38h-2zM137.8 110.0h1v7.38h-1zM139.8 110.0h1v7.38h-1zM141.7 110.0h1v7.38h-1zM147.7 110.0h1v7.38h-1zM150.7 110.0h1v7.38h-1zM160.7 110.0h1v7.38h-1zM162.7 110.0h2v7.38h-2zM167.7 110.0h1v7.38h-1zM178.7 110.0h2v7.38h-2zM181.7 110.0h1v7.38h-1zM183.7 110.0h1v7.38h-1zM189.7 110.0h1v7.38h-1zM191.7 110.0h1v7.38h-1zM197.6 110.0h1v7.38h-1zM202.6 110.0h1v7.38h-1zM205.6 110.0h2v7.38h-2zM214.6 110.0h1v7.38h-1zM218.6 110.0h1v7.38h-1zM220.6 110.0h3v7.38h-3z"/><path fill="#c2b7f1" d="M4 110.0h1v7.38h-1zM56.9 110.0h1v7.38h-1zM119.8 110.0h1v7.38h-1zM127.8 110.0h1v7.38h-1zM215.6 110.0h1v7.38h-1z"/><path fill="#dfc2f0" d="M7 110.0h1v7.38h-1zM14 110.0h3v7.38h-3zM21 110.0h1v7.38h-1zM27 110.0h3v7.38h-3zM46.9 110.0h1v7.38h-1zM52.9 110.0h1v7.38h-1zM61.9 110.0h1v7.38h-1zM70.9 110.0h3v7.38h-3zM76.9 110.0h1v7.38h-1zM89.8 110.0h1v7.38h-1zM98.8 110.0h1v7.38h-1zM102.8 110.0h1v7.38h-1zM109.8 110.0h1v7.38h-1zM112.8 110.0h1v7.38h-1zM121.8 110.0h1v7.38h-1zM123.8 110.0h1v7.38h-1zM135.8 110.0h1v7.38h-1zM140.7 110.0h1v7.38h-1zM169.7 110.0h1v7.38h-1zM171.7 110.0h1v7.38h-1zM173.7 110.0h1v7.38h-1zM176.7 110.0h1v7.38h-1zM182.7 110.0h1v7.38h-1zM200.6 110.0h1v7.38h-1zM207.6 110.0h1v7.38h-1zM209.6 110.0h1v7.38h-1zM212.6 110.0h1v7.38h-1z"/><path fill="#f0add3" d="M11 110.0h1v7.38h-1zM19 110.0h1v7.38h-1zM30.9 110.0h1v7.38h-1zM38.9 110.0h2v7.38h-2zM48.9 110.0h2v7.38h-2zM54.9 110.0h1v7.38h-1zM80.9 110.0h1v7.38h-1zM83.8 110.0h2v7.38h-2zM93.8 110.0h1v7.38h-1zM97.8 110.0h1v7.38h-1zM111.8 110.0h1v7.38h-1zM115.8 110.0h1v7.38h-1zM118.8 110.0h1v7.38h-1zM122.8 110.0h1v7.38h-1zM129.8 110.0h1v7.38h-1zM132.8 110.0h1v7.38h-1zM138.8 110.0h1v7.38h-1zM142.7 110.0h1v7.38h-1zM144.7 110.0h2v7.38h-2zM156.7 110.0h1v7.38h-1zM158.7 110.0h1v7.38h-1zM166.7 110.0h1v7.38h-1zM175.7 110.0h1v7.38h-1zM185.7 110.0h2v7.38h-2zM190.7 110.0h1v7.38h-1zM192.7 110.0h1v7.38h-1zM195.7 110.0h1v7.38h-1zM198.6 110.0h1v7.38h-1zM201.6 110.0h1v7.38h-1zM213.6 110.0h1v7.38h-1zM216.6 110.0h1v7.38h-1zM219.6 110.0h1v7.38h-1z"/><path fill="#f193b5" d="M64.9 110.0h1v7.38h-1zM146.7 110.0h1v7.38h-1z"/><rect x="0" y="117.31" width="223.60" height="7.38" fill="#9da8f2"/><path fill="#b4b1f1" d="M0 117.3h1v7.38h-1zM11 117.3h1v7.38h-1zM17 117.3h1v7.38h-1zM39.9 117.3h1v7.38h-1zM48.9 117.3h1v7.38h-1zM50.9 117.3h1v7.38h-1zM63.9 117.3h2v7.38h-2zM96.8 117.3h1v7.38h-1zM106.8 117.3h1v7.38h-1zM111.8 117.3h1v7.38h-1zM114.8 117.3h1v7.38h-1zM129.8 117.3h2v7.38h-2zM132.8 117.3h1v7.38h-1zM144.7 117.3h2v7.38h-2zM162.7 117.3h1v7.38h-1zM166.7 117.3h1v7.38h-1zM180.7 117.3h1v7.38h-1zM185.7 117.3h2v7.38h-2zM193.7 117.3h1v7.38h-1zM196.6 117.3h1v7.38h-1zM216.6 117.3h1v7.38h-1zM222.6 117.3h1v7.38h-1z"/><path fill="#88a0f2" d="M1 117.3h1v7.38h-1zM3 117.3h1v7.38h-1zM10 117.3h1v7.38h-1zM16 117.3h1v7.38h-1zM20 117.3h1v7.38h-1zM30.9 117.3h2v7.38h-2zM35.9 117.3h1v7.38h-1zM42.9 117.3h1v7.38h-1zM46.9 117.3h1v7.38h-1zM52.9 117.3h1v7.38h-1zM56.9 117.3h1v7.38h-1zM74.9 117.3h1v7.38h-1zM76.9 117.3h1v7.38h-1zM82.9 117.3h1v7.38h-1zM84.8 117.3h1v7.38h-1zM87.8 117.3h1v7.38h-1zM99.8 117.3h2v7.38h-2zM105.8 117.3h1v7.38h-1zM109.8 117.3h1v7.38h-1zM115.8 117.3h1v7.38h-1zM120.8 117.3h1v7.38h-1zM127.8 117.3h1v7.38h-1zM134.8 117.3h1v7.38h-1zM138.8 117.3h1v7.38h-1zM142.7 117.3h1v7.38h-1zM150.7 117.3h1v7.38h-1zM152.7 117.3h1v7.38h-1zM189.7 117.3h1v7.38h-1zM194.7 117.3h1v7.38h-1zM204.6 117.3h1v7.38h-1zM207.6 117.3h4v7.38h-4zM215.6 117.3h1v7.38h-1zM220.6 117.3h1v7.38h-1z"/><path fill="#7a9bf3" d="M4 117.3h1v7.38h-1zM6 117.3h1v7.38h-1zM18 117.3h1v7.38h-1zM23 117.3h1v7.38h-1zM61.9 117.3h1v7.38h-1zM89.8 117.3h1v7.38h-1zM110.8 117.3h1v7.38h-1zM116.8 117.3h1v7.38h-1zM151.7 117.3h1v7.38h-1zM165.7 117.3h1v7.38h-1zM205.6 117.3h1v7.38h-1z"/><path fill="#a5acf2" d="M5 117.3h1v7.38h-1zM7 117.3h1v7.38h-1zM9 117.3h1v7.38h-1zM12 117.3h1v7.38h-1zM14 117.3h1v7.38h-1zM26 117.3h2v7.38h-2zM33.9 117.3h1v7.38h-1zM36.9 117.3h1v7.38h-1zM38.9 117.3h1v7.38h-1zM40.9 117.3h1v7.38h-1zM51.9 117.3h1v7.38h-1zM55.9 117.3h1v7.38h-1zM57.9 117.3h2v7.38h-2zM60.9 117.3h1v7.38h-1zM62.9 117.3h1v7.38h-1zM66.9 117.3h2v7.38h-2zM75.9 117.3h1v7.38h-1zM77.9 117.3h2v7.38h-2zM81.9 117.3h1v7.38h-1zM88.8 117.3h1v7.38h-1zM91.8 117.3h3v7.38h-3zM97.8 117.3h1v7.38h-1zM103.8 117.3h1v7.38h-1zM107.8 117.3h1v7.38h-1zM112.8 117.3h1v7.38h-1zM119.8 117.3h1v7.38h-1zM122.8 117.3h1v7.38h-1zM125.8 117.3h2v7.38h-2zM128.8 117.3h1v7.38h-1zM136.8 117.3h2v7.38h-2zM146.7 117.3h1v7.38h-1zM149.7 117.3h1v7.38h-1zM153.7 117.3h2v7.38h-2zM157.7 117.3h1v7.38h-1zM159.7 117.3h1v7.38h-1zM164.7 117.3h1v7.38h-1zM167.7 117.3h1v7.38h-1zM169.7 117.3h4v7.38h-4zM179.7 117.3h1v7.38h-1zM181.7 117.3h2v7.38h-2zM184.7 117.3h1v7.38h-1zM187.7 117.3h2v7.38h-2zM192.7 117.3h1v7.38h-1zM195.7 117.3h1v7.38h-1zM197.6 117.3h1v7.38h-1zM199.6 117.3h1v7.38h-1zM217.6 117.3h3v7.38h-3zM221.6 117.3h1v7.38h-1z"/><path fill="#d1bdf1" d="M71.9 117.3h1v7.38h-1z"/><path fill="#6b95f3" d="M98.8 117.3h1v7.38h-1z"/><path fill="#c2b7f1" d="M156.7 117.3h1v7.38h-1zM212.6 117.3h1v7.38h-1z"/><rect x="0" y="124.64" width="223.60" height="7.38" fill="#abaef2"/><path fill="#b4b1f1" d="M0 124.6h1v7.38h-1zM2 124.6h2v7.38h-2zM12 124.6h3v7.38h-3zM19 124.6h1v7.38h-1zM29.9 124.6h1v7.38h-1zM31.9 124.6h1v7.38h-1zM36.9 124.6h2v7.38h-2zM42.9 124.6h4v7.38h-4zM48.9 124.6h1v7.38h-1zM50.9 124.6h1v7.38h-1zM59.9 124.6h1v7.38h-1zM64.9 124.6h3v7.38h-3zM71.9 124.6h1v7.38h-1zM74.9 124.6h2v7.38h-2zM78.9 124.6h1v7.38h-1zM80.9 124.6h4v7.38h-4zM90.8 124.6h1v7.38h-1zM92.8 124.6h2v7.38h-2zM105.8 124.6h4v7.38h-4zM112.8 124.6h5v7.38h-5zM120.8 124.6h1v7.38h-1zM122.8 124.6h1v7.38h-1zM125.8 124.6h1v7.38h-1zM128.8 124.6h1v7.38h-1zM130.8 124.6h6v7.38h-6zM142.7 124.6h1v7.38h-1zM145.7 124.6h1v7.38h-1zM147.7 124.6h1v7.38h-1zM156.7 124.6h3v7.38h-3zM163.7 124.6h3v7.38h-3zM172.7 124.6h1v7.38h-1zM174.7 124.6h1v7.38h-1zM177.7 124.6h1v7.38h-1zM179.7 124.6h1v7.38h-1zM181.7 124.6h1v7.38h-1zM183.7 124.6h1v7.38h-1zM189.7 124.6h2v7.38h-2zM192.7 124.6h2v7.38h-2zM195.7 124.6h1v7.38h-1zM197.6 124.6h1v7.38h-1zM199.6 124.6h1v7.38h-1zM201.6 124.6h1v7.38h-1zM207.6 124.6h1v7.38h-1zM210.6 124.6h1v7.38h-1zM212.6 124.6h1v7.38h-1zM216.6 124.6h1v7.38h-1zM221.6 124.6h2v7.38h-2z"/><path fill="#97a6f2" d="M1 124.6h1v7.38h-1zM4 124.6h1v7.38h-1zM6 124.6h1v7.38h-1zM10 124.6h1v7.38h-1zM21 124.6h2v7.38h-2zM25 124.6h1v7.38h-1zM35.9 124.6h1v7.38h-1zM49.9 124.6h1v7.38h-1zM54.9 124.6h1v7.38h-1zM58.9 124.6h1v7.38h-1zM60.9 124.6h1v7.38h-1zM62.9 124.6h1v7.38h-1zM69.9 124.6h2v7.38h-2zM73.9 124.6h1v7.38h-1zM84.8 124.6h1v7.38h-1zM98.8 124.6h1v7.38h-1zM103.8 124.6h1v7.38h-1zM110.8 124.6h1v7.38h-1zM126.8 124.6h2v7.38h-2zM138.8 124.6h2v7.38h-2zM141.7 124.6h1v7.38h-1zM143.7 124.6h1v7.38h-1zM151.7 124.6h1v7.38h-1zM155.7 124.6h1v7.38h-1zM159.7 124.6h1v7.38h-1zM161.7 124.6h1v7.38h-1zM169.7 124.6h1v7.38h-1zM173.7 124.6h1v7.38h-1zM208.6 124.6h2v7.38h-2zM215.6 124.6h1v7.38h-1z"/><path fill="#c2b7f1" d="M11 124.6h1v7.38h-1zM38.9 124.6h1v7.38h-1zM67.9 124.6h1v7.38h-1zM96.8 124.6h1v7.38h-1zM144.7 124.6h1v7.38h-1zM146.7 124.6h1v7.38h-1zM154.7 124.6h1v7.38h-1zM160.7 124.6h1v7.38h-1zM167.7 124.6h2v7.38h-2zM182.7 124.6h1v7.38h-1zM184.7 124.6h2v7.38h-2zM187.7 124.6h2v7.38h-2zM202.6 124.6h1v7.38h-1z"/><path fill="#88a0f2" d="M16 124.6h1v7.38h-1zM23 124.6h1v7.38h-1zM33.9 124.6h1v7.38h-1zM56.9 124.6h1v7.38h-1zM72.9 124.6h1v7.38h-1zM102.8 124.6h1v7.38h-1zM104.8 124.6h1v7.38h-1zM118.8 124.6h1v7.38h-1zM218.6 124.6h1v7.38h-1z"/><path fill="#d1bdf1" d="M166.7 124.6h1v7.38h-1zM196.6 124.6h1v7.38h-1z"/><rect x="0" y="131.98" width="223.60" height="7.38" fill="#4887f4"/><path fill="#5d8ff3" d="M0 132.0h1v7.38h-1zM9 132.0h1v7.38h-1zM14 132.0h1v7.38h-1zM39.9 132.0h2v7.38h-2zM42.9 132.0h2v7.38h-2zM48.9 132.0h1v7.38h-1zM50.9 132.0h2v7.38h-2zM64.9 132.0h1v7.38h-1zM67.9 132.0h1v7.38h-1zM78.9 132.0h1v7.38h-1zM83.8 132.0h1v7.38h-1zM85.8 132.0h1v7.38h-1zM92.8 132.0h1v7.38h-1zM96.8 132.0h1v7.38h-1zM99.8 132.0h1v7.38h-1zM111.8 132.0h1v7.38h-1zM115.8 132.0h1v7.38h-1zM130.8 132.0h1v7.38h-1zM144.7 132.0h1v7.38h-1zM146.7 132.0h1v7.38h-1zM154.7 132.0h1v7.38h-1zM156.7 132.0h1v7.38h-1zM160.7 132.0h1v7.38h-1zM164.7 132.0h1v7.38h-1zM167.7 132.0h3v7.38h-3zM181.7 132.0h2v7.38h-2zM193.7 132.0h1v7.38h-1zM212.6 132.0h1v7.38h-1zM216.6 132.0h1v7.38h-1z"/><path fill="#2379f5" d="M1 132.0h1v7.38h-1z"/><path fill="#4084f4" d="M2 132.0h1v7.38h-1zM5 132.0h1v7.38h-1zM16 132.0h1v7.38h-1zM19 132.0h1v7.38h-1zM26 132.0h2v7.38h-2zM28.9 132.0h2v7.38h-2zM31.9 132.0h1v7.38h-1zM34.9 132.0h3v7.38h-3zM38.9 132.0h1v7.38h-1zM44.9 132.0h2v7.38h-2zM49.9 132.0h1v7.38h-1zM52.9 132.0h1v7.38h-1zM56.9 132.0h1v7.38h-1zM60.9 132.0h1v7.38h-1zM62.9 132.0h2v7.38h-2zM66.9 132.0h1v7.38h-1zM70.9 132.0h2v7.38h-2zM74.9 132.0h2v7.38h-2zM79.9 132.0h2v7.38h-2zM87.8 132.0h3v7.38h-3zM94.8 132.0h2v7.38h-2zM98.8 132.0h1v7.38h-1zM106.8 132.0h1v7.38h-1zM110.8 132.0h1v7.38h-1zM113.8 132.0h1v7.38h-1zM118.8 132.0h1v7.38h-1zM120.8 132.0h1v7.38h-1zM122.8 132.0h2v7.38h-2zM137.8 132.0h2v7.38h-2zM140.7 132.0h3v7.38h-3zM148.7 132.0h2v7.38h-2zM151.7 132.0h1v7.38h-1zM157.7 132.0h1v7.38h-1zM162.7 132.0h1v7.38h-1zM166.7 132.0h1v7.38h-1zM170.7 132.0h1v7.38h-1zM177.7 132.0h2v7.38h-2zM183.7 132.0h1v7.38h-1zM188.7 132.0h2v7.38h-2zM191.7 132.0h2v7.38h-2zM194.7 132.0h1v7.38h-1zM200.6 132.0h2v7.38h-2zM203.6 132.0h1v7.38h-1zM207.6 132.0h2v7.38h-2zM210.6 132.0h1v7.38h-1zM213.6 132.0h3v7.38h-3zM217.6 132.0h1v7.38h-1zM219.6 132.0h4v7.38h-4z"/><path fill="#317ef4" d="M15 132.0h1v7.38h-1zM18 132.0h1v7.38h-1zM21 132.0h2v7.38h-2zM27.9 132.0h1v7.38h-1zM54.9 132.0h1v7.38h-1zM69.9 132.0h1v7.38h-1zM72.9 132.0h2v7.38h-2zM84.8 132.0h1v7.38h-1zM103.8 132.0h1v7.38h-1zM109.8 132.0h1v7.38h-1zM119.8 132.0h1v7.38h-1zM127.8 132.0h1v7.38h-1zM150.7 132.0h1v7.38h-1zM152.7 132.0h1v7.38h-1zM155.7 132.0h1v7.38h-1zM161.7 132.0h1v7.38h-1zM176.7 132.0h1v7.38h-1zM197.6 132.0h1v7.38h-1zM205.6 132.0h1v7.38h-1zM218.6 132.0h1v7.38h-1z"/><path fill="#6b95f3" d="M190.7 132.0h1v7.38h-1zM199.6 132.0h1v7.38h-1z"/><rect x="0" y="139.31" width="223.60" height="7.38" fill="#eec5ed"/><path fill="#efbbe1" d="M0 139.3h1v7.38h-1zM2 139.3h1v7.38h-1zM10 139.3h1v7.38h-1zM13 139.3h1v7.38h-1zM17 139.3h1v7.38h-1zM19 139.3h1v7.38h-1zM35.9 139.3h3v7.38h-3zM39.9 139.3h2v7.38h-2zM42.9 139.3h1v7.38h-1zM44.9 139.3h1v7.38h-1zM50.9 139.3h1v7.38h-1zM53.9 139.3h1v7.38h-1zM58.9 139.3h1v7.38h-1zM64.9 139.3h1v7.38h-1zM71.9 139.3h1v7.38h-1zM87.8 139.3h2v7.38h-2zM90.8 139.3h1v7.38h-1zM92.8 139.3h1v7.38h-1zM94.8 139.3h1v7.38h-1zM96.8 139.3h2v7.38h-2zM106.8 139.3h1v7.38h-1zM112.8 139.3h1v7.38h-1zM114.8 139.3h1v7.38h-1zM116.8 139.3h2v7.38h-2zM120.8 139.3h1v7.38h-1zM122.8 139.3h1v7.38h-1zM128.8 139.3h1v7.38h-1zM130.8 139.3h5v7.38h-5zM139.8 139.3h1v7.38h-1zM143.7 139.3h1v7.38h-1zM146.7 139.3h2v7.38h-2zM154.7 139.3h1v7.38h-1zM158.7 139.3h2v7.38h-2zM164.7 139.3h2v7.38h-2zM168.7 139.3h1v7.38h-1zM171.7 139.3h1v7.38h-1zM175.7 139.3h1v7.38h-1zM177.7 139.3h1v7.38h-1zM179.7 139.3h1v7.38h-1zM184.7 139.3h3v7.38h-3zM190.7 139.3h1v7.38h-1zM193.7 139.3h2v7.38h-2zM197.6 139.3h3v7.38h-3zM201.6 139.3h2v7.38h-2zM204.6 139.3h1v7.38h-1zM215.6 139.3h2v7.38h-2zM218.6 139.3h1v7.38h-1z"/><path fill="#d1bdf1" d="M4 139.3h1v7.38h-1zM14 139.3h1v7.38h-1zM48.9 139.3h1v7.38h-1zM56.9 139.3h1v7.38h-1zM61.9 139.3h2v7.38h-2zM70.9 139.3h1v7.38h-1zM73.9 139.3h1v7.38h-1zM76.9 139.3h1v7.38h-1zM148.7 139.3h1v7.38h-1zM151.7 139.3h1v7.38h-1zM161.7 139.3h1v7.38h-1z"/><path fill="#dfc2f0" d="M5 139.3h1v7.38h-1zM7 139.3h1v7.38h-1zM20 139.3h1v7.38h-1zM25 139.3h2v7.38h-2zM27.9 139.3h1v7.38h-1zM29.9 139.3h1v7.38h-1zM33.9 139.3h1v7.38h-1zM45.9 139.3h1v7.38h-1zM47.9 139.3h1v7.38h-1zM60.9 139.3h1v7.38h-1zM66.9 139.3h1v7.38h-1zM68.9 139.3h2v7.38h-2zM74.9 139.3h1v7.38h-1zM78.9 139.3h2v7.38h-2zM82.9 139.3h1v7.38h-1zM85.8 139.3h2v7.38h-2zM91.8 139.3h1v7.38h-1zM95.8 139.3h1v7.38h-1zM99.8 139.3h1v7.38h-1zM104.8 139.3h1v7.38h-1zM108.8 139.3h1v7.38h-1zM118.8 139.3h2v7.38h-2zM121.8 139.3h1v7.38h-1zM123.8 139.3h1v7.38h-1zM135.8 139.3h1v7.38h-1zM138.8 139.3h1v7.38h-1zM157.7 139.3h1v7.38h-1zM162.7 139.3h1v7.38h-1zM172.7 139.3h1v7.38h-1zM181.7 139.3h3v7.38h-3zM189.7 139.3h1v7.38h-1zM203.6 139.3h1v7.38h-1zM206.6 139.3h1v7.38h-1zM208.6 139.3h2v7.38h-2zM211.6 139.3h2v7.38h-2zM214.6 139.3h1v7.38h-1zM221.6 139.3h1v7.38h-1z"/><path fill="#c2b7f1" d="M6 139.3h1v7.38h-1zM205.6 139.3h1v7.38h-1z"/><path fill="#f0add3" d="M12 139.3h1v7.38h-1zM83.8 139.3h1v7.38h-1zM110.8 139.3h1v7.38h-1zM136.8 139.3h1v7.38h-1zM144.7 139.3h1v7.38h-1zM156.7 139.3h1v7.38h-1zM191.7 139.3h1v7.38h-1zM196.6 139.3h1v7.38h-1z"/><rect x="0" y="146.64" width="223.60" height="7.38" fill="#8ea3f2"/><path fill="#97a6f2" d="M0 146.6h1v7.38h-1zM8 146.6h1v7.38h-1zM12 146.6h4v7.38h-4zM19 146.6h1v7.38h-1zM22 146.6h2v7.38h-2zM25 146.6h1v7.38h-1zM28.9 146.6h3v7.38h-3zM32.9 146.6h1v7.38h-1zM34.9 146.6h1v7.38h-1zM37.9 146.6h2v7.38h-2zM47.9 146.6h3v7.38h-3zM52.9 146.6h1v7.38h-1zM55.9 146.6h2v7.38h-2zM63.9 146.6h1v7.38h-1zM65.9 146.6h2v7.38h-2zM75.9 146.6h1v7.38h-1zM77.9 146.6h1v7.38h-1zM89.8 146.6h1v7.38h-1zM93.8 146.6h2v7.38h-2zM97.8 146.6h1v7.38h-1zM99.8 146.6h1v7.38h-1zM101.8 146.6h2v7.38h-2zM105.8 146.6h3v7.38h-3zM113.8 146.6h1v7.38h-1zM117.8 146.6h1v7.38h-1zM121.8 146.6h2v7.38h-2zM124.8 146.6h2v7.38h-2zM130.8 146.6h1v7.38h-1zM133.8 146.6h1v7.38h-1zM143.7 146.6h1v7.38h-1zM145.7 146.6h1v7.38h-1zM156.7 146.6h1v7.38h-1zM158.7 146.6h1v7.38h-1zM160.7 146.6h1v7.38h-1zM164.7 146.6h1v7.38h-1zM182.7 146.6h1v7.38h-1zM188.7 146.6h1v7.38h-1zM192.7 146.6h2v7.38h-2zM195.7 146.6h1v7.38h-1zM200.6 146.6h3v7.38h-3zM204.6 146.6h3v7.38h-3z"/><path fill="#7a9bf3" d="M2 146.6h1v7.38h-1zM5 146.6h1v7.38h-1zM11 146.6h1v7.38h-1zM18 146.6h1v7.38h-1zM20 146.6h1v7.38h-1zM33.9 146.6h1v7.38h-1zM46.9 146.6h1v7.38h-1zM51.9 146.6h1v7.38h-1zM53.9 146.6h1v7.38h-1zM61.9 146.6h2v7.38h-2zM74.9 146.6h1v7.38h-1zM81.9 146.6h2v7.38h-2zM85.8 146.6h1v7.38h-1zM95.8 146.6h1v7.38h-1zM98.8 146.6h1v7.38h-1zM100.8 146.6h1v7.38h-1zM108.8 146.6h1v7.38h-1zM119.8 146.6h1v7.38h-1zM126.8 146.6h1v7.38h-1zM131.8 146.6h1v7.38h-1zM136.8 146.6h1v7.38h-1zM138.8 146.6h2v7.38h-2zM161.7 146.6h1v7.38h-1zM169.7 146.6h1v7.38h-1zM176.7 146.6h1v7.38h-1zM178.7 146.6h1v7.38h-1zM183.7 146.6h1v7.38h-1zM194.7 146.6h1v7.38h-1zM198.6 146.6h1v7.38h-1zM212.6 146.6h1v7.38h-1zM214.6 146.6h2v7.38h-2z"/><path fill="#5d8ff3" d="M7 146.6h1v7.38h-1zM59.9 146.6h1v7.38h-1zM73.9 146.6h1v7.38h-1z"/><path fill="#a5acf2" d="M10 146.6h1v7.38h-1zM42.9 146.6h1v7.38h-1zM44.9 146.6h1v7.38h-1zM50.9 146.6h1v7.38h-1zM57.9 146.6h1v7.38h-1zM60.9 146.6h1v7.38h-1zM68.9 146.6h1v7.38h-1zM71.9 146.6h1v7.38h-1zM80.9 146.6h1v7.38h-1zM84.8 146.6h1v7.38h-1zM114.8 146.6h2v7.38h-2zM128.8 146.6h2v7.38h-2zM132.8 146.6h1v7.38h-1zM147.7 146.6h1v7.38h-1zM154.7 146.6h1v7.38h-1zM163.7 146.6h1v7.38h-1zM168.7 146.6h1v7.38h-1zM170.7 146.6h1v7.38h-1zM179.7 146.6h1v7.38h-1zM181.7 146.6h1v7.38h-1zM196.6 146.6h2v7.38h-2zM207.6 146.6h1v7.38h-1zM222.6 146.6h1v7.38h-1z"/><path fill="#6b95f3" d="M16 146.6h1v7.38h-1zM21 146.6h1v7.38h-1zM45.9 146.6h1v7.38h-1zM140.7 146.6h1v7.38h-1zM153.7 146.6h1v7.38h-1zM159.7 146.6h1v7.38h-1zM167.7 146.6h1v7.38h-1zM171.7 146.6h1v7.38h-1zM174.7 146.6h1v7.38h-1zM217.6 146.6h1v7.38h-1z"/><path fill="#b4b1f1" d="M24 146.6h1v7.38h-1zM54.9 146.6h1v7.38h-1zM111.8 146.6h1v7.38h-1zM155.7 146.6h1v7.38h-1zM172.7 146.6h1v7.38h-1zM180.7 146.6h1v7.38h-1zM190.7 146.6h1v7.38h-1z"/><path fill="#c2b7f1" d="M96.8 146.6h1v7.38h-1zM134.8 146.6h1v7.38h-1zM144.7 146.6h1v7.38h-1zM186.7 146.6h1v7.38h-1z"/><rect x="0" y="153.97" width="223.60" height="7.38" fill="#8ea3f2"/><path fill="#97a6f2" d="M0 154.0h1v7.38h-1zM5 154.0h1v7.38h-1zM8 154.0h2v7.38h-2zM11 154.0h1v7.38h-1zM13 154.0h1v7.38h-1zM15 154.0h1v7.38h-1zM20 154.0h1v7.38h-1zM24 154.0h1v7.38h-1zM27 154.0h1v7.38h-1zM32.9 154.0h2v7.38h-2zM37.9 154.0h1v7.38h-1zM41.9 154.0h3v7.38h-3zM45.9 154.0h1v7.38h-1zM53.9 154.0h1v7.38h-1zM68.9 154.0h1v7.38h-1zM76.9 154.0h2v7.38h-2zM79.9 154.0h3v7.38h-3zM83.8 154.0h1v7.38h-1zM87.8 154.0h1v7.38h-1zM91.8 154.0h4v7.38h-4zM104.8 154.0h3v7.38h-3zM112.8 154.0h1v7.38h-1zM122.8 154.0h1v7.38h-1zM131.8 154.0h1v7.38h-1zM133.8 154.0h1v7.38h-1zM137.8 154.0h1v7.38h-1zM139.8 154.0h1v7.38h-1zM141.7 154.0h2v7.38h-2zM150.7 154.0h1v7.38h-1zM153.7 154.0h1v7.38h-1zM158.7 154.0h1v7.38h-1zM162.7 154.0h1v7.38h-1zM164.7 154.0h3v7.38h-3zM168.7 154.0h2v7.38h-2zM172.7 154.0h1v7.38h-1zM177.7 154.0h1v7.38h-1zM179.7 154.0h1v7.38h-1zM181.7 154.0h1v7.38h-1zM183.7 154.0h1v7.38h-1zM186.7 154.0h1v7.38h-1zM189.7 154.0h1v7.38h-1zM191.7 154.0h1v7.38h-1zM194.7 154.0h2v7.38h-2zM201.6 154.0h2v7.38h-2zM205.6 154.0h1v7.38h-1zM207.6 154.0h2v7.38h-2zM221.6 154.0h1v7.38h-1z"/><path fill="#6b95f3" d="M2 154.0h1v7.38h-1zM23 154.0h1v7.38h-1zM118.8 154.0h1v7.38h-1zM203.6 154.0h1v7.38h-1z"/><path fill="#7a9bf3" d="M3 154.0h1v7.38h-1zM6 154.0h1v7.38h-1zM14 154.0h1v7.38h-1zM16 154.0h1v7.38h-1zM19 154.0h1v7.38h-1zM22 154.0h1v7.38h-1zM27.9 154.0h1v7.38h-1zM35.9 154.0h1v7.38h-1zM46.9 154.0h1v7.38h-1zM49.9 154.0h1v7.38h-1zM56.9 154.0h1v7.38h-1zM58.9 154.0h2v7.38h-2zM61.9 154.0h1v7.38h-1zM69.9 154.0h2v7.38h-2zM72.9 154.0h1v7.38h-1zM74.9 154.0h1v7.38h-1zM78.9 154.0h1v7.38h-1zM88.8 154.0h3v7.38h-3zM98.8 154.0h1v7.38h-1zM101.8 154.0h1v7.38h-1zM109.8 154.0h1v7.38h-1zM113.8 154.0h1v7.38h-1zM116.8 154.0h1v7.38h-1zM121.8 154.0h1v7.38h-1zM126.8 154.0h2v7.38h-2zM135.8 154.0h1v7.38h-1zM140.7 154.0h1v7.38h-1zM147.7 154.0h1v7.38h-1zM154.7 154.0h2v7.38h-2zM167.7 154.0h1v7.38h-1zM175.7 154.0h2v7.38h-2zM180.7 154.0h1v7.38h-1zM190.7 154.0h1v7.38h-1zM210.6 154.0h1v7.38h-1zM214.6 154.0h1v7.38h-1z"/><path fill="#a5acf2" d="M17 154.0h1v7.38h-1zM29.9 154.0h1v7.38h-1zM34.9 154.0h1v7.38h-1zM38.9 154.0h1v7.38h-1zM48.9 154.0h1v7.38h-1zM54.9 154.0h1v7.38h-1zM64.9 154.0h1v7.38h-1zM67.9 154.0h1v7.38h-1zM71.9 154.0h1v7.38h-1zM82.9 154.0h1v7.38h-1zM86.8 154.0h1v7.38h-1zM96.8 154.0h2v7.38h-2zM100.8 154.0h1v7.38h-1zM111.8 154.0h1v7.38h-1zM129.8 154.0h1v7.38h-1zM136.8 154.0h1v7.38h-1zM144.7 154.0h3v7.38h-3zM148.7 154.0h2v7.38h-2zM156.7 154.0h1v7.38h-1zM185.7 154.0h1v7.38h-1zM187.7 154.0h2v7.38h-2zM193.7 154.0h1v7.38h-1zM198.6 154.0h1v7.38h-1zM204.6 154.0h1v7.38h-1zM211.6 154.0h1v7.38h-1zM213.6 154.0h1v7.38h-1zM218.6 154.0h2v7.38h-2zM222.6 154.0h1v7.38h-1z"/><path fill="#c2b7f1" d="M50.9 154.0h1v7.38h-1z"/><path fill="#b4b1f1" d="M128.8 154.0h1v7.38h-1zM192.7 154.0h1v7.38h-1zM196.6 154.0h1v7.38h-1z"/><rect x="0" y="161.30" width="223.60" height="7.38" fill="#a0a9f2"/><path fill="#88a0f2" d="M1 161.3h1v7.38h-1zM4 161.3h3v7.38h-3zM31.9 161.3h1v7.38h-1zM47.9 161.3h1v7.38h-1zM52.9 161.3h1v7.38h-1zM60.9 161.3h1v7.38h-1zM68.9 161.3h2v7.38h-2zM82.9 161.3h1v7.38h-1zM95.8 161.3h1v7.38h-1zM98.8 161.3h1v7.38h-1zM101.8 161.3h1v7.38h-1zM109.8 161.3h1v7.38h-1zM113.8 161.3h1v7.38h-1zM148.7 161.3h1v7.38h-1zM150.7 161.3h2v7.38h-2zM173.7 161.3h1v7.38h-1zM189.7 161.3h1v7.38h-1z"/><path fill="#97a6f2" d="M3 161.3h1v7.38h-1zM7 161.3h3v7.38h-3zM11 161.3h2v7.38h-2zM16 161.3h1v7.38h-1zM18 161.3h1v7.38h-1zM22 161.3h1v7.38h-1zM26 161.3h1v7.38h-1zM27.9 161.3h1v7.38h-1zM30.9 161.3h1v7.38h-1zM32.9 161.3h2v7.38h-2zM35.9 161.3h4v7.38h-4zM42.9 161.3h1v7.38h-1zM45.9 161.3h2v7.38h-2zM50.9 161.3h1v7.38h-1zM53.9 161.3h1v7.38h-1zM56.9 161.3h3v7.38h-3zM61.9 161.3h1v7.38h-1zM64.9 161.3h1v7.38h-1zM67.9 161.3h1v7.38h-1zM75.9 161.3h1v7.38h-1zM78.9 161.3h1v7.38h-1zM85.8 161.3h1v7.38h-1zM88.8 161.3h3v7.38h-3zM92.8 161.3h1v7.38h-1zM94.8 161.3h1v7.38h-1zM100.8 161.3h1v7.38h-1zM102.8 161.3h1v7.38h-1zM104.8 161.3h2v7.38h-2zM108.8 161.3h1v7.38h-1zM115.8 161.3h2v7.38h-2zM118.8 161.3h2v7.38h-2zM123.8 161.3h2v7.38h-2zM130.8 161.3h1v7.38h-1zM135.8 161.3h3v7.38h-3zM139.8 161.3h4v7.38h-4zM152.7 161.3h2v7.38h-2zM155.7 161.3h1v7.38h-1zM159.7 161.3h1v7.38h-1zM161.7 161.3h1v7.38h-1zM163.7 161.3h1v7.38h-1zM166.7 161.3h1v7.38h-1zM169.7 161.3h1v7.38h-1zM174.7 161.3h1v7.38h-1zM176.7 161.3h3v7.38h-3zM184.7 161.3h2v7.38h-2zM188.7 161.3h1v7.38h-1zM192.7 161.3h1v7.38h-1zM200.6 161.3h4v7.38h-4zM205.6 161.3h1v7.38h-1zM212.6 161.3h1v7.38h-1zM217.6 161.3h2v7.38h-2zM221.6 161.3h2v7.38h-2z"/><path fill="#c2b7f1" d="M14 161.3h1v7.38h-1zM83.8 161.3h1v7.38h-1zM106.8 161.3h1v7.38h-1zM211.6 161.3h1v7.38h-1zM219.6 161.3h1v7.38h-1z"/><path fill="#b4b1f1" d="M24 161.3h1v7.38h-1zM43.9 161.3h1v7.38h-1zM48.9 161.3h2v7.38h-2zM66.9 161.3h1v7.38h-1zM72.9 161.3h1v7.38h-1zM80.9 161.3h2v7.38h-2zM97.8 161.3h1v7.38h-1zM111.8 161.3h1v7.38h-1zM117.8 161.3h1v7.38h-1zM120.8 161.3h1v7.38h-1zM128.8 161.3h1v7.38h-1zM134.8 161.3h1v7.38h-1zM146.7 161.3h2v7.38h-2zM149.7 161.3h1v7.38h-1zM156.7 161.3h2v7.38h-2zM162.7 161.3h1v7.38h-1zM164.7 161.3h1v7.38h-1zM168.7 161.3h1v7.38h-1zM171.7 161.3h1v7.38h-1zM179.7 161.3h1v7.38h-1zM186.7 161.3h1v7.38h-1zM198.6 161.3h2v7.38h-2zM214.6 161.3h1v7.38h-1z"/><path fill="#7a9bf3" d="M59.9 161.3h1v7.38h-1zM62.9 161.3h1v7.38h-1zM70.9 161.3h1v7.38h-1zM73.9 161.3h1v7.38h-1z"/><rect x="0" y="168.64" width="223.60" height="7.38" fill="#548cf4"/><path fill="#5d8ff3" d="M0 168.6h1v7.38h-1zM2 168.6h1v7.38h-1zM6 168.6h1v7.38h-1zM8 168.6h2v7.38h-2zM11 168.6h2v7.38h-2zM14 168.6h2v7.38h-2zM20 168.6h2v7.38h-2zM26 168.6h1v7.38h-1zM28.9 168.6h1v7.38h-1zM30.9 168.6h1v7.38h-1zM35.9 168.6h1v7.38h-1zM37.9 168.6h2v7.38h-2zM47.9 168.6h1v7.38h-1zM49.9 168.6h3v7.38h-3zM53.9 168.6h1v7.38h-1zM55.9 168.6h1v7.38h-1zM57.9 168.6h2v7.38h-2zM63.9 168.6h2v7.38h-2zM66.9 168.6h1v7.38h-1zM70.9 168.6h2v7.38h-2zM74.9 168.6h1v7.38h-1zM77.9 168.6h3v7.38h-3zM83.8 168.6h1v7.38h-1zM89.8 168.6h1v7.38h-1zM91.8 168.6h1v7.38h-1zM94.8 168.6h1v7.38h-1zM97.8 168.6h1v7.38h-1zM99.8 168.6h3v7.38h-3zM105.8 168.6h2v7.38h-2zM108.8 168.6h1v7.38h-1zM113.8 168.6h2v7.38h-2zM116.8 168.6h3v7.38h-3zM122.8 168.6h2v7.38h-2zM128.8 168.6h2v7.38h-2zM132.8 168.6h1v7.38h-1zM134.8 168.6h1v7.38h-1zM139.8 168.6h1v7.38h-1zM142.7 168.6h1v7.38h-1zM144.7 168.6h1v7.38h-1zM146.7 168.6h2v7.38h-2zM153.7 168.6h1v7.38h-1zM155.7 168.6h1v7.38h-1zM158.7 168.6h1v7.38h-1zM160.7 168.6h1v7.38h-1zM163.7 168.6h1v7.38h-1zM165.7 168.6h5v7.38h-5zM176.7 168.6h1v7.38h-1zM180.7 168.6h1v7.38h-1zM182.7 168.6h1v7.38h-1zM185.7 168.6h1v7.38h-1zM187.7 168.6h2v7.38h-2zM193.7 168.6h1v7.38h-1zM195.7 168.6h3v7.38h-3zM200.6 168.6h1v7.38h-1zM207.6 168.6h1v7.38h-1zM210.6 168.6h1v7.38h-1zM213.6 168.6h1v7.38h-1zM216.6 168.6h1v7.38h-1zM220.6 168.6h1v7.38h-1z"/><path fill="#4084f4" d="M5 168.6h1v7.38h-1zM7 168.6h1v7.38h-1zM22 168.6h1v7.38h-1zM59.9 168.6h1v7.38h-1zM61.9 168.6h1v7.38h-1zM72.9 168.6h1v7.38h-1zM80.9 168.6h1v7.38h-1zM95.8 168.6h1v7.38h-1zM102.8 168.6h1v7.38h-1zM107.8 168.6h1v7.38h-1zM110.8 168.6h1v7.38h-1zM126.8 168.6h1v7.38h-1zM136.8 168.6h2v7.38h-2zM152.7 168.6h1v7.38h-1zM154.7 168.6h1v7.38h-1zM159.7 168.6h1v7.38h-1zM161.7 168.6h2v7.38h-2zM170.7 168.6h2v7.38h-2zM173.7 168.6h1v7.38h-1zM178.7 168.6h1v7.38h-1zM206.6 168.6h1v7.38h-1zM214.6 168.6h1v7.38h-1zM218.6 168.6h1v7.38h-1z"/><path fill="#6b95f3" d="M17 168.6h1v7.38h-1zM24 168.6h1v7.38h-1zM67.9 168.6h1v7.38h-1zM92.8 168.6h2v7.38h-2zM115.8 168.6h1v7.38h-1zM121.8 168.6h1v7.38h-1zM131.8 168.6h1v7.38h-1zM145.7 168.6h1v7.38h-1zM156.7 168.6h1v7.38h-1zM177.7 168.6h1v7.38h-1zM181.7 168.6h1v7.38h-1zM199.6 168.6h1v7.38h-1zM201.6 168.6h1v7.38h-1zM212.6 168.6h1v7.38h-1zM222.6 168.6h1v7.38h-1z"/><path fill="#317ef4" d="M45.9 168.6h1v7.38h-1z"/><rect x="0" y="175.97" width="223.60" height="7.38" fill="#88a0f2"/><path fill="#97a6f2" d="M0 176.0h1v7.38h-1zM2 176.0h1v7.38h-1zM22 176.0h1v7.38h-1zM25 176.0h1v7.38h-1zM29.9 176.0h2v7.38h-2zM36.9 176.0h1v7.38h-1zM39.9 176.0h1v7.38h-1zM42.9 176.0h2v7.38h-2zM47.9 176.0h1v7.38h-1zM51.9 176.0h1v7.38h-1zM64.9 176.0h1v7.38h-1zM75.9 176.0h1v7.38h-1zM83.8 176.0h1v7.38h-1zM96.8 176.0h2v7.38h-2zM105.8 176.0h1v7.38h-1zM107.8 176.0h1v7.38h-1zM111.8 176.0h2v7.38h-2zM114.8 176.0h2v7.38h-2zM117.8 176.0h1v7.38h-1zM121.8 176.0h2v7.38h-2zM129.8 176.0h2v7.38h-2zM145.7 176.0h3v7.38h-3zM154.7 176.0h1v7.38h-1zM156.7 176.0h1v7.38h-1zM160.7 176.0h1v7.38h-1zM165.7 176.0h1v7.38h-1zM168.7 176.0h1v7.38h-1zM170.7 176.0h1v7.38h-1zM180.7 176.0h1v7.38h-1zM182.7 176.0h1v7.38h-1zM186.7 176.0h2v7.38h-2zM191.7 176.0h1v7.38h-1zM195.7 176.0h5v7.38h-5zM201.6 176.0h1v7.38h-1zM206.6 176.0h1v7.38h-1zM213.6 176.0h1v7.38h-1zM219.6 176.0h1v7.38h-1z"/><path fill="#7a9bf3" d="M1 176.0h1v7.38h-1zM3 176.0h1v7.38h-1zM5 176.0h1v7.38h-1zM9 176.0h2v7.38h-2zM14 176.0h3v7.38h-3zM27.9 176.0h2v7.38h-2zM31.9 176.0h1v7.38h-1zM33.9 176.0h1v7.38h-1zM35.9 176.0h1v7.38h-1zM52.9 176.0h1v7.38h-1zM56.9 176.0h1v7.38h-1zM65.9 176.0h1v7.38h-1zM68.9 176.0h3v7.38h-3zM72.9 176.0h3v7.38h-3zM76.9 176.0h1v7.38h-1zM79.9 176.0h3v7.38h-3zM84.8 176.0h1v7.38h-1zM88.8 176.0h1v7.38h-1zM90.8 176.0h1v7.38h-1zM95.8 176.0h1v7.38h-1zM99.8 176.0h2v7.38h-2zM108.8 176.0h1v7.38h-1zM110.8 176.0h1v7.38h-1zM118.8 176.0h1v7.38h-1zM123.8 176.0h1v7.38h-1zM125.8 176.0h2v7.38h-2zM137.8 176.0h1v7.38h-1zM141.7 176.0h2v7.38h-2zM150.7 176.0h2v7.38h-2zM153.7 176.0h1v7.38h-1zM155.7 176.0h1v7.38h-1zM158.7 176.0h1v7.38h-1zM162.7 176.0h1v7.38h-1zM169.7 176.0h1v7.38h-1zM171.7 176.0h1v7.38h-1zM173.7 176.0h1v7.38h-1zM178.7 176.0h1v7.38h-1zM183.7 176.0h1v7.38h-1zM192.7 176.0h1v7.38h-1zM205.6 176.0h1v7.38h-1zM208.6 176.0h1v7.38h-1zM215.6 176.0h1v7.38h-1zM221.6 176.0h1v7.38h-1z"/><path fill="#b4b1f1" d="M11 176.0h1v7.38h-1z"/><path fill="#6b95f3" d="M20 176.0h1v7.38h-1zM45.9 176.0h1v7.38h-1zM59.9 176.0h1v7.38h-1zM78.9 176.0h1v7.38h-1zM82.9 176.0h1v7.38h-1zM89.8 176.0h1v7.38h-1zM98.8 176.0h1v7.38h-1zM102.8 176.0h1v7.38h-1zM109.8 176.0h1v7.38h-1zM116.8 176.0h1v7.38h-1zM127.8 176.0h1v7.38h-1zM138.8 176.0h1v7.38h-1zM157.7 176.0h1v7.38h-1zM209.6 176.0h1v7.38h-1z"/><path fill="#5d8ff3" d="M23 176.0h1v7.38h-1z"/><path fill="#a5acf2" d="M67.9 176.0h1v7.38h-1zM71.9 176.0h1v7.38h-1zM93.8 176.0h1v7.38h-1zM211.6 176.0h2v7.38h-2zM218.6 176.0h1v7.38h-1z"/><rect x="9.4" y="0" width="1" height="183.3" fill="#333"/></svg><div class="gl" style="right:502.3px;top:22.37px">CSN</div><div class="gl" style="right:502.3px;top:29.70px">NDUFA7</div><div class="gl" style="right:502.3px;top:37.03px">TIMM16</div><div class="gl" style="right:502.3px;top:44.36px">NSUN6</div><div class="gl" style="right:502.3px;top:51.69px">IP6K2</div><div class="gl" style="right:502.3px;top:59.03px">COX7C</div><div class="gl" style="right:502.3px;top:66.36px">GATA3</div><div class="gl" style="right:502.3px;top:73.69px">FAM174B</div><div class="gl" style="right:502.3px;top:81.02px">MCST2</div><div class="gl" style="right:502.3px;top:88.35px">KRTCAP3</div><div class="gl" style="right:502.3px;top:95.69px">JMJD7-PLA2G4B</div><div class="gl" style="right:502.3px;top:103.02px">ZNF692</div><div class="gl" style="right:502.3px;top:110.35px">SOLH</div><div class="gl" style="right:502.3px;top:117.68px">SSH3</div><div class="gl" style="right:502.3px;top:125.01px">C16orf13</div><div class="gl" style="right:502.3px;top:132.35px">FER1L4</div><div class="gl" style="right:502.3px;top:139.68px">NSUN5P2</div><div class="gl" style="right:502.3px;top:147.01px">IMP3</div><div class="gl" style="right:502.3px;top:154.34px">RPL4</div><div class="gl" style="right:502.3px;top:161.67px">FLJ44606</div><div class="gl" style="right:502.3px;top:169.01px">COX6B1</div><div class="gl" style="right:502.3px;top:176.34px">VSIG2</div><div class="gl" style="right:502.3px;top:183.67px">PICK1</div><div class="gl" style="right:502.3px;top:191.00px">RPL29</div><div class="gl" style="right:502.3px;top:198.33px">RPS2</div><div class="gl" style="right:251px;top:22.37px">PPFIBP2</div><div class="gl" style="right:251px;top:29.70px">ATP5G2</div><div class="gl" style="right:251px;top:37.03px">RPL14</div><div class="gl" style="right:251px;top:44.36px">FAAH</div><div class="gl" style="right:251px;top:51.69px">AP1G2</div><div class="gl" style="right:251px;top:59.03px">NDUFA1</div><div class="gl" style="right:251px;top:66.36px">COX7A2</div><div class="gl" style="right:251px;top:73.69px">UQCRH</div><div class="gl" style="right:251px;top:81.02px">KAT2A</div><div class="gl" style="right:251px;top:88.35px">CCDC72</div><div class="gl" style="right:251px;top:95.69px">PYCR2</div><div class="gl" style="right:251px;top:103.02px">COX6A1</div><div class="gl" style="right:251px;top:110.35px">RHOT2</div><div class="gl" style="right:251px;top:117.68px">NFXL1</div><div class="gl" style="right:251px;top:125.01px">RAPGEFL1</div><div class="gl" style="right:251px;top:132.35px">C10orf58</div><div class="gl" style="right:251px;top:139.68px">NADSYN1</div><div class="gl" style="right:251px;top:147.01px">TRPT1</div><div class="gl" style="right:251px;top:154.34px">ZNF296</div><div class="gl" style="right:251px;top:161.67px">C19orf53</div><div class="gl" style="right:251px;top:169.01px">DNAJA4</div><div class="gl" style="right:251px;top:176.34px">ALKBH2</div><div class="gl" style="right:251px;top:183.67px">SFXN4</div><div class="gl" style="right:251px;top:191.00px">C19orf39</div><div class="gl" style="right:251px;top:198.33px">SMPD2</div><div class="rot" id="na" style="left:61.6px;top:208.8px">Normal</div><div class="rot" id="tua" style="left:154.3px;top:209px">Tumor</div><div class="rot" id="nb" style="left:314.1px;top:208.3px">Normal</div><div class="rot" id="tub" style="left:413.5px;top:208.2px">Tumor</div><div class="lgt" style="left:92px;top:239.5px">Log2(TPM+1)</div><div class="cbar" style="left:92px;top:249.5px"></div><div style="left:121.3px;top:249.5px;width:0.8px;height:5px;background:rgba(255,255,255,.35)"></div><div style="left:150.6px;top:249.5px;width:0.8px;height:5px;background:rgba(255,255,255,.35)"></div><div class="tk" style="left:83.9px;top:258.1px">0</div><div class="tk" style="left:111.6px;top:258.1px">5</div><div class="tk" style="left:140.8px;top:258.1px">10</div><div class="tk" style="left:166.6px;top:258.1px">15</div><div class="lgt" style="left:359.8px;top:239.2px">Log2(TPM+1)</div><div class="cbar" style="left:359.8px;top:249.2px"></div><div style="left:389.1px;top:249.2px;width:0.8px;height:5px;background:rgba(255,255,255,.35)"></div><div style="left:418.4px;top:249.2px;width:0.8px;height:5px;background:rgba(255,255,255,.35)"></div><div class="tk" style="left:351.7px;top:257.8px">0</div><div class="tk" style="left:379.4px;top:257.8px">5</div><div class="tk" style="left:408.6px;top:257.8px">10</div><div class="tk" style="left:434.4px;top:257.8px">15</div><div class="plab" id="pa" style="left:134.9px;top:264.5px">(a)</div><div class="plab" id="pb" style="left:393.2px;top:267px">(b)</div><svg style="position:absolute;left:0;top:0" width="550" height="713"><line x1="69.02" y1="303.6" x2="69.02" y2="447.6" stroke="#b0b0b0" stroke-width="0.9"/><line x1="80.84" y1="303.6" x2="80.84" y2="447.6" stroke="#b0b0b0" stroke-width="0.9"/><line x1="92.66" y1="303.6" x2="92.66" y2="447.6" stroke="#b0b0b0" stroke-width="0.9"/><line x1="116.30" y1="303.6" x2="116.30" y2="447.6" stroke="#b0b0b0" stroke-width="0.9"/><line x1="175.40" y1="303.6" x2="175.40" y2="447.6" stroke="#b0b0b0" stroke-width="0.9"/><rect x="57.20" y="308.40" width="197.99" height="6.1" fill="#a33a0b" stroke="#7c7c7c" stroke-width="1.1"/><rect x="57.20" y="315.97" width="167.84" height="6.1" fill="#a33a0b" stroke="#7c7c7c" stroke-width="1.1"/><rect x="57.20" y="323.54" width="161.93" height="6.1" fill="#a33a0b" stroke="#7c7c7c" stroke-width="1.1"/><rect x="57.20" y="331.11" width="160.16" height="6.1" fill="#a33a0b" stroke="#7c7c7c" stroke-width="1.1"/><rect x="57.20" y="338.68" width="153.07" height="6.1" fill="#a33a0b" stroke="#7c7c7c" stroke-width="1.1"/><rect x="57.20" y="346.25" width="142.43" height="6.1" fill="#a33a0b" stroke="#7c7c7c" stroke-width="1.1"/><rect x="57.20" y="353.82" width="136.52" height="6.1" fill="#a33a0b" stroke="#7c7c7c" stroke-width="1.1"/><rect x="57.20" y="361.39" width="125.29" height="6.1" fill="#a33a0b" stroke="#7c7c7c" stroke-width="1.1"/><rect x="57.20" y="368.96" width="95.15" height="6.1" fill="#dc6112" stroke="#7c7c7c" stroke-width="1.1"/><rect x="57.20" y="376.53" width="88.06" height="6.1" fill="#dc6112" stroke="#7c7c7c" stroke-width="1.1"/><rect x="57.20" y="384.10" width="86.88" height="6.1" fill="#dc6112" stroke="#7c7c7c" stroke-width="1.1"/><rect x="57.20" y="391.67" width="85.10" height="6.1" fill="#dc6112" stroke="#7c7c7c" stroke-width="1.1"/><rect x="57.20" y="399.24" width="82.15" height="6.1" fill="#dc6112" stroke="#7c7c7c" stroke-width="1.1"/><rect x="57.20" y="406.81" width="49.64" height="6.1" fill="#f8982a" stroke="#7c7c7c" stroke-width="1.1"/><rect x="57.20" y="414.38" width="42.55" height="6.1" fill="#f8982a" stroke="#7c7c7c" stroke-width="1.1"/><rect x="57.20" y="421.95" width="36.64" height="6.1" fill="#f8982a" stroke="#7c7c7c" stroke-width="1.1"/><rect x="57.20" y="429.52" width="18.32" height="6.1" fill="#fde59a" stroke="#7c7c7c" stroke-width="1.1"/><rect x="57.20" y="437.09" width="13.59" height="6.1" fill="#fffbd2" stroke="#7c7c7c" stroke-width="1.1"/><rect x="57.2" y="303.6" width="206.8" height="144" fill="none" stroke="#777" stroke-width="0.9"/><line x1="57.20" y1="447.6" x2="57.20" y2="450.2" stroke="#444" stroke-width="0.9"/><line x1="86.75" y1="447.6" x2="86.75" y2="450.2" stroke="#444" stroke-width="0.9"/><line x1="116.30" y1="447.6" x2="116.30" y2="450.2" stroke="#444" stroke-width="0.9"/><line x1="145.85" y1="447.6" x2="145.85" y2="450.2" stroke="#444" stroke-width="0.9"/><line x1="175.40" y1="447.6" x2="175.40" y2="450.2" stroke="#444" stroke-width="0.9"/><line x1="204.95" y1="447.6" x2="204.95" y2="450.2" stroke="#444" stroke-width="0.9"/><line x1="234.50" y1="447.6" x2="234.50" y2="450.2" stroke="#444" stroke-width="0.9"/><line x1="264.05" y1="447.6" x2="264.05" y2="450.2" stroke="#444" stroke-width="0.9"/></svg><div class="gol" style="left:266.6px;top:308.10px">GO:0032501: multicellular organismal process</div><div class="gol" style="left:266.6px;top:315.65px">GO:0051179: localization</div><div class="gol" style="left:266.6px;top:323.20px">GO:0050896: response to stimulus</div><div class="gol" style="left:266.6px;top:330.75px">GO:0002376: immune system process</div><div class="gol" style="left:266.6px;top:338.30px">GO:0009987: cellular process</div><div class="gol" style="left:266.6px;top:345.85px">GO:0032502: developmental process</div><div class="gol" style="left:266.6px;top:353.40px">GO:0048518: positive regulation of biological process</div><div class="gol" style="left:266.6px;top:360.95px">GO:0040011: locomotion</div><div class="gol" style="left:266.6px;top:368.50px">GO:0050789: regulation of biological process</div><div class="gol" style="left:266.6px;top:376.05px">GO:0065007: biological regulation</div><div class="gol" style="left:266.6px;top:383.60px">GO:0008152: metabolic process</div><div class="gol" style="left:266.6px;top:391.15px">GO:0044419: biological process involved in interspecies interaction between organisms</div><div class="gol" style="left:266.6px;top:398.70px">GO:0048519: negative regulation of biological process</div><div class="gol" style="left:266.6px;top:406.25px">GO:0016032: viral process</div><div class="gol" style="left:266.6px;top:413.80px">GO:0040007: growth</div><div class="gol" style="left:266.6px;top:421.35px">GO:0042592: homeostatic process</div><div class="gol" style="left:266.6px;top:428.90px">GO:0022414: reproductive process</div><div class="gol" style="left:266.6px;top:436.45px">GO:0043473: pigmentation</div><div class="xl" style="left:47.2px;top:450.8px">0</div><div class="xl" style="left:76.8px;top:450.8px">5</div><div class="xl" style="left:106.3px;top:450.8px">10</div><div class="xl" style="left:135.9px;top:450.8px">15</div><div class="xl" style="left:165.4px;top:450.8px">20</div><div class="xl" style="left:194.9px;top:450.8px">25</div><div class="xl" style="left:224.5px;top:450.8px">30</div><div class="xl" style="left:254.1px;top:450.8px">35</div><div class="xl" style="left:131.2px;top:459.6px;width:60px;font-size:6.6px">-log10(P)</div><div class="plab" id="pc" style="left:234.3px;top:472.8px">(c)</div><div class="hbar" style="left:49.2px;top:517.70px;width:397.5px;background:#fdc764"></div><div class="hl" style="left:51px;top:518.70px">Epithelial Mesenchymal Transition</div><div class="hbar" style="left:49.2px;top:534.04px;width:172.4px;background:#8c6f40"></div><div class="hl" style="left:51px;top:535.04px">Inflammatory Response</div><div class="hbar" style="left:49.2px;top:550.38px;width:101.0px;background:#8c6f40"></div><div class="hl" style="left:51px;top:551.38px">Myogenesis</div><div class="hbar" style="left:49.2px;top:566.72px;width:91.6px;background:#8c6f40"></div><div class="hl" style="left:51px;top:567.72px">TNF-alpha Signaling via NF-kB</div><div class="hbar" style="left:49.2px;top:583.06px;width:82.0px;background:#8c6f40"></div><div class="hl" style="left:51px;top:584.06px">Interferon Gamma Response</div><div class="hbar" style="left:49.2px;top:599.40px;width:82.4px;background:#8c6f40"></div><div class="hl" style="left:51px;top:600.40px">Complement</div><div class="hbar" style="left:49.2px;top:615.74px;width:78.8px;background:#8c6f40"></div><div class="hl" style="left:51px;top:616.74px">Coagulation</div><div class="hbar" style="left:49.2px;top:632.08px;width:73.3px;background:#8c6f40"></div><div class="hl" style="left:51px;top:633.08px">Apical Junction</div><div class="hbar" style="left:49.2px;top:648.42px;width:39.9px;background:#8c6f40"></div><div class="hl" style="left:51px;top:649.42px">IL-2/STAT5 Signaling</div><div class="hbar" style="left:49.2px;top:664.76px;width:39.2px;background:#8c6f40"></div><div class="hl" style="left:51px;top:665.76px">Allograft Rejection</div><div class="plab" id="pd" style="left:234.8px;top:692.8px">(d)</div></body></html>
